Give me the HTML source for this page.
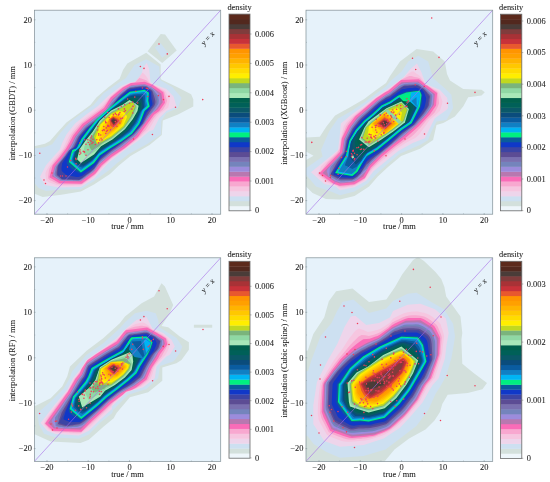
<!DOCTYPE html><html><head><meta charset="utf-8"><style>html,body{margin:0;padding:0;background:#fff}svg{display:block}text{stroke:#222;stroke-width:0.07px}</style></head><body><svg width="550" height="482" viewBox="0 0 550 482" font-family="'Liberation Serif', serif" font-size="8.4" fill="#222">
<rect width="550" height="482" fill="#fff"/>
<clipPath id="c0"><rect x="34.4" y="10.2" width="186.29999999999998" height="204.0"/></clipPath>
<rect x="34.4" y="10.2" width="186.29999999999998" height="204.0" fill="#e6f2fa"/>
<g clip-path="url(#c0)">
<polygon fill="#d3e0dc" points="147.6,51.3 160.7,34.1 165.1,34.5 176.7,50.5 162.2,62.9"/>
<polygon fill="#cde0f1" points="154.9,47.6 160.7,43.3 168.0,52.7 162.2,57.8"/>
<polygon fill="#d3e0dc" points="30.0,147.0 44.9,143.8 50.0,141.0 56.5,133.4 66.4,122.5 78.4,113.7 90.4,105.0 96.4,97.6 108.0,87.5 119.6,78.7 123.0,70.0 127.3,63.6 146.2,52.7 160.7,64.4 160.7,78.2 161.3,79.6 178.0,87.6 191.1,94.2 193.3,99.3 193.3,106.5 178.0,114.5 162.8,120.4 161.8,134.9 149.5,145.1 130.5,156.0 118.9,165.5 110.0,174.1 94.0,184.4 80.9,191.5 61.3,194.7 42.7,196.9 34.0,193.6 30.0,192.0"/>
<polygon fill="#cde0f1" points="30.0,149.0 44.5,147.2 52.2,144.3 60.9,132.3 70.7,121.4 82.7,112.6 93.6,105.0 103.6,93.3 118.2,83.1 125.8,78.2 134.5,65.1 146.2,59.3 159.3,66.5 160.0,78.2 161.0,80.5 172.2,86.9 181.6,97.8 178.0,108.0 166.4,113.1 161.3,121.0 161.1,134.2 148.0,143.6 129.1,153.8 116.0,164.0 110.0,169.5 94.0,181.1 80.9,189.3 59.1,189.8 46.0,191.0 38.7,188.0 34.4,183.0 30.0,181.0"/>
<polygon fill="#eed5eb" points="40.0,176.7 46.0,165.3 53.6,156.5 59.6,150.0 62.0,143.2 66.4,134.5 75.1,123.5 86.0,114.8 98.0,106.1 108.0,96.2 121.1,86.0 129.8,82.4 139.5,81.0 143.5,67.0 146.8,63.0 149.0,68.5 150.5,82.0 153.3,84.0 166.4,89.1 173.6,96.4 176.5,106.5 166.4,110.9 159.1,118.2 153.3,130.0 149.5,131.0 137.8,141.0 124.7,150.0 108.7,162.5 94.0,178.4 80.9,187.1 59.1,187.6 44.9,184.9"/>
<polygon fill="#f6c6e0" points="155.1,85.4 154.1,84.9 153.0,84.4 151.9,83.8 150.9,83.2 149.9,82.5 149.2,81.4 148.6,80.1 147.9,78.8 147.1,77.5 146.2,76.3 145.2,74.9 143.9,73.7 142.6,72.5 135.2,82.1 133.2,82.4 131.0,82.6 128.5,83.6 125.8,84.9 123.0,86.2 120.0,88.2 116.8,90.7 113.7,93.2 110.7,95.7 107.7,99.1 104.8,102.5 102.1,105.4 99.3,107.8 96.4,110.1 93.4,112.3 90.2,114.6 86.9,117.1 83.5,119.7 80.0,122.5 76.9,125.6 74.3,128.8 71.8,132.0 69.4,135.2 67.8,138.3 66.3,141.2 65.0,144.0 63.8,146.8 62.3,149.5 59.6,152.7 56.8,156.1 53.9,159.6 50.9,163.3 48.6,166.7 46.7,169.9 45.4,172.9 45.5,174.9 45.7,176.8 45.9,178.6 46.3,180.2 47.4,181.3 48.5,182.3 50.1,182.8 51.6,183.3 53.1,183.8 54.5,184.3 55.9,184.7 57.2,185.2 58.7,185.5 60.3,185.6 61.9,185.7 63.6,185.7 65.3,185.7 67.0,185.7 68.7,185.7 70.4,185.7 72.1,185.7 73.9,185.7 75.7,185.6 77.5,185.6 79.5,185.6 81.8,185.2 84.9,183.0 87.9,180.9 90.9,178.8 93.9,176.7 97.2,173.2 100.4,169.5 103.2,166.6 105.9,163.9 108.5,161.4 111.0,159.3 113.6,157.3 116.2,155.4 119.0,153.4 121.8,151.3 124.8,149.2 127.8,146.9 131.1,144.5 134.5,141.9 138.0,139.1 141.3,136.1 144.4,133.0 148.9,129.6 150.7,126.4 152.6,123.2 154.4,120.1 157.2,116.7 160.7,113.0 168.2,107.5 168.9,104.5 169.6,101.8 169.8,99.3 169.0,97.5 168.1,95.9 167.3,94.4 166.5,93.0 165.7,91.6 164.9,90.4 163.5,89.7 162.1,89.0 160.9,88.4 159.7,87.8 158.5,87.2 157.4,86.6 156.2,86.0"/>
<polygon fill="#f8a8d0" points="154.8,85.8 153.8,85.2 152.7,84.6 151.6,84.1 150.5,83.6 149.4,83.0 148.5,82.3 147.6,81.4 146.6,80.6 145.4,79.9 144.1,79.4 142.6,78.9 141.1,78.4 139.4,78.0 135.0,82.4 133.0,82.7 130.9,82.9 128.3,84.1 125.5,85.5 122.8,86.9 119.7,89.3 116.6,91.8 113.6,94.3 110.6,96.9 107.7,100.8 105.0,104.4 102.5,107.2 99.9,109.4 97.1,111.4 94.3,113.5 91.3,115.7 88.2,118.0 85.0,120.5 81.6,123.1 78.8,126.0 76.4,129.1 74.0,132.1 71.7,135.1 70.1,138.0 68.7,140.7 67.4,143.4 66.1,146.0 64.6,148.6 62.3,151.6 59.9,154.7 57.4,157.9 54.5,161.3 51.8,164.9 49.8,168.1 48.9,170.6 48.6,172.8 48.3,174.9 48.0,177.0 48.3,178.7 49.5,179.7 50.7,180.5 52.0,181.1 53.4,181.7 54.6,182.3 55.9,182.9 57.1,183.5 58.3,184.0 59.8,184.3 61.4,184.4 63.0,184.4 64.7,184.5 66.3,184.5 67.9,184.5 69.5,184.5 71.2,184.5 72.8,184.5 74.6,184.6 76.3,184.6 78.1,184.6 80.0,184.6 82.4,183.9 85.5,181.7 88.5,179.5 91.5,177.3 94.3,175.2 97.6,171.6 100.7,167.7 103.4,165.1 106.0,162.7 108.5,160.5 110.9,158.4 113.4,156.5 116.0,154.7 118.7,152.8 121.5,150.9 124.4,148.8 127.4,146.5 130.4,144.1 133.7,141.6 137.0,138.9 140.0,136.0 142.5,132.9 145.7,129.8 147.6,126.8 149.6,123.8 151.5,120.9 153.9,117.8 156.6,114.5 163.0,109.6 164.8,106.5 166.3,103.4 167.1,100.7 166.6,98.9 166.0,97.2 165.5,95.5 165.0,94.0 164.5,92.5 163.8,91.2 162.5,90.4 161.3,89.7 160.1,89.0 159.0,88.3 157.9,87.7 156.8,87.0 155.8,86.4"/>
<polygon fill="#fa6cb8" points="59.6,183.3 81.6,183.8 95.6,173.4 101.6,165.5 111.5,157.1 124.6,148.3 138.0,137.1 146.9,124.6 154.0,114.7 159.2,111.1 165.0,102.7 163.3,92.2 152.8,84.9 144.8,81.8 131.4,83.1 130.6,83.2 122.8,87.4 110.7,97.5 104.0,107.9 91.2,117.4 82.3,124.1 73.2,135.4 69.9,142.1 66.0,148.8 59.6,157.3 52.7,165.3 49.4,177.2"/>
<polygon fill="#b878b0" points="52.0,176.2 54.7,166.4 61.3,158.7 67.8,150.0 71.8,143.2 75.1,136.6 83.8,125.7 92.5,119.2 105.6,109.4 112.4,99.0 124.0,89.2 131.3,85.3 144.5,84.0 151.8,86.9 161.3,93.5 162.7,102.2 157.6,109.5 152.4,113.1 145.1,123.3 136.4,135.6 123.3,146.5 110.2,155.3 100.0,164.0 94.0,171.8 80.9,181.6 60.2,181.1"/>
<polygon fill="#9c8cdc" points="152.3,88.1 151.4,87.4 150.3,86.9 149.2,86.5 148.2,86.0 147.1,85.5 145.9,85.1 144.6,84.8 143.2,84.7 141.5,84.8 139.9,85.0 138.1,85.2 136.4,85.4 134.6,85.6 132.7,85.8 130.8,86.1 128.3,87.4 125.6,89.0 123.0,90.8 120.1,93.3 117.2,96.0 114.5,98.6 111.9,101.2 109.3,105.1 107.0,108.3 104.9,110.8 102.7,112.4 100.5,114.1 98.3,115.8 96.0,117.5 93.6,119.3 91.0,121.2 88.4,123.2 85.6,125.3 83.2,127.7 81.2,130.2 79.1,132.7 77.1,135.2 75.5,137.6 74.3,140.0 73.2,142.2 72.0,144.4 70.8,146.6 69.5,148.8 67.1,151.5 65.2,154.1 63.2,156.8 60.9,159.7 58.0,163.1 55.6,166.4 54.8,168.6 54.3,170.7 53.8,172.7 53.3,174.8 53.9,176.0 54.8,176.9 55.9,177.6 57.0,178.3 58.0,179.0 59.1,179.6 60.1,180.3 61.3,180.7 62.9,180.7 64.4,180.8 65.9,180.8 67.4,180.8 68.8,180.9 70.3,180.9 71.8,181.0 73.3,181.0 74.8,181.0 76.4,181.1 78.0,181.1 79.8,180.9 81.9,180.3 84.8,178.1 87.6,176.0 90.2,174.0 92.9,172.0 95.9,168.5 98.9,164.6 101.3,162.0 103.4,160.2 105.5,158.4 107.6,156.6 109.7,154.9 111.8,153.3 114.0,151.8 116.3,150.3 118.7,148.7 121.2,146.9 123.8,145.0 126.3,143.0 129.0,140.8 131.8,138.5 134.8,136.0 137.0,133.4 139.0,130.8 140.9,128.2 142.9,125.6 144.8,123.0 146.5,120.4 148.3,117.9 150.0,115.2 153.8,111.7 156.9,108.3 159.0,105.2 160.5,102.5 160.5,100.6 160.4,98.9 160.1,97.3 159.9,95.8 159.4,94.4 158.4,93.5 157.5,92.7 156.6,91.8 155.8,91.0 154.9,90.2 154.1,89.4 153.2,88.7"/>
<polygon fill="#7484bc" points="151.8,88.6 150.9,87.9 149.9,87.4 148.8,86.9 147.8,86.4 146.8,85.8 145.5,85.6 144.2,85.3 142.8,85.2 141.2,85.4 139.5,85.6 137.8,85.8 136.0,86.0 134.2,86.2 132.4,86.4 130.5,86.7 128.0,88.1 125.3,90.0 122.6,91.9 119.8,94.3 116.9,97.3 114.2,100.2 111.6,102.9 109.2,106.6 107.0,109.4 105.0,111.6 102.9,113.2 100.8,114.8 98.6,116.4 96.4,118.1 94.1,119.9 91.7,121.7 89.1,123.6 86.4,125.6 84.0,127.9 82.1,130.3 80.1,132.7 78.1,135.1 76.4,137.5 75.3,139.7 74.3,141.9 73.2,144.0 72.0,146.2 70.9,148.2 67.8,151.2 66.0,153.7 64.1,156.3 61.9,159.2 59.1,162.4 56.7,165.7 55.7,168.0 55.3,170.0 54.9,171.9 54.4,173.9 54.8,175.3 55.5,176.3 56.6,177.1 57.6,177.8 58.6,178.5 59.6,179.2 60.5,179.8 61.7,180.2 63.3,180.3 64.8,180.3 66.3,180.4 67.7,180.4 69.2,180.4 70.6,180.5 72.1,180.5 73.6,180.6 75.1,180.6 76.6,180.7 78.2,180.7 80.1,180.3 82.4,179.3 85.3,177.1 88.0,175.0 90.6,173.1 93.2,171.0 96.4,167.0 99.2,163.1 101.5,160.8 103.6,159.1 105.6,157.4 107.6,155.7 109.6,154.0 111.6,152.6 113.7,151.1 115.9,149.6 118.2,148.0 120.6,146.4 123.1,144.5 125.5,142.6 128.1,140.5 130.9,138.3 133.8,135.9 136.2,133.4 138.2,130.9 140.2,128.3 142.2,125.8 144.2,123.2 145.8,120.7 147.3,118.2 148.9,115.7 152.0,112.5 154.5,109.5 156.6,106.5 158.4,103.7 158.7,101.7 158.8,99.9 158.5,98.4 158.3,96.9 157.9,95.6 157.1,94.6 156.3,93.6 155.6,92.7 154.9,91.8 154.2,90.9 153.5,89.9 152.7,89.2"/>
<polygon fill="#7a70b0" points="151.3,89.1 150.4,88.5 149.4,87.9 148.5,87.3 147.5,86.7 146.5,86.2 145.1,86.0 143.8,85.9 142.3,85.8 140.8,85.9 139.1,86.1 137.4,86.4 135.6,86.6 133.9,86.9 132.0,87.1 130.1,87.4 127.7,88.8 124.9,90.9 122.2,93.0 119.4,95.4 116.5,98.7 113.8,101.8 111.4,104.7 109.1,108.1 107.0,110.4 105.0,112.4 103.1,113.9 101.0,115.5 99.0,117.1 96.8,118.7 94.6,120.4 92.3,122.1 89.8,124.0 87.2,125.9 84.9,128.1 82.9,130.4 81.0,132.7 79.1,135.1 77.4,137.4 76.3,139.5 75.3,141.6 74.3,143.7 73.3,145.7 72.2,147.7 68.4,150.9 66.7,153.3 65.0,155.9 62.9,158.6 60.2,161.8 57.7,165.0 56.6,167.4 56.3,169.3 55.9,171.2 55.6,173.1 55.8,174.5 56.2,175.8 57.2,176.5 58.2,177.2 59.1,178.0 60.1,178.7 61.0,179.4 62.2,179.8 63.7,179.8 65.2,179.9 66.6,179.9 68.1,180.0 69.5,180.0 71.0,180.1 72.4,180.1 73.9,180.2 75.4,180.2 76.9,180.2 78.5,180.3 80.5,179.7 83.0,178.2 85.8,176.1 88.4,174.1 91.0,172.1 93.6,170.1 96.8,165.6 99.6,161.7 101.7,159.7 103.7,158.0 105.7,156.4 107.6,154.8 109.5,153.2 111.4,151.8 113.5,150.4 115.5,148.9 117.7,147.4 120.0,145.8 122.4,144.0 124.8,142.2 127.3,140.2 130.0,138.1 132.8,135.8 135.3,133.4 137.3,130.9 139.4,128.4 141.5,125.9 143.6,123.3 145.0,120.9 146.3,118.6 147.7,116.2 150.1,113.4 152.1,110.7 154.1,107.9 156.3,104.9 156.9,102.8 157.1,101.0 156.9,99.5 156.6,98.0 156.3,96.7 155.7,95.6 155.1,94.6 154.6,93.5 154.0,92.5 153.5,91.5 153.0,90.5 152.1,89.8"/>
<polygon fill="#5c4c94" points="150.7,89.6 149.9,89.0 149.0,88.4 148.1,87.7 147.1,87.1 146.2,86.5 144.8,86.5 143.4,86.4 141.9,86.4 140.4,86.5 138.7,86.7 137.0,87.0 135.3,87.2 133.5,87.5 131.7,87.8 129.8,88.1 127.3,89.4 124.5,91.8 121.8,94.1 119.1,96.5 116.2,100.0 113.5,103.4 111.1,106.5 109.0,109.6 107.0,111.4 105.1,113.1 103.2,114.6 101.3,116.2 99.3,117.7 97.3,119.3 95.2,120.9 92.9,122.6 90.6,124.4 88.1,126.2 85.7,128.3 83.8,130.5 81.9,132.7 80.0,135.0 78.3,137.2 77.3,139.3 76.4,141.3 75.4,143.3 74.5,145.2 73.6,147.1 69.1,150.6 67.5,153.0 65.8,155.4 63.8,158.1 61.3,161.1 58.8,164.3 57.5,166.8 57.2,168.6 57.0,170.4 56.7,172.2 56.7,173.8 56.9,175.2 57.9,176.0 58.8,176.7 59.7,177.5 60.6,178.2 61.4,178.9 62.6,179.4 64.1,179.4 65.6,179.5 67.0,179.5 68.4,179.5 69.9,179.6 71.3,179.6 72.7,179.7 74.2,179.7 75.7,179.8 77.2,179.8 78.7,179.9 80.9,179.0 83.5,177.2 86.3,175.1 88.9,173.2 91.4,171.2 93.9,169.1 97.3,164.2 100.0,160.3 102.0,158.5 103.9,156.9 105.7,155.4 107.6,153.9 109.4,152.4 111.3,151.0 113.2,149.6 115.2,148.2 117.3,146.7 119.4,145.2 121.7,143.5 124.0,141.8 126.4,139.9 129.0,137.9 131.8,135.7 134.4,133.4 136.5,131.0 138.7,128.6 140.9,126.0 143.0,123.5 144.2,121.2 145.4,118.9 146.6,116.7 148.2,114.2 149.7,111.9 151.6,109.2 154.2,106.1 155.1,103.9 155.5,102.0 155.3,100.6 155.0,99.2 154.7,97.9 154.3,96.7 153.9,95.5 153.5,94.4 153.2,93.3 152.8,92.1 152.4,91.0 151.6,90.3"/>
<polygon fill="#3c44a4" points="57.5,174.5 58.5,165.3 65.6,156.5 70.0,150.0 74.5,147.5 79.5,136.6 87.1,127.9 95.8,121.4 108.9,111.0 118.2,98.0 128.4,88.9 140.0,87.0 146.0,86.9 151.8,91.3 154.0,103.6 151.8,108.0 148.0,111.6 142.2,124.0 133.0,134.0 121.3,142.8 108.7,152.0 100.0,159.2 94.0,168.6 79.8,179.5 62.4,178.9"/>
<polygon fill="#1038c8" points="149.1,90.5 148.4,89.9 147.6,89.3 146.8,88.8 146.0,88.2 145.0,87.9 143.6,88.0 142.3,88.1 140.9,88.1 139.6,88.2 138.1,88.4 136.6,88.6 135.1,88.8 133.6,89.1 132.0,89.3 130.2,89.8 128.3,90.5 126.0,92.2 123.5,94.3 121.1,96.3 118.9,98.3 116.5,100.9 114.3,103.6 112.2,106.1 110.4,108.4 108.6,110.4 106.8,111.9 105.1,113.3 103.3,114.8 101.4,116.3 99.5,117.9 97.6,119.5 95.7,121.2 93.7,123.0 91.6,124.8 89.4,126.7 87.3,128.7 85.6,130.8 83.8,132.8 82.0,135.0 80.5,137.1 79.4,139.0 78.5,140.9 77.6,142.7 76.8,144.6 75.9,146.3 71.8,149.9 68.8,153.0 67.5,155.3 65.6,158.0 63.6,160.9 62.1,163.4 61.9,165.2 61.6,166.9 61.5,168.5 61.6,170.0 62.0,171.2 62.8,172.0 63.7,172.8 64.5,173.5 65.4,174.3 66.2,175.0 67.5,175.2 68.8,175.4 70.1,175.7 71.4,175.9 72.7,176.2 74.0,176.4 75.3,176.7 76.6,176.9 78.1,177.0 80.1,176.4 82.0,175.9 84.9,173.7 87.7,171.6 90.3,169.7 93.1,167.1 96.0,164.2 99.5,159.1 101.7,156.6 103.6,155.1 105.5,153.7 107.3,152.3 109.1,150.9 110.9,149.6 112.7,148.3 114.6,147.0 116.6,145.7 118.6,144.3 120.7,142.8 122.9,141.2 125.1,139.5 127.5,137.8 130.0,135.9 132.7,133.9 134.7,131.6 136.7,129.3 138.7,127.0 140.7,124.7 142.0,122.4 143.0,120.3 143.9,118.3 144.8,116.3 145.6,114.4 146.4,112.5 148.7,110.0 150.1,107.7 152.3,105.1 152.4,103.5 152.1,102.3 151.9,101.0 151.7,99.9 151.4,98.7 151.3,97.6 151.2,96.4 151.1,95.2 151.0,94.0 150.9,92.8 150.6,91.8 149.9,91.0"/>
<polygon fill="#0a5c9c" points="148.1,91.5 147.3,91.0 146.5,90.5 145.8,90.0 145.0,89.4 143.7,89.4 142.3,89.6 140.9,89.8 139.6,90.0 138.2,90.1 136.9,90.3 135.4,90.5 134.0,90.7 132.6,90.9 131.1,91.1 129.2,91.8 127.1,93.2 124.8,94.9 122.6,96.6 120.5,98.4 118.4,100.1 116.3,102.0 114.2,103.9 112.3,105.7 110.4,107.4 108.5,109.2 106.6,110.8 104.7,112.5 102.9,114.1 101.0,115.8 99.1,117.4 97.1,119.1 95.4,121.0 93.7,123.0 92.0,124.9 90.3,126.8 88.6,128.7 87.1,130.6 85.7,132.6 84.1,134.5 82.7,136.5 81.4,138.4 80.3,140.2 79.5,142.0 78.6,143.7 77.8,145.4 76.1,147.6 71.0,151.8 70.4,153.6 69.5,155.5 68.7,157.4 68.0,159.3 67.6,160.9 67.2,162.6 67.2,163.9 67.8,164.8 68.4,165.6 69.2,166.3 69.9,166.9 70.7,167.6 71.4,168.2 72.1,168.9 73.0,169.4 73.9,169.9 74.7,170.4 75.6,170.9 76.5,171.4 77.4,172.0 78.3,172.6 79.3,173.2 80.6,173.3 83.1,171.8 85.4,170.3 87.9,168.5 90.3,166.8 92.5,165.2 95.5,161.8 98.5,158.2 100.7,155.6 102.5,154.2 104.2,153.0 105.9,151.8 107.5,150.7 109.2,149.5 110.9,148.4 112.6,147.3 114.4,146.1 116.3,144.9 118.3,143.7 120.4,142.3 122.5,140.8 124.7,139.2 127.0,137.5 129.5,135.7 132.2,133.8 133.9,131.5 135.7,129.3 137.4,127.1 139.1,124.9 140.4,122.8 141.2,120.8 142.1,118.9 142.8,117.1 143.5,115.3 144.2,113.6 145.2,111.7 146.3,109.8 150.1,106.3 150.1,104.9 149.9,103.7 149.6,102.6 149.4,101.5 149.1,100.5 149.1,99.3 149.1,98.0 149.2,96.8 149.2,95.5 149.3,94.2 149.3,92.9 148.9,92.1"/>
<polygon fill="#00f080" points="80.9,172.4 68.9,162.0 72.2,150.0 76.7,148.6 81.6,138.8 89.3,128.5 96.4,119.5 109.5,107.8 121.1,98.4 129.8,91.8 140.0,90.5 144.5,89.8 148.9,92.7 148.2,100.7 149.6,106.5 144.5,110.9 141.5,118.9 139.3,124.0 132.0,133.7 121.0,141.7 109.2,149.0 100.0,155.2 94.0,163.1"/>
<polygon fill="#00b4f4" points="147.0,92.6 146.2,92.1 145.5,91.6 144.7,91.1 143.6,91.0 142.3,91.2 140.9,91.4 139.6,91.6 138.3,91.7 137.0,91.9 135.7,92.1 134.4,92.2 133.0,92.4 131.6,92.6 129.9,93.3 128.0,94.4 125.9,96.0 123.8,97.6 121.8,99.2 119.8,100.7 117.9,102.3 116.0,103.8 114.2,105.3 112.4,106.8 110.5,108.3 108.7,109.8 107.0,111.4 105.2,113.0 103.4,114.6 101.6,116.2 99.8,117.8 98.0,119.5 96.3,121.3 94.8,123.1 93.4,125.0 91.9,126.8 90.5,128.6 89.2,130.3 87.8,132.1 86.5,133.9 85.2,135.7 83.8,137.5 82.6,139.3 81.6,141.0 80.8,142.6 80.0,144.2 79.2,145.8 75.9,148.9 75.3,150.5 72.2,153.7 71.8,155.2 71.4,156.8 70.9,158.4 70.5,160.0 70.3,161.4 70.8,162.3 71.5,162.9 72.2,163.5 72.9,164.1 73.6,164.7 74.3,165.3 75.0,165.9 75.6,166.5 76.3,167.1 77.0,167.7 77.8,168.3 78.5,169.0 79.2,169.6 80.0,170.3 81.3,170.4 83.2,169.5 85.7,167.8 88.1,166.1 90.3,164.5 92.9,162.1 95.7,159.1 98.2,156.3 100.3,153.9 101.9,152.7 103.5,151.7 104.9,150.7 106.4,149.7 108.0,148.6 109.5,147.7 111.0,146.7 112.6,145.7 114.3,144.7 116.1,143.6 117.9,142.4 119.8,141.2 121.8,139.9 123.9,138.4 126.1,136.8 128.4,135.1 130.9,133.3 132.6,131.2 134.2,129.1 135.7,127.1 137.3,125.0 138.6,123.0 139.4,121.1 140.2,119.4 140.9,117.6 141.5,116.0 142.1,114.4 142.7,112.9 143.6,111.2 146.0,108.6 146.9,106.8 148.2,104.8 147.9,103.7 147.6,102.7 147.4,101.7 147.3,100.6 147.3,99.4 147.4,98.2 147.5,96.9 147.6,95.7 147.8,94.4 147.6,93.3"/>
<polygon fill="#1080c4" points="81.0,169.9 92.6,161.6 98.6,153.7 108.1,147.3 119.9,140.0 130.6,132.3 137.6,123.0 139.6,118.2 142.8,109.7 147.4,105.8 146.2,100.9 146.8,93.7 144.0,91.9 140.3,92.5 130.6,93.7 122.3,100.0 110.8,109.3 97.9,120.9 90.9,129.7 83.3,139.9 78.1,150.3 73.8,151.6 71.2,161.3"/>
<polygon fill="#0a5ca0" points="143.2,94.3 142.5,93.8 141.3,93.8 140.1,93.9 138.8,94.0 137.6,94.1 136.5,94.2 135.3,94.3 134.1,94.3 132.9,94.6 131.5,94.9 130.2,95.2 128.4,96.2 126.4,97.7 124.4,99.1 122.6,100.5 120.8,101.8 119.1,103.2 117.4,104.5 115.8,105.7 114.2,106.9 112.6,108.1 111.0,109.4 109.5,110.7 107.9,112.1 106.4,113.5 104.9,114.8 103.5,116.1 102.0,117.5 100.5,118.8 99.0,120.2 97.6,121.7 96.4,123.2 95.2,124.8 94.1,126.2 92.9,127.7 91.8,129.2 90.8,130.6 89.7,132.0 88.6,133.5 87.5,134.9 86.4,136.4 85.3,137.9 84.1,139.4 83.3,140.8 82.6,142.2 81.9,143.5 81.1,144.9 80.4,146.3 79.6,147.8 74.6,152.1 74.2,153.5 73.8,154.9 73.4,156.2 73.0,157.6 72.6,159.1 72.4,160.4 72.9,161.1 73.4,161.8 73.9,162.5 74.5,163.0 75.1,163.6 75.8,164.1 76.4,164.7 77.0,165.3 77.7,165.8 78.4,166.4 79.3,166.7 80.3,167.0 81.2,167.3 82.2,167.7 84.2,166.5 86.5,164.9 88.6,163.5 90.7,161.8 92.7,160.2 95.3,157.3 97.9,153.9 99.8,152.0 101.2,151.0 102.6,150.1 104.0,149.2 105.5,148.2 106.9,147.2 108.4,146.3 109.9,145.3 111.5,144.4 113.1,143.3 114.9,142.3 116.7,141.1 118.6,139.8 120.6,138.4 122.7,136.9 124.9,135.3 127.2,133.6 129.5,131.7 131.2,129.7 132.7,127.6 134.3,125.6 135.8,123.6 136.8,121.7 137.6,119.9 138.5,118.1 139.2,116.4 139.9,114.8 140.5,113.2 141.2,111.6 142.5,109.6 145.6,106.5 145.5,105.3 145.3,104.2 145.1,103.2 144.9,102.1 145.0,100.9 145.0,99.8 145.0,98.6 145.0,97.5 144.9,96.3 144.7,95.3 144.0,94.8"/>
<polygon fill="#0a4c7c" points="141.5,96.1 140.8,95.6 139.7,95.5 138.6,95.6 137.5,95.6 136.4,95.6 135.4,95.6 134.3,95.5 133.3,95.5 132.0,95.8 130.6,96.3 129.2,96.8 127.4,97.8 125.5,99.2 123.8,100.4 122.1,101.6 120.4,102.8 118.7,104.0 117.1,105.2 115.6,106.3 114.1,107.4 112.5,108.5 111.0,109.6 109.5,111.0 107.9,112.4 106.5,113.7 105.0,115.0 103.5,116.3 102.1,117.6 100.6,119.0 99.1,120.3 97.8,121.8 96.6,123.4 95.5,124.9 94.4,126.3 93.4,127.8 92.3,129.2 91.3,130.6 90.3,131.9 89.3,133.3 88.2,134.7 87.1,136.1 86.0,137.6 84.8,139.1 84.0,140.5 83.1,141.9 82.4,143.3 81.6,144.7 80.8,146.1 79.9,147.5 75.7,151.3 75.2,152.8 74.8,154.1 74.5,155.4 74.1,156.7 73.8,158.1 73.5,159.4 73.8,160.2 74.2,161.0 74.5,161.8 75.1,162.4 75.7,162.9 76.3,163.5 77.0,164.1 77.6,164.6 78.2,165.2 78.9,165.7 80.1,165.6 81.3,165.6 82.4,165.6 83.5,165.7 85.5,164.5 87.6,163.1 89.6,161.7 91.7,159.9 93.8,158.1 96.2,155.4 98.6,152.4 100.2,150.7 101.6,149.8 102.9,149.0 104.3,148.1 105.6,147.2 107.0,146.3 108.4,145.4 109.8,144.5 111.3,143.6 112.9,142.6 114.5,141.6 116.2,140.4 118.0,139.2 119.9,137.9 121.8,136.5 123.8,134.9 126.0,133.3 128.2,131.5 129.8,129.6 131.3,127.7 132.8,125.8 134.2,123.9 135.3,122.1 136.2,120.4 137.1,118.6 137.9,117.0 138.6,115.4 139.3,113.8 140.0,112.2 141.2,110.4 143.9,107.6 143.9,106.4 143.8,105.2 143.7,104.2 143.6,103.1 143.7,101.9 143.6,100.9 143.4,99.9 143.3,98.9 143.2,97.9 142.9,97.0 142.2,96.5"/>
<polygon fill="#0a5868" points="139.7,97.8 139.0,97.4 138.1,97.3 137.1,97.2 136.1,97.1 135.2,97.0 134.3,96.9 133.3,96.8 132.4,96.7 131.1,97.1 129.6,97.7 128.2,98.3 126.5,99.3 124.7,100.6 123.1,101.7 121.5,102.7 119.9,103.8 118.4,104.8 116.9,105.8 115.4,106.9 113.9,107.9 112.5,108.8 111.0,109.9 109.4,111.3 108.0,112.6 106.5,113.9 105.0,115.2 103.6,116.5 102.1,117.8 100.7,119.1 99.2,120.5 98.0,122.0 96.9,123.5 95.8,125.0 94.8,126.4 93.8,127.8 92.8,129.2 91.9,130.5 90.9,131.8 89.9,133.2 88.9,134.5 87.8,135.9 86.7,137.3 85.5,138.8 84.6,140.2 83.7,141.6 82.9,143.0 82.1,144.4 81.2,145.8 80.3,147.3 76.8,150.6 76.3,152.0 75.9,153.3 75.6,154.6 75.2,155.9 74.9,157.2 74.6,158.5 74.8,159.4 75.0,160.3 75.2,161.2 75.8,161.8 76.4,162.3 76.9,162.9 77.5,163.4 78.1,164.0 78.8,164.5 79.5,165.0 80.9,164.6 82.3,164.2 83.6,164.0 84.9,163.7 86.8,162.6 88.7,161.2 90.6,159.9 92.8,158.0 94.8,156.1 97.1,153.5 99.2,150.8 100.7,149.4 102.0,148.6 103.2,147.8 104.5,147.0 105.7,146.2 107.0,145.4 108.4,144.5 109.7,143.7 111.1,142.8 112.6,141.9 114.2,140.9 115.8,139.8 117.4,138.6 119.1,137.4 120.9,136.0 122.8,134.6 124.8,133.0 126.8,131.4 128.5,129.6 129.9,127.8 131.3,126.0 132.7,124.2 133.7,122.5 134.7,120.8 135.7,119.1 136.7,117.5 137.4,115.9 138.1,114.4 138.8,112.9 140.0,111.1 142.2,108.6 142.3,107.4 142.3,106.2 142.3,105.1 142.3,104.1 142.4,102.9 142.2,102.0 141.9,101.2 141.7,100.3 141.4,99.5 141.0,98.7 140.4,98.3"/>
<polygon fill="#006058" points="137.9,99.6 137.3,99.2 136.5,99.0 135.6,98.8 134.8,98.7 134.0,98.5 133.2,98.3 132.3,98.1 131.5,97.9 130.2,98.3 128.7,99.1 127.2,99.9 125.5,100.9 123.9,102.0 122.4,102.9 120.9,103.8 119.5,104.7 118.0,105.7 116.6,106.5 115.2,107.4 113.8,108.3 112.4,109.2 110.9,110.2 109.4,111.5 108.0,112.8 106.5,114.1 105.1,115.4 103.7,116.7 102.2,118.0 100.8,119.3 99.4,120.6 98.2,122.1 97.2,123.7 96.2,125.1 95.2,126.5 94.2,127.9 93.3,129.2 92.4,130.5 91.5,131.8 90.6,133.0 89.5,134.4 88.5,135.7 87.4,137.1 86.2,138.5 85.2,139.9 84.3,141.3 83.4,142.7 82.5,144.1 81.6,145.6 80.6,147.1 78.0,149.8 77.3,151.3 77.0,152.5 76.7,153.7 76.3,155.0 76.0,156.2 75.7,157.5 75.8,158.5 75.8,159.6 75.8,160.6 76.4,161.1 77.0,161.7 77.5,162.2 78.1,162.8 78.7,163.3 79.3,163.9 80.1,164.3 81.7,163.6 83.3,162.9 84.8,162.3 86.2,161.7 88.0,160.6 89.9,159.4 91.6,158.2 93.8,156.1 95.8,154.0 97.9,151.6 99.9,149.3 101.2,148.2 102.4,147.4 103.5,146.7 104.7,146.0 105.9,145.2 107.1,144.4 108.3,143.7 109.6,142.9 111.0,142.1 112.4,141.2 113.8,140.2 115.3,139.2 116.8,138.0 118.4,136.8 120.0,135.6 121.8,134.2 123.6,132.8 125.5,131.3 127.1,129.6 128.5,127.9 129.8,126.3 131.1,124.6 132.2,122.9 133.3,121.3 134.3,119.7 135.4,118.0 136.2,116.5 136.9,115.0 137.7,113.5 138.7,111.8 140.5,109.6 140.8,108.4 140.8,107.2 140.9,106.1 141.0,105.0 141.1,103.9 140.8,103.1 140.4,102.4 140.0,101.7 139.6,101.1 139.2,100.4 138.6,100.0"/>
<polygon fill="#00604c" points="136.1,101.4 135.6,101.0 134.9,100.7 134.2,100.5 133.5,100.2 132.8,99.9 132.1,99.7 131.4,99.4 130.6,99.1 129.3,99.6 127.7,100.5 126.2,101.4 124.6,102.5 123.1,103.4 121.7,104.2 120.4,105.0 119.0,105.7 117.7,106.5 116.4,107.2 115.0,108.0 113.7,108.8 112.3,109.5 110.9,110.4 109.4,111.8 108.0,113.1 106.5,114.4 105.1,115.6 103.7,116.9 102.3,118.2 100.9,119.4 99.5,120.7 98.5,122.3 97.4,123.8 96.5,125.2 95.6,126.6 94.7,127.9 93.8,129.2 93.0,130.4 92.2,131.7 91.2,132.9 90.2,134.2 89.1,135.5 88.0,136.8 86.9,138.2 85.8,139.6 84.9,141.0 83.9,142.4 83.0,143.8 82.0,145.3 81.0,146.9 79.1,149.1 78.4,150.5 78.0,151.7 77.7,152.9 77.4,154.1 77.1,155.3 76.9,156.5 76.7,157.6 76.6,158.8 76.5,160.0 77.0,160.5 77.6,161.0 78.1,161.6 78.7,162.1 79.3,162.7 79.8,163.2 80.6,163.6 82.5,162.5 84.3,161.5 86.0,160.6 87.6,159.8 89.3,158.6 91.0,157.5 92.6,156.4 94.8,154.2 96.9,151.9 98.8,149.7 100.5,147.8 101.7,146.9 102.7,146.2 103.8,145.6 104.9,144.9 106.0,144.2 107.2,143.5 108.3,142.8 109.5,142.1 110.8,141.3 112.1,140.5 113.5,139.6 114.8,138.5 116.2,137.4 117.7,136.3 119.2,135.1 120.7,133.8 122.4,132.5 124.1,131.1 125.8,129.6 127.1,128.0 128.4,126.5 129.6,124.9 130.7,123.3 131.8,121.8 133.0,120.2 134.1,118.6 134.9,117.1 135.7,115.6 136.5,114.1 137.5,112.5 138.8,110.7 139.2,109.4 139.4,108.2 139.5,107.1 139.7,106.0 139.9,104.9 139.4,104.3 138.8,103.7 138.4,103.2 137.9,102.6 137.4,102.2 136.8,101.8"/>
<polygon fill="#a8e8b8" points="80.9,163.1 77.1,159.3 79.3,150.0 80.0,148.6 86.0,139.9 92.5,132.0 99.8,120.7 111.2,110.4 122.6,104.7 129.5,100.1 138.6,105.8 137.5,111.0 132.9,119.0 124.9,129.2 112.4,139.5 101.0,146.3 94.0,154.4"/>
<polygon fill="#8fd8a4" points="134.1,103.2 133.6,103.0 133.1,102.7 132.7,102.5 132.2,102.2 131.8,102.0 131.3,101.8 130.6,101.7 129.9,101.8 129.2,101.8 128.5,101.8 127.4,102.5 126.2,103.3 125.0,104.0 123.9,104.7 122.9,105.4 121.9,106.0 121.0,106.5 120.0,106.9 119.0,107.4 118.0,107.9 117.0,108.4 116.0,109.0 114.9,109.5 113.7,110.1 112.5,110.7 111.3,111.4 110.0,112.4 108.8,113.6 107.6,114.7 106.4,115.8 105.1,117.0 103.8,118.1 102.5,119.3 101.2,120.6 100.1,121.9 99.1,123.2 98.1,124.5 97.3,125.8 96.6,127.0 95.8,128.2 95.1,129.4 94.4,130.6 93.6,131.8 92.7,133.1 91.6,134.5 90.6,135.9 89.5,137.4 88.4,138.9 87.4,140.4 86.6,141.9 85.8,143.3 84.9,144.9 84.4,146.2 84.2,147.3 84.1,148.3 83.9,149.4 83.7,150.5 83.6,151.7 83.4,152.9 83.6,153.6 84.1,154.2 84.6,154.8 85.1,155.4 85.6,156.0 86.1,156.6 87.8,155.8 89.6,154.8 91.5,153.6 93.3,152.4 94.9,151.4 96.5,150.4 99.1,147.6 101.3,145.2 102.7,144.1 103.9,143.5 105.0,142.8 106.1,142.2 107.2,141.6 108.3,140.9 109.4,140.3 110.5,139.6 111.7,138.9 112.9,138.0 114.1,137.0 115.3,136.0 116.5,135.0 117.7,134.0 118.9,133.0 120.2,132.0 121.5,130.9 122.8,129.8 124.2,128.7 125.3,127.4 126.3,126.1 127.3,124.8 128.2,123.6 129.2,122.3 130.1,121.0 131.1,119.8 131.9,118.6 132.6,117.4 133.3,116.2 134.0,115.0 134.6,113.9 135.2,112.7 135.7,111.6 136.0,110.7 136.2,109.7 136.5,108.8 136.8,107.9 137.1,106.9 136.8,106.4 136.6,105.8 136.4,105.3 136.0,104.9 135.6,104.6 135.2,104.2 134.8,103.9 134.5,103.5"/>
<polygon fill="#7ab47c" points="133.9,103.4 133.4,103.2 132.9,102.9 132.5,102.7 132.0,102.5 131.5,102.3 131.0,102.1 130.1,102.4 129.2,102.8 128.2,103.2 127.3,103.5 126.3,104.2 125.2,104.9 124.2,105.5 123.2,106.2 122.2,106.7 121.3,107.2 120.5,107.7 119.6,108.1 118.7,108.6 117.8,109.0 116.8,109.5 115.8,110.0 114.8,110.5 113.7,111.0 112.6,111.6 111.4,112.2 110.3,113.2 109.2,114.2 108.0,115.3 106.9,116.4 105.8,117.4 104.6,118.5 103.4,119.6 102.2,120.8 101.1,122.0 100.0,123.2 98.9,124.4 98.2,125.6 97.5,126.8 96.9,127.9 96.3,129.0 95.7,130.1 95.1,131.2 94.4,132.3 93.7,133.5 92.9,134.7 92.1,135.9 91.4,137.1 90.7,138.3 90.3,139.4 90.0,140.4 89.6,141.4 89.5,142.3 89.5,143.0 89.5,143.8 89.5,144.5 89.5,145.3 89.5,146.1 89.5,146.9 89.8,147.5 90.1,148.0 90.4,148.5 90.8,149.1 91.1,149.6 91.5,150.2 92.4,150.1 93.7,149.6 95.1,148.7 96.5,147.8 97.9,147.0 99.1,146.3 100.9,144.6 102.5,143.2 103.7,142.4 104.7,141.8 105.7,141.3 106.7,140.7 107.7,140.2 108.7,139.6 109.7,139.0 110.8,138.5 111.8,137.7 113.0,136.9 114.1,135.9 115.2,135.0 116.3,134.1 117.4,133.2 118.5,132.3 119.7,131.3 120.9,130.4 122.1,129.3 123.4,128.3 124.6,127.2 125.4,125.9 126.3,124.7 127.1,123.5 128.0,122.4 128.8,121.2 129.6,120.1 130.3,119.0 131.0,117.9 131.7,116.8 132.4,115.7 132.9,114.6 133.4,113.6 133.8,112.6 134.2,111.7 134.5,110.8 134.8,109.9 135.2,109.0 135.5,108.0 135.6,107.3 135.7,106.5 135.8,105.8 135.5,105.4 135.2,104.9 134.9,104.5 134.6,104.1 134.3,103.7"/>
<polygon fill="#c0d820" points="97.2,144.6 93.8,136.5 99.5,124.5 111.2,113.3 122.6,107.5 130.6,102.4 134.0,103.6 135.2,106.4 130.6,116.7 123.8,126.9 111.2,137.2"/>
<polygon fill="#ffee00" points="97.0,143.5 95.5,138.1 100.7,124.4 111.5,114.6 119.2,111.0 124.4,112.1 127.2,116.7 123.2,125.8 111.0,136.1"/>
<polygon fill="#ffdc00" points="123.0,114.7 122.9,114.5 122.7,114.3 122.5,114.1 122.2,114.0 121.9,113.9 121.6,113.8 121.3,113.7 121.0,113.6 120.7,113.4 120.4,113.3 120.1,113.2 119.7,113.1 119.4,112.9 119.0,112.8 118.4,112.9 117.8,113.2 117.1,113.5 116.4,113.9 115.7,114.3 115.0,114.6 114.3,115.0 113.5,115.4 112.7,115.8 111.9,116.2 111.1,116.8 110.2,117.5 109.4,118.1 108.5,118.9 107.7,119.7 106.9,120.6 106.2,121.4 105.4,122.2 104.6,123.0 103.8,123.8 102.9,124.7 102.5,125.5 102.0,126.4 101.6,127.2 101.2,127.9 100.8,128.7 100.6,129.3 100.5,130.0 100.3,130.6 100.2,131.1 100.0,131.7 99.9,132.2 99.7,132.7 99.6,133.3 99.4,133.8 99.3,134.3 99.2,134.8 99.0,135.3 99.0,135.8 99.0,136.1 99.1,136.5 99.1,136.9 99.2,137.2 99.2,137.6 99.3,138.0 99.3,138.4 99.4,138.8 99.4,139.2 99.5,139.6 99.5,140.1 99.7,140.4 100.2,140.4 100.7,140.3 101.4,140.0 102.1,139.6 102.8,139.3 103.4,139.0 104.1,138.7 104.7,138.5 105.3,138.2 105.9,137.9 106.6,137.5 107.3,137.0 108.0,136.6 108.7,136.2 109.3,135.8 110.0,135.3 110.7,134.9 111.4,134.4 112.1,133.8 112.9,133.2 113.6,132.7 114.3,132.0 115.0,131.4 115.8,130.8 116.5,130.1 117.3,129.5 118.0,128.8 118.8,128.1 119.7,127.4 120.5,126.6 121.4,125.8 122.0,125.0 122.6,124.1 123.0,123.4 123.3,122.7 123.5,122.0 123.8,121.3 124.0,120.7 124.2,120.1 124.5,119.5 124.7,118.9 124.9,118.3 125.0,117.8 124.9,117.4 124.9,117.0 124.8,116.6 124.6,116.4 124.4,116.1 124.2,115.9 124.0,115.7 123.8,115.5 123.6,115.3 123.4,115.1 123.2,114.9"/>
<polygon fill="#ffc800" points="102.1,138.3 102.7,128.1 109.5,119.5 118.1,114.4 123.2,117.8 121.5,124.1 113.5,131.5 106.7,136.6"/>
<polygon fill="#ffb400" points="120.1,116.5 119.9,116.5 119.8,116.4 119.6,116.3 119.5,116.3 119.3,116.2 119.2,116.1 119.0,116.1 118.8,116.0 118.7,115.9 118.5,115.8 118.3,115.8 118.1,115.7 117.9,115.6 117.7,115.5 117.4,115.5 117.0,115.6 116.6,115.7 116.3,115.8 115.9,115.9 115.5,116.0 115.0,116.1 114.6,116.2 114.1,116.3 113.5,116.4 112.9,116.5 112.2,116.9 111.6,117.5 111.0,118.1 110.4,118.7 109.8,119.2 109.2,119.9 108.7,120.5 108.2,121.2 107.8,121.8 107.4,122.4 107.1,123.0 106.8,123.5 106.5,124.1 106.3,124.6 106.0,125.1 105.7,125.6 105.4,126.1 105.1,126.6 104.8,127.1 104.7,127.5 104.7,127.9 104.6,128.2 104.6,128.6 104.5,128.9 104.5,129.2 104.4,129.6 104.4,129.9 104.3,130.2 104.3,130.5 104.3,130.8 104.4,131.1 104.4,131.3 104.5,131.5 104.6,131.8 104.6,132.0 104.7,132.3 104.7,132.6 104.8,132.8 104.8,133.1 104.9,133.5 105.0,133.8 105.0,134.2 105.2,134.4 105.6,134.3 106.0,134.2 106.4,134.2 106.8,134.1 107.3,134.1 107.7,134.0 108.1,133.9 108.7,133.6 109.4,133.2 110.0,132.8 110.6,132.3 111.2,131.9 111.8,131.5 112.4,131.1 113.0,130.7 113.7,130.3 114.3,129.8 115.0,129.3 115.6,128.8 116.3,128.3 116.9,127.6 117.5,127.0 118.2,126.4 118.8,125.8 119.4,125.1 120.1,124.5 120.7,123.8 121.0,123.2 121.4,122.5 121.8,121.9 122.1,121.3 122.2,120.8 122.2,120.3 122.2,119.9 122.2,119.5 122.2,119.1 122.2,118.8 122.2,118.5 122.0,118.2 121.9,118.0 121.7,117.8 121.5,117.7 121.4,117.5 121.3,117.4 121.1,117.2 121.0,117.1 120.9,116.9 120.8,116.8 120.6,116.8 120.4,116.7 120.3,116.6"/>
<polygon fill="#ffa000" points="106.1,129.2 107.8,121.8 112.4,115.5 120.4,117.2 122.1,121.2 115.8,128.1 109.5,131.5"/>
<polygon fill="#ff9500" points="117.7,117.5 117.6,117.5 117.5,117.5 117.4,117.5 117.3,117.4 117.2,117.4 117.1,117.4 117.0,117.3 116.9,117.3 116.8,117.3 116.7,117.3 116.6,117.2 116.5,117.2 116.4,117.2 116.2,117.1 116.1,117.1 115.9,117.0 115.8,117.0 115.6,116.9 115.4,116.9 115.2,116.8 115.0,116.7 114.7,116.6 114.3,116.5 113.9,116.4 113.5,116.2 112.9,116.2 112.3,116.5 111.8,117.0 111.3,117.6 110.9,118.1 110.4,118.6 109.9,119.1 109.5,119.6 109.4,120.2 109.2,120.7 109.0,121.2 108.9,121.6 108.8,122.0 108.8,122.3 108.7,122.7 108.7,123.0 108.7,123.2 108.7,123.5 108.6,123.7 108.6,124.0 108.6,124.2 108.5,124.4 108.5,124.6 108.5,124.8 108.4,125.0 108.4,125.2 108.4,125.4 108.3,125.6 108.3,125.8 108.3,126.0 108.2,126.3 108.2,126.5 108.2,126.7 108.1,126.9 108.1,127.2 108.2,127.3 108.3,127.4 108.4,127.5 108.5,127.6 108.7,127.7 108.8,127.7 108.9,127.8 109.0,127.9 109.2,128.0 109.3,128.2 109.5,128.3 109.6,128.4 109.8,128.5 110.0,128.7 110.2,128.8 110.4,129.0 110.8,129.0 111.2,128.8 111.6,128.7 112.1,128.5 112.5,128.4 113.0,128.3 113.5,128.2 114.1,128.1 114.7,127.7 115.3,127.3 115.9,126.7 116.5,126.1 117.1,125.4 117.6,124.8 118.1,124.2 118.6,123.7 119.1,123.1 119.7,122.5 120.2,121.9 120.7,121.3 120.7,120.8 120.6,120.3 120.4,119.9 120.2,119.6 120.0,119.3 119.8,119.1 119.7,118.9 119.6,118.7 119.5,118.5 119.4,118.3 119.3,118.2 119.3,118.0 119.1,117.9 119.0,117.9 118.8,117.8 118.6,117.8 118.5,117.8 118.4,117.7 118.3,117.7 118.1,117.7 118.0,117.6 117.9,117.6 117.8,117.6"/>
<polygon fill="#e8582e" points="117.0,118.3 116.9,118.3 116.8,118.2 116.7,118.2 116.7,118.2 116.6,118.1 116.5,118.1 116.4,118.1 116.4,118.1 116.3,118.0 116.2,118.0 116.1,118.0 116.0,117.9 115.9,117.9 115.8,117.8 115.7,117.8 115.6,117.7 115.5,117.7 115.4,117.6 115.2,117.5 115.0,117.5 114.8,117.4 114.6,117.3 114.3,117.1 113.9,117.0 113.5,116.7 113.0,116.8 112.5,117.1 112.0,117.5 111.6,117.9 111.0,118.3 110.5,118.7 110.0,119.1 109.6,119.7 109.7,120.3 109.8,120.8 109.8,121.2 109.8,121.5 109.9,121.8 109.9,122.1 110.0,122.3 110.0,122.5 110.0,122.7 110.0,122.9 110.0,123.1 110.0,123.2 110.1,123.4 110.1,123.5 110.1,123.7 110.1,123.8 110.1,123.9 110.1,124.0 110.1,124.2 110.1,124.3 110.1,124.4 110.1,124.5 110.1,124.7 110.1,124.8 110.1,124.9 110.0,125.1 110.0,125.2 110.1,125.3 110.2,125.4 110.2,125.4 110.3,125.5 110.4,125.6 110.5,125.6 110.6,125.7 110.6,125.8 110.7,125.9 110.8,125.9 110.9,126.0 111.0,126.1 111.1,126.2 111.3,126.3 111.4,126.5 111.5,126.6 111.7,126.7 112.0,126.7 112.3,126.7 112.6,126.7 112.9,126.7 113.2,126.8 113.6,127.0 114.1,127.2 114.6,126.8 115.1,126.3 115.6,125.8 116.1,125.2 116.5,124.7 117.0,124.2 117.4,123.7 117.8,123.2 118.2,122.7 118.6,122.3 119.0,121.8 119.4,121.3 119.6,120.9 119.5,120.5 119.2,120.2 119.0,119.9 118.8,119.7 118.7,119.5 118.5,119.4 118.4,119.2 118.3,119.1 118.2,119.0 118.1,118.9 118.1,118.8 118.0,118.7 117.8,118.7 117.7,118.6 117.6,118.6 117.5,118.5 117.4,118.5 117.3,118.5 117.3,118.4 117.2,118.4 117.1,118.4 117.0,118.3"/>
<polygon fill="#c8323a" points="109.5,119.5 113.5,117.2 118.6,120.7 114.1,126.4"/>
<polygon fill="#a83236" points="115.7,119.3 115.6,119.2 115.6,119.2 115.6,119.2 115.5,119.2 115.5,119.1 115.4,119.1 115.4,119.1 115.4,119.1 115.3,119.0 115.3,119.0 115.2,119.0 115.2,118.9 115.1,118.9 115.0,118.8 115.0,118.8 114.9,118.7 114.8,118.7 114.7,118.6 114.6,118.5 114.5,118.5 114.4,118.4 114.2,118.2 114.0,118.1 113.8,117.9 113.4,117.8 113.1,118.0 112.8,118.2 112.4,118.5 112.0,118.7 111.6,118.9 111.1,119.2 110.6,119.5 110.2,119.9 110.5,120.4 110.8,120.8 111.0,121.1 111.1,121.3 111.3,121.5 111.4,121.7 111.4,121.8 111.5,121.9 111.6,122.0 111.6,122.1 111.7,122.1 111.7,122.2 111.8,122.2 111.8,122.3 111.8,122.3 111.9,122.4 111.9,122.4 111.9,122.5 112.0,122.5 112.0,122.6 112.0,122.6 112.0,122.6 112.1,122.7 112.1,122.7 112.1,122.7 112.1,122.8 112.1,122.8 112.2,122.8 112.2,122.9 112.2,122.9 112.2,122.9 112.3,123.0 112.3,123.0 112.3,123.1 112.4,123.1 112.4,123.1 112.4,123.2 112.5,123.2 112.5,123.3 112.5,123.4 112.6,123.4 112.6,123.5 112.7,123.6 112.7,123.7 112.8,123.8 112.9,123.9 113.0,124.1 113.1,124.2 113.3,124.5 113.5,124.8 113.8,125.3 114.2,125.3 114.6,124.8 114.9,124.4 115.3,124.0 115.6,123.6 115.9,123.2 116.2,122.9 116.4,122.5 116.7,122.2 117.0,121.9 117.2,121.5 117.5,121.2 117.8,120.9 117.6,120.6 117.3,120.4 117.1,120.3 116.9,120.2 116.8,120.0 116.6,120.0 116.5,119.9 116.5,119.8 116.4,119.8 116.3,119.7 116.2,119.7 116.2,119.6 116.1,119.6 116.1,119.5 116.0,119.5 116.0,119.5 115.9,119.4 115.9,119.4 115.8,119.4 115.8,119.4 115.7,119.3 115.7,119.3"/>
<polygon fill="#803c3c" points="115.3,119.6 115.3,119.6 115.3,119.6 115.2,119.6 115.2,119.5 115.2,119.5 115.1,119.5 115.1,119.5 115.1,119.4 115.0,119.4 115.0,119.4 115.0,119.4 114.9,119.3 114.9,119.3 114.8,119.3 114.8,119.2 114.7,119.2 114.6,119.1 114.6,119.1 114.5,119.0 114.4,118.9 114.3,118.9 114.1,118.8 114.0,118.6 113.8,118.5 113.5,118.4 113.2,118.6 112.9,118.7 112.6,118.9 112.3,119.1 112.0,119.3 111.6,119.6 111.2,119.8 110.9,120.1 110.9,120.5 111.2,120.9 111.4,121.1 111.5,121.3 111.6,121.5 111.7,121.6 111.8,121.7 111.9,121.8 111.9,121.8 112.0,121.9 112.0,122.0 112.0,122.0 112.1,122.1 112.1,122.1 112.1,122.2 112.2,122.2 112.2,122.2 112.2,122.3 112.2,122.3 112.3,122.3 112.3,122.4 112.3,122.4 112.3,122.4 112.4,122.4 112.4,122.5 112.4,122.5 112.4,122.5 112.4,122.6 112.5,122.6 112.5,122.6 112.5,122.6 112.5,122.7 112.5,122.7 112.6,122.7 112.6,122.8 112.6,122.8 112.6,122.8 112.7,122.9 112.7,122.9 112.7,123.0 112.8,123.0 112.8,123.1 112.9,123.2 112.9,123.2 113.0,123.3 113.1,123.4 113.2,123.5 113.3,123.7 113.4,123.9 113.6,124.1 113.8,124.5 114.2,124.4 114.4,124.1 114.7,123.8 115.0,123.4 115.2,123.1 115.5,122.8 115.7,122.5 115.9,122.3 116.2,122.0 116.4,121.7 116.6,121.5 116.8,121.2 117.0,120.9 116.8,120.7 116.6,120.6 116.4,120.4 116.3,120.3 116.2,120.3 116.1,120.2 116.0,120.1 115.9,120.1 115.9,120.0 115.8,120.0 115.8,119.9 115.7,119.9 115.7,119.9 115.6,119.8 115.6,119.8 115.6,119.8 115.5,119.8 115.5,119.7 115.5,119.7 115.4,119.7 115.4,119.7 115.4,119.6"/>
<polygon fill="#4a3c38" points="111.3,120.5 113.6,118.9 116.3,121.0 113.9,123.8"/>
<line x1="34.4" y1="214.2" x2="220.7" y2="10.2" stroke="#a56be8" stroke-width="0.7" stroke-opacity="0.85"/>
<circle cx="127.6" cy="99.0" r="0.78" fill="#f03c58"/>
<circle cx="107.4" cy="130.5" r="0.78" fill="#f03c58"/>
<circle cx="80.8" cy="153.1" r="0.78" fill="#f03c58"/>
<circle cx="86.0" cy="155.3" r="0.78" fill="#f03c58"/>
<circle cx="107.9" cy="125.4" r="0.78" fill="#f03c58"/>
<circle cx="117.9" cy="120.7" r="0.78" fill="#f03c58"/>
<circle cx="104.3" cy="130.1" r="0.78" fill="#f03c58"/>
<circle cx="70.7" cy="160.6" r="0.78" fill="#f03c58"/>
<circle cx="104.7" cy="117.1" r="0.78" fill="#f03c58"/>
<circle cx="108.7" cy="126.1" r="0.78" fill="#f03c58"/>
<circle cx="129.6" cy="103.3" r="0.78" fill="#f03c58"/>
<circle cx="124.2" cy="111.6" r="0.78" fill="#f03c58"/>
<circle cx="106.0" cy="122.8" r="0.78" fill="#f03c58"/>
<circle cx="118.4" cy="114.9" r="0.78" fill="#f03c58"/>
<circle cx="79.9" cy="151.8" r="0.78" fill="#f03c58"/>
<circle cx="103.8" cy="126.5" r="0.78" fill="#f03c58"/>
<circle cx="105.8" cy="122.6" r="0.78" fill="#f03c58"/>
<circle cx="102.4" cy="130.6" r="0.78" fill="#f03c58"/>
<circle cx="120.9" cy="118.6" r="0.78" fill="#f03c58"/>
<circle cx="96.8" cy="139.8" r="0.78" fill="#f03c58"/>
<circle cx="146.3" cy="88.2" r="0.78" fill="#f03c58"/>
<circle cx="116.3" cy="114.6" r="0.78" fill="#f03c58"/>
<circle cx="102.0" cy="139.9" r="0.78" fill="#f03c58"/>
<circle cx="125.5" cy="110.6" r="0.78" fill="#f03c58"/>
<circle cx="122.6" cy="118.1" r="0.78" fill="#f03c58"/>
<circle cx="91.5" cy="136.1" r="0.78" fill="#f03c58"/>
<circle cx="137.7" cy="103.0" r="0.78" fill="#f03c58"/>
<circle cx="75.8" cy="158.4" r="0.78" fill="#f03c58"/>
<circle cx="119.0" cy="114.1" r="0.78" fill="#f03c58"/>
<circle cx="113.0" cy="126.1" r="0.78" fill="#f03c58"/>
<circle cx="113.6" cy="114.7" r="0.78" fill="#f03c58"/>
<circle cx="98.4" cy="142.9" r="0.78" fill="#f03c58"/>
<circle cx="86.0" cy="144.2" r="0.78" fill="#f03c58"/>
<circle cx="67.5" cy="167.0" r="0.78" fill="#f03c58"/>
<circle cx="83.3" cy="151.4" r="0.78" fill="#f03c58"/>
<circle cx="98.8" cy="135.1" r="0.78" fill="#f03c58"/>
<circle cx="134.8" cy="97.1" r="0.78" fill="#f03c58"/>
<circle cx="132.7" cy="102.1" r="0.78" fill="#f03c58"/>
<circle cx="92.9" cy="139.2" r="0.78" fill="#f03c58"/>
<circle cx="110.5" cy="129.7" r="0.78" fill="#f03c58"/>
<circle cx="115.3" cy="121.6" r="0.78" fill="#f03c58"/>
<circle cx="84.6" cy="152.1" r="0.78" fill="#f03c58"/>
<circle cx="97.6" cy="130.0" r="0.78" fill="#f03c58"/>
<circle cx="106.3" cy="127.9" r="0.78" fill="#f03c58"/>
<circle cx="116.9" cy="126.4" r="0.78" fill="#f03c58"/>
<circle cx="133.0" cy="106.4" r="0.78" fill="#f03c58"/>
<circle cx="116.2" cy="123.6" r="0.78" fill="#f03c58"/>
<circle cx="84.3" cy="151.7" r="0.78" fill="#f03c58"/>
<circle cx="142.4" cy="88.0" r="0.78" fill="#f03c58"/>
<circle cx="91.9" cy="143.5" r="0.78" fill="#f03c58"/>
<circle cx="79.7" cy="154.5" r="0.78" fill="#f03c58"/>
<circle cx="90.0" cy="140.3" r="0.78" fill="#f03c58"/>
<circle cx="76.1" cy="159.6" r="0.78" fill="#f03c58"/>
<circle cx="88.0" cy="149.7" r="0.78" fill="#f03c58"/>
<circle cx="118.8" cy="114.6" r="0.78" fill="#f03c58"/>
<circle cx="113.4" cy="114.6" r="0.78" fill="#f03c58"/>
<circle cx="131.9" cy="109.1" r="0.78" fill="#f03c58"/>
<circle cx="119.9" cy="123.1" r="0.78" fill="#f03c58"/>
<circle cx="97.8" cy="126.5" r="0.78" fill="#f03c58"/>
<circle cx="100.8" cy="135.0" r="0.78" fill="#f03c58"/>
<circle cx="107.6" cy="126.3" r="0.78" fill="#f03c58"/>
<circle cx="106.5" cy="131.4" r="0.78" fill="#f03c58"/>
<circle cx="124.7" cy="104.8" r="0.78" fill="#f03c58"/>
<circle cx="98.7" cy="133.7" r="0.78" fill="#f03c58"/>
<circle cx="115.3" cy="113.4" r="0.78" fill="#f03c58"/>
<circle cx="110.6" cy="119.9" r="0.78" fill="#f03c58"/>
<circle cx="101.1" cy="138.3" r="0.78" fill="#f03c58"/>
<circle cx="90.9" cy="137.9" r="0.78" fill="#f03c58"/>
<circle cx="124.4" cy="108.9" r="0.78" fill="#f03c58"/>
<circle cx="91.2" cy="141.3" r="0.78" fill="#f03c58"/>
<circle cx="135.8" cy="91.3" r="0.78" fill="#f03c58"/>
<circle cx="89.6" cy="144.6" r="0.78" fill="#f03c58"/>
<circle cx="76.1" cy="163.7" r="0.78" fill="#f03c58"/>
<circle cx="107.9" cy="125.9" r="0.78" fill="#f03c58"/>
<circle cx="121.2" cy="106.3" r="0.78" fill="#f03c58"/>
<circle cx="118.4" cy="108.9" r="0.78" fill="#f03c58"/>
<circle cx="95.3" cy="144.5" r="0.78" fill="#f03c58"/>
<circle cx="107.8" cy="112.6" r="0.78" fill="#f03c58"/>
<circle cx="114.5" cy="125.4" r="0.78" fill="#f03c58"/>
<circle cx="105.5" cy="121.2" r="0.78" fill="#f03c58"/>
<circle cx="80.0" cy="149.9" r="0.78" fill="#f03c58"/>
<circle cx="87.8" cy="139.7" r="0.78" fill="#f03c58"/>
<circle cx="119.9" cy="112.6" r="0.78" fill="#f03c58"/>
<circle cx="147.5" cy="88.6" r="0.78" fill="#f03c58"/>
<circle cx="84.7" cy="139.8" r="0.78" fill="#f03c58"/>
<circle cx="79.8" cy="143.0" r="0.78" fill="#f03c58"/>
<circle cx="105.8" cy="133.5" r="0.78" fill="#f03c58"/>
<circle cx="103.6" cy="129.7" r="0.78" fill="#f03c58"/>
<circle cx="108.8" cy="126.2" r="0.78" fill="#f03c58"/>
<circle cx="132.8" cy="113.0" r="0.78" fill="#f03c58"/>
<circle cx="92.9" cy="142.4" r="0.78" fill="#f03c58"/>
<circle cx="147.7" cy="96.5" r="0.78" fill="#f03c58"/>
<circle cx="99.7" cy="140.1" r="0.78" fill="#f03c58"/>
<circle cx="88.3" cy="142.5" r="0.78" fill="#f03c58"/>
<circle cx="109.1" cy="117.6" r="0.78" fill="#f03c58"/>
<circle cx="39.8" cy="153.3" r="0.78" fill="#f03c58"/>
<circle cx="159.0" cy="44.0" r="0.78" fill="#f03c58"/>
<circle cx="167.3" cy="53.9" r="0.78" fill="#f03c58"/>
<circle cx="140.4" cy="66.5" r="0.78" fill="#f03c58"/>
<circle cx="144.0" cy="68.4" r="0.78" fill="#f03c58"/>
<circle cx="202.7" cy="99.6" r="0.78" fill="#f03c58"/>
<circle cx="169.0" cy="96.4" r="0.78" fill="#f03c58"/>
<circle cx="175.5" cy="107.3" r="0.78" fill="#f03c58"/>
<circle cx="163.5" cy="99.6" r="0.78" fill="#f03c58"/>
<circle cx="158.4" cy="95.6" r="0.78" fill="#f03c58"/>
<circle cx="152.4" cy="134.5" r="0.78" fill="#f03c58"/>
<circle cx="133.5" cy="139.0" r="0.78" fill="#f03c58"/>
<circle cx="44.0" cy="180.0" r="0.78" fill="#f03c58"/>
<circle cx="45.5" cy="183.5" r="0.78" fill="#f03c58"/>
<circle cx="52.0" cy="173.0" r="0.78" fill="#f03c58"/>
<circle cx="60.5" cy="176.0" r="0.78" fill="#f03c58"/>
<circle cx="62.5" cy="176.0" r="0.78" fill="#f03c58"/>
<circle cx="66.0" cy="176.0" r="0.78" fill="#f03c58"/>
</g>
<rect x="34.4" y="10.2" width="186.29999999999998" height="204.0" fill="none" stroke="#86949a" stroke-width="0.75"/>
<text x="209.6" y="40.0" font-size="7.6" font-style="italic" text-anchor="middle" transform="rotate(-47.6 209.6 40.0)">y = x</text>
<text x="47.0" y="223.1" text-anchor="middle">−20</text>
<text x="31.9" y="203.4" text-anchor="end">−20</text>
<line x1="47.0" y1="214.79999999999998" x2="47.0" y2="213.0" stroke="#7d8a90" stroke-width="0.5"/>
<line x1="33.8" y1="200.6" x2="35.6" y2="200.6" stroke="#7d8a90" stroke-width="0.5"/>
<text x="88.2" y="223.1" text-anchor="middle">−10</text>
<text x="31.9" y="158.2" text-anchor="end">−10</text>
<line x1="88.2" y1="214.79999999999998" x2="88.2" y2="213.0" stroke="#7d8a90" stroke-width="0.5"/>
<line x1="33.8" y1="155.4" x2="35.6" y2="155.4" stroke="#7d8a90" stroke-width="0.5"/>
<text x="129.5" y="223.1" text-anchor="middle">0</text>
<text x="31.9" y="113.0" text-anchor="end">0</text>
<line x1="129.5" y1="214.79999999999998" x2="129.5" y2="213.0" stroke="#7d8a90" stroke-width="0.5"/>
<line x1="33.8" y1="110.2" x2="35.6" y2="110.2" stroke="#7d8a90" stroke-width="0.5"/>
<text x="170.8" y="223.1" text-anchor="middle">10</text>
<text x="31.9" y="67.8" text-anchor="end">10</text>
<line x1="170.8" y1="214.79999999999998" x2="170.8" y2="213.0" stroke="#7d8a90" stroke-width="0.5"/>
<line x1="33.8" y1="65.0" x2="35.6" y2="65.0" stroke="#7d8a90" stroke-width="0.5"/>
<text x="212.0" y="223.1" text-anchor="middle">20</text>
<text x="31.9" y="22.6" text-anchor="end">20</text>
<line x1="212.0" y1="214.79999999999998" x2="212.0" y2="213.0" stroke="#7d8a90" stroke-width="0.5"/>
<line x1="33.8" y1="19.8" x2="35.6" y2="19.8" stroke="#7d8a90" stroke-width="0.5"/>
<line x1="67.6" y1="214.2" x2="67.6" y2="213.29999999999998" stroke="#7d8a90" stroke-width="0.4"/>
<line x1="34.4" y1="178.0" x2="35.3" y2="178.0" stroke="#7d8a90" stroke-width="0.4"/>
<line x1="108.9" y1="214.2" x2="108.9" y2="213.29999999999998" stroke="#7d8a90" stroke-width="0.4"/>
<line x1="34.4" y1="132.8" x2="35.3" y2="132.8" stroke="#7d8a90" stroke-width="0.4"/>
<line x1="150.1" y1="214.2" x2="150.1" y2="213.29999999999998" stroke="#7d8a90" stroke-width="0.4"/>
<line x1="34.4" y1="87.6" x2="35.3" y2="87.6" stroke="#7d8a90" stroke-width="0.4"/>
<line x1="191.4" y1="214.2" x2="191.4" y2="213.29999999999998" stroke="#7d8a90" stroke-width="0.4"/>
<line x1="34.4" y1="42.4" x2="35.3" y2="42.4" stroke="#7d8a90" stroke-width="0.4"/>
<text x="127.5" y="229.4" text-anchor="middle">true / mm</text>
<text x="15.4" y="113.2" text-anchor="middle" font-size="8.5" transform="rotate(-90 15.4 113.2)">interpolation (GBDT) / mm</text>
<rect x="229" y="205.88" width="21" height="5.22" fill="#eef6fb"/>
<rect x="229" y="200.97" width="21" height="5.22" fill="#d3e0dc"/>
<rect x="229" y="196.05" width="21" height="5.22" fill="#cde0f1"/>
<rect x="229" y="191.13" width="21" height="5.22" fill="#eed5eb"/>
<rect x="229" y="186.21" width="21" height="5.22" fill="#f6c6e0"/>
<rect x="229" y="181.30" width="21" height="5.22" fill="#f8a8d0"/>
<rect x="229" y="176.38" width="21" height="5.22" fill="#fa6cb8"/>
<rect x="229" y="171.46" width="21" height="5.22" fill="#b878b0"/>
<rect x="229" y="166.54" width="21" height="5.22" fill="#9c8cdc"/>
<rect x="229" y="161.63" width="21" height="5.22" fill="#7484bc"/>
<rect x="229" y="156.71" width="21" height="5.22" fill="#7a70b0"/>
<rect x="229" y="151.79" width="21" height="5.22" fill="#5c4c94"/>
<rect x="229" y="146.87" width="21" height="5.22" fill="#3c44a4"/>
<rect x="229" y="141.96" width="21" height="5.22" fill="#1038c8"/>
<rect x="229" y="137.04" width="21" height="5.22" fill="#0a5c9c"/>
<rect x="229" y="132.12" width="21" height="5.22" fill="#00f080"/>
<rect x="229" y="127.20" width="21" height="5.22" fill="#00b4f4"/>
<rect x="229" y="122.28" width="21" height="5.22" fill="#1080c4"/>
<rect x="229" y="117.37" width="21" height="5.22" fill="#0a5ca0"/>
<rect x="229" y="112.45" width="21" height="5.22" fill="#0a4c7c"/>
<rect x="229" y="107.53" width="21" height="5.22" fill="#0a5868"/>
<rect x="229" y="102.61" width="21" height="5.22" fill="#006058"/>
<rect x="229" y="97.70" width="21" height="5.22" fill="#00604c"/>
<rect x="229" y="92.78" width="21" height="5.22" fill="#a8e8b8"/>
<rect x="229" y="87.86" width="21" height="5.22" fill="#8fd8a4"/>
<rect x="229" y="82.94" width="21" height="5.22" fill="#7ab47c"/>
<rect x="229" y="78.03" width="21" height="5.22" fill="#c0d820"/>
<rect x="229" y="73.11" width="21" height="5.22" fill="#ffee00"/>
<rect x="229" y="68.19" width="21" height="5.22" fill="#ffdc00"/>
<rect x="229" y="63.27" width="21" height="5.22" fill="#ffc800"/>
<rect x="229" y="58.36" width="21" height="5.22" fill="#ffb400"/>
<rect x="229" y="53.44" width="21" height="5.22" fill="#ffa000"/>
<rect x="229" y="48.52" width="21" height="5.22" fill="#ff9500"/>
<rect x="229" y="43.61" width="21" height="5.22" fill="#e8582e"/>
<rect x="229" y="38.69" width="21" height="5.22" fill="#c8323a"/>
<rect x="229" y="33.77" width="21" height="5.22" fill="#a83236"/>
<rect x="229" y="28.85" width="21" height="5.22" fill="#803c3c"/>
<rect x="229" y="23.93" width="21" height="5.22" fill="#4a3c38"/>
<rect x="229" y="19.02" width="21" height="5.22" fill="#52281e"/>
<rect x="229" y="14.10" width="21" height="5.22" fill="#5c2a1c"/>
<rect x="229" y="14.1" width="21" height="196.70000000000002" fill="none" stroke="#6a6a6a" stroke-width="0.8"/>
<text x="239.5" y="9.8" text-anchor="middle">density</text>
<line x1="250" y1="210.4" x2="251.5" y2="210.4" stroke="#6a6a6a" stroke-width="0.5"/>
<text x="255.0" y="213.2">0</text>
<line x1="250" y1="181.0" x2="251.5" y2="181.0" stroke="#6a6a6a" stroke-width="0.5"/>
<text x="255.0" y="183.8">0.001</text>
<line x1="250" y1="151.6" x2="251.5" y2="151.6" stroke="#6a6a6a" stroke-width="0.5"/>
<text x="255.0" y="154.4">0.002</text>
<line x1="250" y1="122.2" x2="251.5" y2="122.2" stroke="#6a6a6a" stroke-width="0.5"/>
<text x="255.0" y="125.0">0.003</text>
<line x1="250" y1="92.8" x2="251.5" y2="92.8" stroke="#6a6a6a" stroke-width="0.5"/>
<text x="255.0" y="95.6">0.004</text>
<line x1="250" y1="63.4" x2="251.5" y2="63.4" stroke="#6a6a6a" stroke-width="0.5"/>
<text x="255.0" y="66.2">0.005</text>
<line x1="250" y1="34.0" x2="251.5" y2="34.0" stroke="#6a6a6a" stroke-width="0.5"/>
<text x="255.0" y="36.8">0.006</text>
<clipPath id="c1"><rect x="306" y="10.2" width="186.7" height="204.0"/></clipPath>
<rect x="306" y="10.2" width="186.7" height="204.0" fill="#e6f2fa"/>
<g clip-path="url(#c1)">
<polygon fill="#d3e0dc" points="300.0,137.5 306.0,137.5 319.8,136.7 326.4,126.5 335.1,115.6 349.6,107.6 364.2,98.9 375.8,90.2 386.0,82.9 390.0,76.0 400.0,61.6 416.6,49.1 433.2,51.6 444.8,61.6 447.0,74.0 450.0,80.5 463.2,89.0 481.5,89.8 484.8,92.3 481.5,95.6 468.2,97.3 463.2,106.4 454.9,116.4 443.3,123.0 436.5,124.9 433.1,139.9 420.0,148.7 401.1,156.0 388.0,166.9 377.8,176.4 369.1,186.5 354.5,196.0 340.0,199.6 325.9,198.9 312.6,193.1 306.0,186.4 300.0,182.0 300.0,160.0 306.0,159.9 313.5,155.7 306.0,151.6 300.0,151.0"/>
<polygon fill="#cde0f1" points="300.0,169.0 306.0,168.2 322.6,156.5 321.0,150.0 324.9,141.1 329.3,130.9 338.0,118.5 351.1,111.3 364.2,102.5 375.8,93.8 386.0,86.5 390.0,81.5 401.6,71.6 408.3,61.6 418.2,55.8 428.2,61.6 433.2,78.2 444.8,88.2 451.4,94.8 453.1,108.1 446.5,120.0 436.5,121.6 431.5,131.6 428.2,139.9 420.0,145.1 399.6,153.8 386.5,164.7 376.4,174.2 367.6,183.6 354.5,191.6 340.0,195.3 330.9,191.4 316.0,186.4 306.0,174.8 300.0,172.0"/>
<polygon fill="#eed5eb" points="311.0,172.3 334.2,153.2 338.0,150.0 339.5,138.2 340.9,123.6 351.1,114.9 364.2,105.5 375.8,96.7 386.0,90.2 393.1,84.9 403.3,77.4 410.5,69.0 417.0,63.5 421.5,72.5 425.7,84.0 439.8,89.8 447.3,98.1 448.1,108.1 446.4,110.0 434.8,118.3 429.8,128.2 424.8,138.2 412.7,142.9 398.2,150.9 385.1,161.8 373.5,171.3 366.2,180.7 354.5,187.3 340.0,190.2 335.9,186.4 324.3,183.9"/>
<polygon fill="#f6c6e0" points="425.9,84.5 425.2,83.7 424.6,82.7 423.9,81.7 423.3,80.6 422.6,79.6 421.9,78.5 421.1,77.3 420.2,76.3 419.1,75.5 417.9,74.6 416.6,73.7 415.3,72.7 413.9,71.6 411.8,71.6 408.5,73.6 404.8,76.9 401.5,79.2 398.3,81.7 395.0,84.2 391.9,86.7 388.8,89.1 385.9,91.1 382.9,93.0 379.8,95.0 376.6,97.1 373.4,99.5 370.2,102.1 366.9,104.7 363.6,107.4 360.1,110.1 356.4,112.9 352.7,115.9 349.4,119.3 346.0,122.7 343.8,126.3 342.9,129.8 342.1,132.9 341.3,135.8 340.5,138.5 340.2,141.0 339.9,143.2 339.6,145.3 339.4,147.3 339.1,149.1 336.8,152.0 333.3,155.5 327.6,160.5 321.1,166.3 320.1,169.0 318.8,171.9 317.2,175.0 318.5,176.0 319.7,177.0 320.9,177.9 322.1,178.9 323.2,179.7 324.3,180.6 325.3,181.5 326.4,182.2 327.7,182.7 329.0,183.3 330.3,183.8 331.6,184.3 333.0,184.7 334.4,185.1 335.8,185.5 337.0,186.1 338.2,186.9 339.6,187.5 341.1,188.0 343.2,187.8 345.3,187.5 347.5,187.1 349.8,186.7 352.2,186.4 354.7,185.7 357.8,184.0 361.0,182.2 364.1,180.3 368.2,175.2 371.8,170.5 374.9,167.1 377.8,164.6 380.6,162.1 383.4,159.7 386.2,157.4 389.0,155.0 391.9,152.6 394.8,150.2 397.9,147.9 401.5,145.7 405.3,143.3 409.7,140.7 415.3,138.0 419.2,134.5 421.8,130.8 424.6,127.1 427.1,123.5 429.6,119.9 434.5,115.7 439.8,111.1 440.9,107.7 441.9,104.6 442.4,101.7 441.9,99.4 441.1,97.4 440.4,95.6 439.8,93.9 439.2,92.3 438.2,91.0 436.7,90.1 435.3,89.4 434.0,88.7 432.7,88.0 431.5,87.4 430.4,86.7 429.2,86.1 428.2,85.6 427.1,85.0"/>
<polygon fill="#f8a8d0" points="425.7,84.7 425.0,83.9 424.3,83.0 423.5,82.1 422.7,81.3 421.9,80.4 421.0,79.5 420.2,78.6 419.0,78.0 417.6,77.6 416.1,77.3 414.6,76.9 413.0,76.5 411.4,76.0 409.4,76.1 406.8,77.1 404.0,78.6 401.3,79.7 398.1,82.2 394.8,84.8 391.7,87.4 388.7,89.9 385.8,91.7 382.8,93.6 379.8,95.6 376.7,97.6 373.6,100.1 370.4,102.7 367.3,105.3 364.0,108.0 360.7,110.7 357.3,113.5 353.8,116.5 351.0,119.8 348.1,123.1 345.9,126.5 344.7,129.8 343.5,132.8 342.4,135.7 341.3,138.4 340.9,140.8 340.6,143.0 340.3,145.0 340.1,147.0 339.8,148.8 338.6,151.0 336.9,153.6 332.6,157.6 327.7,162.3 325.0,165.8 321.9,169.8 318.4,174.1 319.7,175.1 320.9,176.1 322.1,177.0 323.3,177.9 324.4,178.7 325.5,179.5 326.5,180.3 327.6,181.1 328.8,181.7 329.9,182.3 331.1,183.0 332.2,183.6 333.5,184.1 334.8,184.6 336.2,185.0 337.5,185.6 338.7,186.2 340.3,186.5 342.0,186.6 344.0,186.5 346.1,186.2 348.2,185.9 350.4,185.6 352.7,185.3 355.3,184.6 358.3,182.8 361.4,180.9 364.5,179.1 369.0,172.1 372.4,167.8 375.3,164.9 378.0,162.3 380.6,159.9 383.2,157.5 385.8,155.4 388.4,153.2 391.1,151.0 393.7,148.8 396.6,146.6 399.7,144.4 403.1,142.1 406.7,139.7 411.0,137.0 414.4,134.0 417.4,130.7 420.6,127.4 423.5,124.0 426.3,120.6 430.3,116.8 434.5,112.8 436.3,109.4 438.0,106.2 439.0,103.2 438.9,100.9 438.6,98.8 438.4,96.8 438.2,94.9 438.0,93.0 437.1,91.7 435.8,90.8 434.5,90.0 433.3,89.2 432.1,88.5 431.0,87.8 429.9,87.1 428.9,86.5 427.9,85.8 426.9,85.2"/>
<polygon fill="#fa6cb8" points="333.2,183.4 339.7,185.8 354.5,184.3 364.9,178.0 370.9,167.6 382.0,156.6 393.9,146.7 406.3,137.2 418.5,126.5 429.9,114.5 436.1,105.6 437.1,92.9 427.0,85.5 427.0,85.5 425.0,84.7 424.6,83.7 418.9,79.3 401.1,80.1 398.7,81.9 388.7,90.5 384.9,92.6 376.0,98.6 365.7,107.4 355.3,116.3 348.1,125.8 341.9,138.3 339.9,152.0 319.2,173.4"/>
<polygon fill="#b878b0" points="322.6,173.1 342.0,153.0 344.0,139.0 350.0,127.0 356.9,117.8 367.1,109.1 377.3,100.4 386.0,94.5 390.0,92.3 401.6,82.3 418.2,81.5 425.7,87.3 434.8,94.0 434.0,104.8 428.2,113.1 417.0,124.9 404.9,135.5 392.5,145.0 380.5,155.0 369.1,166.2 363.3,176.4 353.8,182.2 340.0,183.6 334.2,181.4"/>
<polygon fill="#9c8cdc" points="423.7,86.6 422.9,86.0 422.0,85.3 421.2,84.7 420.3,84.1 419.4,83.4 418.4,82.9 417.4,82.4 415.8,82.5 414.3,82.5 412.7,82.6 411.1,82.7 409.5,82.8 407.8,82.9 406.1,82.9 404.2,83.2 402.1,83.7 399.6,85.1 396.6,87.5 393.8,89.9 391.1,92.2 388.5,93.9 386.0,95.2 383.4,97.0 380.8,98.8 378.1,100.7 375.3,102.9 372.6,105.3 369.9,107.6 367.2,110.0 364.4,112.4 361.5,114.9 358.6,117.4 356.1,120.3 353.9,123.2 351.7,126.0 349.9,128.8 348.6,131.5 347.3,134.1 346.1,136.5 344.9,138.9 344.4,141.0 344.1,142.9 343.9,144.7 343.6,146.5 343.4,148.1 343.1,149.7 342.9,151.2 342.5,152.8 339.7,155.9 336.4,159.5 332.4,163.8 327.6,168.9 326.7,171.3 327.2,172.6 327.7,173.9 328.1,175.2 328.7,176.4 329.7,177.1 330.8,177.8 331.8,178.5 332.9,179.2 333.9,179.9 334.9,180.6 336.1,181.1 337.4,181.6 338.7,182.0 340.0,182.4 341.6,182.5 343.4,182.4 345.2,182.2 347.1,182.1 349.0,181.9 350.9,181.8 353.1,181.3 355.7,180.2 358.9,177.6 362.3,174.5 365.4,171.7 369.8,164.4 372.4,162.1 374.8,159.8 377.1,157.6 379.3,155.5 381.5,153.6 383.6,151.8 385.8,150.0 387.9,148.2 390.1,146.4 392.3,144.6 394.7,142.7 397.1,140.8 399.6,138.8 402.2,136.7 404.9,134.4 407.7,132.1 410.6,129.6 413.8,126.9 417.0,124.0 419.7,121.1 422.6,118.1 425.5,114.9 428.0,111.8 430.1,108.8 432.3,105.7 432.8,103.4 433.0,101.3 433.2,99.3 433.4,97.4 433.5,95.5 433.0,94.1 431.9,93.2 430.9,92.3 429.9,91.5 429.0,90.7 428.1,90.0 427.2,89.3 426.3,88.6 425.5,87.9 424.6,87.2"/>
<polygon fill="#7484bc" points="423.3,87.1 422.4,86.5 421.6,85.9 420.7,85.2 419.8,84.6 418.9,84.0 417.9,83.6 416.7,83.2 415.2,83.3 413.7,83.4 412.1,83.5 410.6,83.6 409.0,83.6 407.3,83.7 405.6,83.8 403.6,84.3 401.4,85.1 398.9,86.6 396.1,88.9 393.4,91.1 390.8,93.3 388.4,94.8 385.9,96.0 383.4,97.8 380.8,99.6 378.1,101.4 375.5,103.6 372.9,105.9 370.3,108.2 367.6,110.6 364.9,112.9 362.1,115.3 359.3,117.8 356.9,120.6 354.7,123.3 352.6,126.1 350.8,128.8 349.5,131.4 348.2,133.9 347.0,136.3 345.8,138.7 345.2,140.8 344.9,142.6 344.6,144.4 344.3,146.1 344.1,147.7 343.8,149.3 343.6,150.8 343.2,152.3 341.1,155.0 338.3,158.2 334.9,162.0 330.9,166.4 329.8,168.9 329.7,170.6 329.6,172.3 329.3,174.2 329.3,175.9 330.4,176.5 331.5,177.2 332.5,177.9 333.5,178.5 334.6,179.1 335.6,179.8 336.8,180.3 338.0,180.8 339.4,181.1 340.8,181.4 342.3,181.5 344.1,181.4 345.8,181.3 347.6,181.2 349.5,181.1 351.4,181.0 353.7,180.3 356.3,178.9 359.9,175.5 363.7,171.2 366.5,168.7 370.3,162.9 372.7,160.8 375.0,158.7 377.2,156.8 379.4,154.9 381.5,153.0 383.6,151.3 385.7,149.5 387.8,147.8 389.9,146.0 392.1,144.2 394.3,142.3 396.6,140.4 398.9,138.4 401.4,136.4 403.9,134.2 406.6,132.0 409.6,129.6 412.9,127.0 416.2,124.2 418.7,121.3 421.3,118.4 424.1,115.4 426.5,112.4 428.6,109.4 430.7,106.4 431.5,104.0 431.7,102.0 431.9,100.0 432.1,98.1 432.3,96.2 432.0,94.8 431.0,93.8 430.1,92.9 429.2,92.1 428.3,91.3 427.5,90.5 426.6,89.7 425.8,89.0 425.0,88.3 424.1,87.7"/>
<polygon fill="#7a70b0" points="422.8,87.5 421.9,87.0 421.1,86.4 420.2,85.8 419.3,85.2 418.5,84.6 417.3,84.3 416.0,84.1 414.5,84.2 413.0,84.3 411.5,84.4 410.0,84.4 408.4,84.5 406.8,84.6 405.1,84.7 403.1,85.3 400.8,86.5 398.3,88.2 395.6,90.3 393.0,92.4 390.5,94.4 388.2,95.7 385.8,96.9 383.3,98.6 380.8,100.3 378.2,102.1 375.7,104.4 373.1,106.6 370.6,108.9 368.0,111.2 365.4,113.5 362.8,115.8 360.1,118.2 357.7,120.8 355.6,123.5 353.5,126.2 351.6,128.8 350.3,131.4 349.1,133.8 347.9,136.2 346.7,138.4 346.0,140.5 345.7,142.4 345.3,144.1 345.1,145.8 344.8,147.4 344.5,148.9 344.3,150.4 343.9,151.9 342.4,154.2 340.3,156.9 337.5,160.2 334.3,164.0 332.9,166.5 332.3,168.5 331.4,170.8 330.5,173.2 329.9,175.3 331.0,175.9 332.1,176.6 333.2,177.2 334.2,177.8 335.3,178.4 336.4,179.0 337.5,179.5 338.7,180.0 340.1,180.3 341.5,180.5 343.1,180.6 344.7,180.5 346.4,180.5 348.2,180.4 350.0,180.3 351.8,180.3 354.2,179.2 356.9,177.6 360.8,173.5 365.1,167.8 367.6,165.7 370.8,161.4 373.0,159.5 375.2,157.7 377.3,155.9 379.4,154.2 381.5,152.4 383.5,150.7 385.6,149.0 387.6,147.3 389.7,145.6 391.8,143.8 393.9,142.0 396.1,140.1 398.3,138.1 400.6,136.1 402.9,134.0 405.6,131.9 408.6,129.5 411.9,127.0 415.3,124.3 417.7,121.6 420.1,118.8 422.7,115.8 425.0,112.9 427.0,110.1 429.0,107.2 430.1,104.7 430.4,102.7 430.6,100.8 430.9,98.9 431.1,97.0 431.0,95.5 430.2,94.4 429.3,93.5 428.4,92.6 427.6,91.8 426.9,91.0 426.1,90.2 425.4,89.4 424.6,88.7 423.7,88.1"/>
<polygon fill="#5c4c94" points="422.3,88.0 421.5,87.4 420.6,86.9 419.7,86.3 418.9,85.7 418.0,85.2 416.7,85.0 415.3,85.0 413.9,85.1 412.4,85.1 410.9,85.2 409.4,85.3 407.9,85.4 406.3,85.5 404.6,85.6 402.6,86.4 400.1,88.0 397.6,89.7 395.1,91.7 392.6,93.6 390.2,95.5 388.0,96.5 385.7,97.7 383.3,99.4 380.8,101.1 378.3,102.9 375.8,105.1 373.4,107.3 370.9,109.5 368.5,111.7 366.0,114.0 363.4,116.3 360.8,118.6 358.5,121.1 356.4,123.7 354.4,126.3 352.5,128.8 351.2,131.3 350.0,133.7 348.8,136.0 347.7,138.2 346.7,140.3 346.4,142.1 346.1,143.8 345.8,145.5 345.5,147.0 345.2,148.5 345.0,150.0 344.7,151.5 343.8,153.3 342.2,155.6 340.1,158.4 337.6,161.5 336.1,164.1 334.8,166.5 333.3,169.2 331.6,172.2 330.6,174.7 331.7,175.3 332.8,175.9 333.9,176.5 334.9,177.1 336.0,177.6 337.1,178.2 338.2,178.7 339.3,179.3 340.8,179.4 342.3,179.5 343.8,179.6 345.4,179.6 347.0,179.6 348.7,179.6 350.4,179.5 352.2,179.5 354.8,178.2 357.6,176.4 361.8,171.4 366.5,164.5 368.7,162.7 371.3,159.9 373.4,158.2 375.4,156.6 377.4,155.1 379.4,153.5 381.5,151.8 383.4,150.2 385.4,148.5 387.5,146.9 389.5,145.2 391.6,143.5 393.6,141.6 395.6,139.7 397.7,137.8 399.8,135.8 402.0,133.8 404.6,131.7 407.6,129.5 410.9,127.1 414.4,124.4 416.6,121.8 418.9,119.1 421.3,116.3 423.6,113.5 425.5,110.7 427.4,107.9 428.8,105.4 429.1,103.4 429.4,101.5 429.6,99.6 429.9,97.8 430.0,96.2 429.3,95.1 428.5,94.1 427.7,93.2 427.0,92.3 426.3,91.5 425.6,90.7 424.9,89.9 424.1,89.2 423.2,88.6"/>
<polygon fill="#3c44a4" points="330.9,174.0 345.0,153.0 347.5,140.0 353.5,128.5 360.5,120.0 370.0,111.3 378.7,103.3 386.0,98.2 390.0,96.5 403.3,86.5 417.4,85.7 424.0,89.8 429.0,96.5 427.4,106.4 421.6,114.7 413.2,124.9 401.6,133.0 390.9,143.5 379.3,153.0 366.9,161.8 360.4,173.5 353.1,178.8 340.0,178.5"/>
<polygon fill="#1038c8" points="420.8,89.1 419.7,88.8 418.6,88.5 417.5,88.1 416.4,87.8 415.2,87.6 413.8,87.8 412.4,87.9 411.0,88.0 409.6,88.1 408.0,88.3 406.5,88.6 404.9,88.9 403.3,89.1 401.6,89.5 399.2,91.3 396.8,93.0 394.5,94.7 392.3,96.3 390.2,97.9 388.1,98.9 386.1,99.8 384.0,101.1 381.7,102.5 379.5,104.3 377.2,106.2 375.0,108.3 372.8,110.3 370.6,112.3 368.3,114.3 366.1,116.3 363.8,118.4 361.4,120.5 359.5,122.8 357.5,125.1 355.6,127.4 353.9,129.7 352.6,132.0 351.5,134.1 350.3,136.2 349.2,138.2 348.2,140.2 347.8,141.9 347.5,143.5 347.1,145.1 346.8,146.5 346.5,147.9 346.3,149.3 346.0,150.7 345.7,152.0 345.0,153.6 343.9,155.5 342.7,157.5 341.3,159.8 339.6,162.4 337.8,165.2 335.8,168.3 333.5,171.7 333.7,173.0 333.8,174.5 334.9,174.9 336.1,175.3 337.2,175.7 338.3,176.2 339.4,176.6 340.5,177.0 341.8,177.3 343.2,177.3 344.7,177.4 346.1,177.5 347.6,177.6 349.1,177.7 350.7,177.8 352.6,177.4 354.9,176.3 360.0,169.7 362.3,168.0 366.9,161.0 369.3,158.4 371.1,157.2 372.9,156.0 374.6,154.8 376.4,153.5 378.2,152.3 380.1,150.9 381.9,149.4 383.7,147.9 385.6,146.3 387.5,144.8 389.4,143.2 391.3,141.5 393.2,139.8 395.1,138.0 397.0,136.2 399.0,134.3 401.2,132.4 404.0,130.3 407.2,128.1 410.9,125.6 413.8,122.9 415.7,120.4 417.6,117.9 419.4,115.3 421.1,112.8 422.7,110.3 424.3,107.8 424.8,105.8 425.3,103.9 425.7,102.0 426.0,100.3 426.2,98.6 425.9,97.3 425.4,96.2 425.0,95.1 424.6,94.0 424.2,92.9 423.7,92.0 423.1,91.1 422.4,90.3 421.7,89.6"/>
<polygon fill="#0a5c9c" points="419.5,90.3 418.1,90.4 416.7,90.4 415.4,90.5 414.1,90.5 412.8,90.6 411.4,90.8 410.0,90.9 408.7,91.1 407.3,91.2 405.7,91.8 404.1,92.3 402.5,92.9 400.9,93.4 399.2,94.0 397.1,95.4 395.0,96.9 393.0,98.4 391.0,99.8 389.2,100.9 387.4,101.8 385.5,102.7 383.6,103.7 381.6,104.8 379.5,106.6 377.5,108.4 375.4,110.3 373.4,112.1 371.4,113.9 369.3,115.7 367.2,117.5 365.0,119.3 362.9,121.3 361.0,123.4 359.2,125.5 357.3,127.6 355.5,129.7 354.2,131.8 353.0,133.9 351.8,135.9 350.7,137.9 349.6,139.8 348.9,141.5 348.5,143.1 348.2,144.6 347.9,146.0 347.6,147.4 347.2,148.8 346.9,150.1 346.6,151.4 346.2,152.8 345.7,154.2 345.2,155.7 344.2,157.6 342.8,159.8 341.2,162.3 339.5,165.0 337.6,168.0 336.2,170.7 334.8,173.5 336.1,173.7 337.3,174.0 338.6,174.3 339.8,174.6 341.0,174.8 342.2,175.1 343.4,175.3 344.7,175.5 346.0,175.6 347.3,175.8 348.7,176.0 350.1,176.2 351.5,176.4 353.8,175.2 356.6,173.2 365.1,159.5 366.7,158.5 369.0,156.0 370.6,154.7 372.2,153.8 373.7,152.8 375.2,151.9 376.8,150.9 378.4,149.8 380.0,148.5 381.7,147.2 383.3,145.9 385.0,144.5 386.6,143.2 388.3,141.8 390.1,140.3 391.8,138.8 393.6,137.2 395.5,135.6 397.5,133.9 399.5,132.2 401.9,130.3 404.8,128.3 408.2,126.0 411.9,123.3 413.4,121.0 414.6,118.8 415.8,116.7 417.0,114.5 418.1,112.4 419.3,110.3 420.2,108.3 421.0,106.3 421.5,104.6 421.8,103.0 422.0,101.5 422.0,100.1 422.1,98.7 422.1,97.3 422.1,96.0 422.2,94.6 421.8,93.6 421.4,92.6 420.9,91.7 420.4,90.8"/>
<polygon fill="#00f080" points="335.1,173.1 345.9,155.7 349.5,140.5 355.8,130.0 364.2,120.7 372.9,113.5 381.6,105.5 390.0,101.4 398.1,95.7 406.4,92.4 419.7,90.7 421.5,94.9 419.9,106.4 414.9,116.4 411.6,123.2 401.6,129.9 389.5,140.0 377.8,149.5 365.5,156.7 357.5,171.8 352.4,176.0"/>
<polygon fill="#00b4f4" points="417.7,92.0 416.3,92.1 414.9,92.3 413.5,92.5 412.1,92.7 410.8,92.8 409.6,93.0 408.3,93.2 406.9,93.5 405.5,93.9 403.9,94.5 402.4,95.1 400.8,95.7 399.2,96.5 397.4,97.4 395.6,98.7 393.8,100.0 392.0,101.2 390.3,102.3 388.6,103.2 387.0,104.0 385.3,104.8 383.6,105.6 381.8,106.8 379.9,108.4 378.1,110.1 376.2,111.8 374.4,113.4 372.6,115.0 370.7,116.6 368.8,118.2 366.8,119.8 364.8,121.5 363.1,123.4 361.3,125.4 359.6,127.3 357.8,129.2 356.3,131.2 355.1,133.1 354.0,135.0 352.9,136.8 351.8,138.7 350.8,140.4 350.2,142.0 349.8,143.5 349.5,144.9 349.2,146.2 348.9,147.5 348.6,148.8 348.3,150.1 348.0,151.3 347.7,152.6 347.4,153.9 346.9,155.2 346.1,156.9 345.2,158.8 343.7,161.2 342.0,163.9 340.2,166.8 338.1,170.1 337.6,172.1 338.5,172.7 339.8,172.9 341.0,173.1 342.2,173.3 343.4,173.5 344.6,173.7 345.9,173.9 347.1,174.1 348.4,174.3 349.7,174.5 351.0,174.8 353.1,173.8 360.2,164.2 362.4,162.6 367.9,154.2 369.2,153.4 370.6,152.6 371.9,151.8 373.3,151.0 374.6,150.2 376.0,149.4 377.5,148.4 378.9,147.3 380.4,146.1 381.8,144.9 383.3,143.7 384.8,142.5 386.3,141.3 387.8,140.1 389.4,138.8 391.0,137.4 392.7,136.0 394.4,134.6 396.2,133.1 398.1,131.5 400.2,129.8 402.7,127.9 405.9,125.8 409.3,123.4 411.5,121.1 412.5,119.1 413.4,117.2 414.3,115.3 415.3,113.4 416.2,111.5 417.2,109.6 418.1,107.7 418.8,106.0 419.2,104.4 419.4,103.0 419.6,101.6 419.8,100.2 420.0,98.8 420.1,97.4 420.3,95.9 420.3,94.7 419.9,93.8 419.5,92.8 419.0,92.0"/>
<polygon fill="#1080c4" points="338.4,171.6 351.8,173.9 355.9,170.5 364.0,155.3 376.7,147.9 388.2,138.5 400.4,128.3 410.0,121.8 413.1,115.5 418.0,105.8 419.4,95.2 418.5,92.9 406.9,94.4 399.1,97.5 391.0,103.1 382.7,107.2 374.2,115.0 365.6,122.1 357.4,131.2 351.4,141.3 347.8,156.5"/>
<polygon fill="#0a5ca0" points="415.3,93.6 414.0,93.7 412.8,93.9 411.6,94.1 410.4,94.2 409.3,94.4 408.1,94.5 407.0,94.7 405.7,95.2 404.3,95.7 403.0,96.2 401.7,96.7 400.3,97.2 399.0,97.8 397.4,98.9 395.8,100.0 394.2,101.1 392.7,102.1 391.2,103.2 389.9,103.9 388.5,104.5 387.1,105.2 385.6,105.9 384.1,106.6 382.5,107.5 380.9,109.0 379.3,110.5 377.7,111.9 376.1,113.4 374.5,114.9 372.9,116.3 371.2,117.7 369.4,119.2 367.5,120.7 365.6,122.3 364.0,124.1 362.4,125.9 360.8,127.7 359.1,129.5 357.4,131.4 356.3,133.2 355.2,135.0 354.1,136.7 353.0,138.5 351.9,140.3 351.1,141.9 350.8,143.3 350.5,144.6 350.2,145.9 349.9,147.2 349.7,148.5 349.4,149.8 349.1,151.0 348.9,152.3 348.8,153.4 348.7,154.6 348.5,155.8 347.8,157.5 347.0,159.4 346.3,161.3 345.4,163.4 344.9,165.3 345.8,165.7 346.7,166.1 347.6,166.5 348.6,167.0 349.5,167.4 350.4,167.9 351.4,168.4 352.4,168.9 354.3,168.1 356.4,166.9 360.8,162.1 367.3,152.9 368.7,152.1 370.2,151.2 371.6,150.4 372.9,149.6 374.3,148.8 375.7,147.9 377.1,147.0 378.6,145.8 380.1,144.7 381.5,143.5 382.9,142.4 384.4,141.2 385.8,140.1 387.3,138.9 388.7,137.7 390.2,136.5 391.8,135.2 393.4,133.9 395.0,132.5 396.7,131.1 398.5,129.6 400.4,128.0 402.8,126.4 405.6,124.5 408.7,122.4 410.4,120.3 411.4,118.4 412.3,116.6 413.1,114.8 414.0,113.1 414.8,111.4 415.7,109.6 416.5,107.9 417.3,106.2 417.6,104.8 417.8,103.5 418.0,102.2 418.2,101.0 418.4,99.7 418.5,98.4 418.7,97.2 418.9,95.9 418.8,94.8 418.4,94.0 418.0,93.3 416.6,93.4"/>
<polygon fill="#0a4c7c" points="349.0,152.0 351.0,141.5 357.5,131.5 365.5,122.5 374.0,115.5 382.5,107.5 391.0,103.5 399.0,98.0 407.0,95.0 417.5,93.5 418.5,95.5 417.0,106.0 412.5,115.5 409.5,121.5 400.0,128.0 388.0,138.0 376.5,147.0 364.0,154.5 361.0,160.0 355.8,164.5 349.5,157.0"/>
<polygon fill="#0a5868" points="411.9,96.5 410.9,96.6 410.0,96.6 409.0,96.6 408.1,96.6 407.3,96.7 406.4,96.7 405.5,96.7 404.4,97.1 403.2,97.6 402.0,98.0 400.8,98.5 399.7,98.9 398.6,99.4 397.3,100.1 395.9,101.0 394.6,101.8 393.3,102.7 392.0,103.5 390.7,104.3 389.5,104.9 388.3,105.4 387.0,106.0 385.6,106.8 384.2,107.5 382.7,108.3 381.2,109.6 379.7,110.9 378.2,112.2 376.7,113.6 375.2,114.9 373.7,116.2 372.0,117.6 370.2,119.0 368.4,120.5 366.5,122.1 365.0,123.8 363.6,125.5 362.1,127.2 360.7,129.0 359.2,130.8 358.1,132.5 357.1,134.2 356.1,135.8 355.0,137.5 354.0,139.2 353.2,140.8 352.9,142.1 352.6,143.4 352.5,144.6 352.4,145.7 352.4,146.7 352.3,147.8 352.3,148.9 352.3,149.8 352.5,150.7 352.7,151.5 352.9,152.4 353.0,153.3 353.4,153.9 353.9,154.5 354.4,155.1 354.9,155.6 355.4,156.2 356.0,156.8 356.5,157.4 357.1,158.0 357.6,158.6 358.2,159.3 358.9,160.0 361.2,158.3 366.4,151.9 367.9,151.0 369.4,150.2 370.8,149.3 372.2,148.5 373.5,147.7 374.9,146.8 376.2,146.0 377.6,145.1 379.0,144.0 380.4,143.0 381.8,141.9 383.2,140.9 384.6,139.8 386.0,138.8 387.4,137.7 388.8,136.6 390.3,135.4 391.8,134.2 393.4,133.0 394.9,131.7 396.6,130.4 398.3,129.0 400.1,127.5 402.3,126.0 404.7,124.3 407.3,122.4 408.9,120.5 409.7,118.7 410.5,117.0 411.2,115.4 411.9,113.8 412.6,112.3 413.3,110.8 413.9,109.3 414.6,107.8 415.0,106.5 415.2,105.2 415.2,104.2 415.2,103.2 415.2,102.1 415.3,101.1 415.3,100.1 415.3,99.1 415.4,98.1 415.0,97.5 414.6,96.8 414.0,96.4 412.9,96.5"/>
<polygon fill="#006058" points="409.3,99.1 408.6,99.0 407.8,98.9 407.1,98.8 406.3,98.7 405.6,98.6 404.9,98.5 404.2,98.4 403.2,98.6 402.1,99.1 401.0,99.6 399.9,100.0 398.8,100.5 397.7,100.9 396.5,101.5 395.3,102.3 394.1,103.0 392.9,103.7 391.7,104.4 390.5,105.1 389.3,105.6 388.1,106.2 386.9,106.7 385.5,107.5 384.2,108.3 382.8,109.1 381.3,110.3 379.9,111.5 378.5,112.7 377.0,113.9 375.5,115.2 374.0,116.5 372.3,117.8 370.6,119.1 368.8,120.6 367.0,122.2 365.7,123.8 364.4,125.4 363.1,127.1 361.8,128.8 360.6,130.4 359.7,132.0 358.8,133.5 358.0,135.0 357.1,136.6 356.2,138.1 355.6,139.6 355.2,140.8 354.8,142.1 354.9,143.1 355.0,143.9 355.2,144.8 355.3,145.6 355.4,146.4 355.6,147.2 355.8,147.9 356.1,148.6 356.4,149.2 356.6,149.9 357.0,150.5 357.5,151.0 357.9,151.4 358.4,151.9 358.9,152.4 359.4,152.9 359.8,153.4 360.3,153.9 360.9,154.4 361.4,155.0 362.0,155.6 363.7,154.6 367.6,150.1 369.0,149.3 370.3,148.5 371.7,147.7 373.0,146.9 374.2,146.1 375.5,145.3 376.8,144.6 378.0,143.7 379.4,142.8 380.7,141.9 382.0,140.9 383.3,140.0 384.6,139.0 385.9,138.0 387.3,137.1 388.6,136.0 390.1,135.0 391.5,133.9 393.1,132.7 394.6,131.5 396.2,130.2 397.9,128.8 399.7,127.4 401.7,125.9 404.0,124.3 406.4,122.5 407.7,120.7 408.4,119.0 409.0,117.4 409.7,115.9 410.2,114.4 410.8,113.0 411.4,111.6 411.9,110.3 412.5,108.9 412.8,107.7 413.1,106.5 413.0,105.6 412.8,104.8 412.7,104.0 412.5,103.2 412.4,102.4 412.3,101.6 412.2,100.8 411.8,100.2 411.5,99.7 411.0,99.3 410.1,99.2"/>
<polygon fill="#00604c" points="406.7,101.7 406.2,101.5 405.6,101.2 405.1,101.0 404.6,100.8 404.0,100.6 403.5,100.3 402.9,100.1 402.1,100.2 401.0,100.6 399.9,101.1 398.9,101.5 397.8,102.0 396.8,102.4 395.7,103.0 394.6,103.5 393.5,104.1 392.4,104.7 391.3,105.3 390.2,105.9 389.1,106.4 388.0,106.9 386.8,107.4 385.5,108.2 384.2,109.1 382.8,110.0 381.5,111.0 380.1,112.1 378.7,113.2 377.3,114.3 375.8,115.5 374.3,116.7 372.7,117.9 371.0,119.3 369.1,120.7 367.5,122.2 366.3,123.8 365.2,125.4 364.0,127.0 362.9,128.5 362.1,130.0 361.3,131.5 360.6,132.9 359.9,134.2 359.2,135.6 358.5,137.0 357.9,138.3 357.4,139.5 357.0,140.8 357.2,141.5 357.6,142.2 357.9,142.8 358.2,143.4 358.5,144.0 358.8,144.6 359.2,145.1 359.5,145.6 359.9,146.1 360.2,146.6 360.6,147.0 361.0,147.4 361.4,147.8 361.9,148.2 362.3,148.6 362.7,149.0 363.2,149.4 363.6,149.8 364.1,150.3 364.6,150.7 365.1,151.2 366.2,150.9 368.7,148.3 370.0,147.5 371.3,146.8 372.6,146.0 373.8,145.3 375.0,144.5 376.1,143.8 377.3,143.1 378.5,142.4 379.7,141.6 380.9,140.7 382.1,139.9 383.3,139.1 384.6,138.2 385.8,137.3 387.1,136.4 388.4,135.5 389.8,134.5 391.3,133.5 392.8,132.4 394.3,131.3 395.9,130.0 397.5,128.7 399.2,127.3 401.2,125.9 403.3,124.3 405.5,122.5 406.5,120.9 407.1,119.3 407.6,117.8 408.1,116.4 408.6,115.1 409.0,113.8 409.5,112.5 409.9,111.3 410.4,110.1 410.7,108.9 411.0,107.8 410.7,107.1 410.4,106.4 410.1,105.8 409.8,105.2 409.6,104.6 409.3,104.0 409.1,103.4 408.7,102.9 408.3,102.5 407.9,102.1 407.3,101.9"/>
<polygon fill="#a8e8b8" points="359.1,139.6 364.2,128.0 368.5,121.5 377.3,114.9 386.5,108.2 401.4,101.5 408.9,109.0 404.9,122.4 393.3,131.6 380.7,139.9 368.8,147.2"/>
<polygon fill="#8fd8a4" points="403.9,104.7 403.6,104.3 403.3,104.0 402.9,103.6 402.6,103.3 402.3,102.9 401.9,102.6 401.3,102.5 400.7,102.4 399.7,102.8 398.8,103.3 397.8,103.7 396.9,104.1 396.0,104.5 395.1,105.0 394.2,105.4 393.2,105.8 392.3,106.2 391.4,106.6 390.4,107.1 389.4,107.5 388.3,108.0 387.3,108.5 386.1,109.3 385.0,110.2 383.8,111.1 382.6,112.0 381.4,113.0 380.2,113.9 378.9,114.9 377.6,115.9 376.3,117.0 374.8,118.1 373.3,119.2 371.7,120.5 370.0,121.8 368.8,123.2 367.6,124.7 366.3,126.1 365.0,127.6 364.4,129.0 363.9,130.2 363.4,131.5 362.9,132.7 362.4,133.9 362.0,135.0 361.5,136.1 361.0,137.3 360.6,138.4 360.6,139.2 361.1,139.7 361.6,140.1 362.1,140.5 362.5,140.9 363.0,141.2 363.4,141.6 363.8,141.9 364.2,142.2 364.6,142.5 365.0,142.8 365.4,143.2 365.8,143.5 366.2,143.8 366.6,144.1 367.0,144.4 367.4,144.7 367.8,145.0 368.2,145.3 368.6,145.7 369.3,145.7 370.2,145.5 371.4,144.8 372.6,144.0 373.7,143.3 374.8,142.6 375.9,142.0 376.9,141.3 377.9,140.7 379.0,140.0 380.0,139.4 381.0,138.7 382.1,138.1 383.1,137.4 384.2,136.6 385.3,135.9 386.4,135.2 387.6,134.4 388.8,133.6 390.0,132.8 391.3,131.9 392.7,131.0 394.1,129.9 395.5,128.8 397.0,127.6 398.6,126.4 400.3,125.1 402.1,123.6 403.8,122.1 404.7,120.6 405.1,119.2 405.5,118.0 405.9,116.7 406.3,115.6 406.6,114.5 407.0,113.4 407.3,112.3 407.6,111.3 407.9,110.3 408.2,109.4 407.8,108.8 407.4,108.4 407.0,107.9 406.6,107.5 406.2,107.1 405.9,106.7 405.5,106.4 405.2,106.0 404.9,105.7 404.5,105.3 404.2,105.0"/>
<polygon fill="#7ab47c" points="403.6,105.0 403.2,104.7 402.9,104.3 402.6,104.0 402.3,103.6 402.0,103.3 401.7,102.9 400.9,103.1 400.1,103.2 399.1,103.7 398.2,104.1 397.3,104.5 396.4,104.9 395.5,105.4 394.6,105.8 393.8,106.2 392.9,106.6 392.0,107.0 391.1,107.4 390.1,107.8 389.2,108.3 388.2,108.7 387.2,109.3 386.1,110.1 385.0,111.1 383.9,112.0 382.8,112.9 381.7,113.8 380.6,114.8 379.5,115.7 378.4,116.7 377.2,117.6 375.9,118.6 374.5,119.7 373.1,120.8 371.5,122.0 370.2,123.2 368.8,124.6 367.3,126.0 365.7,127.5 365.2,128.8 364.8,130.0 364.3,131.2 363.9,132.3 363.5,133.4 363.1,134.5 362.7,135.5 362.3,136.6 361.9,137.6 361.7,138.5 362.0,139.1 362.5,139.5 363.0,139.8 363.4,140.2 363.9,140.5 364.3,140.9 364.7,141.2 365.1,141.5 365.4,141.8 365.8,142.1 366.2,142.4 366.6,142.7 366.9,143.0 367.3,143.2 367.7,143.5 368.1,143.8 368.4,144.2 368.9,144.5 369.3,144.8 370.1,144.6 371.1,144.1 372.3,143.3 373.4,142.6 374.5,142.0 375.5,141.3 376.5,140.7 377.5,140.1 378.5,139.4 379.4,138.8 380.4,138.2 381.3,137.6 382.3,137.0 383.3,136.3 384.3,135.6 385.3,135.0 386.3,134.3 387.4,133.6 388.5,132.8 389.6,132.1 390.8,131.2 392.1,130.4 393.4,129.4 394.7,128.4 396.1,127.3 397.6,126.2 399.1,125.0 400.8,123.6 402.5,122.2 403.9,120.7 404.4,119.4 404.8,118.2 405.2,117.0 405.5,115.9 405.9,114.8 406.3,113.7 406.6,112.7 406.9,111.7 407.2,110.7 407.5,109.8 407.3,109.2 406.9,108.7 406.5,108.3 406.1,107.9 405.8,107.5 405.4,107.1 405.1,106.7 404.8,106.4 404.5,106.0 404.2,105.7 403.9,105.3"/>
<polygon fill="#c0d820" points="362.7,138.2 366.4,127.3 378.7,117.8 387.3,109.8 401.4,103.2 407.0,109.8 403.2,120.8 392.5,129.1 381.0,136.9 370.0,144.0"/>
<polygon fill="#ffee00" points="398.8,109.1 398.5,108.8 398.3,108.6 398.0,108.3 397.8,108.0 397.5,107.8 396.8,108.1 396.1,108.3 395.5,108.6 394.8,108.8 394.2,109.1 393.6,109.3 393.0,109.5 392.4,109.7 391.8,109.9 391.2,110.1 390.5,110.3 389.9,110.5 389.2,110.6 388.6,110.8 387.9,111.0 387.1,111.1 386.2,111.6 385.3,112.0 384.4,112.5 383.5,113.4 382.5,114.2 381.6,115.1 380.7,115.9 379.8,116.7 378.8,117.6 377.8,118.4 376.8,119.3 375.7,120.2 374.5,121.1 373.3,122.1 372.0,123.2 370.8,124.3 370.0,125.4 369.0,126.6 368.8,127.5 368.7,128.4 368.6,129.2 368.5,130.0 368.4,130.7 368.3,131.4 368.2,132.1 368.0,132.8 367.9,133.5 367.7,134.1 367.6,134.8 367.9,135.1 368.2,135.4 368.6,135.7 368.9,135.9 369.2,136.2 369.5,136.4 369.8,136.6 370.1,136.8 370.3,137.0 370.6,137.3 370.9,137.5 371.1,137.7 371.4,137.9 371.7,138.1 372.0,138.3 372.3,138.6 372.6,138.8 372.9,139.1 373.2,139.3 373.9,139.0 374.8,138.5 375.5,138.1 376.3,137.7 377.0,137.3 377.7,136.9 378.5,136.6 379.2,136.2 379.9,135.9 380.6,135.6 381.3,135.3 382.1,135.0 382.9,134.7 383.8,134.4 384.7,134.1 385.7,133.7 386.7,132.9 387.7,132.2 388.8,131.4 389.8,130.6 391.0,129.8 392.2,128.9 393.4,127.9 394.6,126.9 396.0,125.8 397.4,124.7 398.9,123.5 399.7,122.3 400.6,121.0 400.7,119.9 400.8,119.0 400.9,118.0 401.1,117.2 401.2,116.4 401.4,115.6 401.6,114.8 401.7,114.1 401.9,113.4 401.9,112.7 401.6,112.3 401.3,112.0 401.0,111.7 400.7,111.3 400.4,111.0 400.2,110.7 399.9,110.5 399.7,110.2 399.5,109.9 399.2,109.6 399.0,109.4"/>
<polygon fill="#ffdc00" points="394.6,113.3 394.4,113.1 394.3,112.9 394.1,112.7 393.9,112.5 393.7,112.3 393.3,112.4 392.9,112.5 392.5,112.6 392.1,112.6 391.7,112.7 391.4,112.7 391.0,112.8 390.6,112.8 390.2,112.8 389.8,112.8 389.4,112.8 388.9,112.8 388.5,112.8 388.0,112.7 387.4,112.6 386.8,112.5 386.1,112.5 385.3,112.4 384.4,112.5 383.5,113.3 382.5,114.2 381.6,115.0 380.7,115.9 379.7,116.7 378.8,117.6 377.8,118.4 376.8,119.3 375.7,120.2 374.6,121.1 373.4,122.1 372.2,123.2 371.3,124.3 371.4,125.2 371.4,126.1 371.6,126.8 371.8,127.4 372.0,128.0 372.1,128.5 372.2,129.0 372.3,129.5 372.3,129.9 372.4,130.3 372.4,130.7 372.4,131.1 372.4,131.5 372.7,131.7 372.9,131.9 373.2,132.1 373.4,132.3 373.6,132.5 373.8,132.6 374.0,132.8 374.2,132.9 374.4,133.1 374.6,133.2 374.8,133.4 375.0,133.5 375.2,133.7 375.4,133.8 375.6,134.0 375.8,134.2 376.0,134.3 376.3,134.5 376.5,134.7 376.9,134.6 377.4,134.4 377.9,134.2 378.4,134.1 378.8,134.0 379.3,133.9 379.7,133.8 380.2,133.7 380.7,133.6 381.2,133.6 381.8,133.6 382.4,133.6 383.1,133.6 383.8,133.7 384.7,133.9 385.7,133.6 386.7,132.8 387.6,132.0 388.7,131.2 389.7,130.4 390.8,129.5 391.9,128.7 393.0,127.7 394.2,126.7 395.4,125.7 396.7,124.6 398.0,123.5 397.9,122.4 397.9,121.4 397.7,120.6 397.5,119.9 397.3,119.2 397.2,118.6 397.2,118.1 397.1,117.6 397.1,117.1 397.0,116.6 397.0,116.1 397.0,115.7 396.7,115.5 396.5,115.2 396.3,115.0 396.0,114.8 395.9,114.6 395.7,114.4 395.5,114.2 395.3,114.0 395.1,113.8 394.9,113.6 394.8,113.4"/>
<polygon fill="#ffc800" points="371.5,124.0 384.7,112.2 397.2,123.5 385.2,134.0"/>
<polygon fill="#ffb400" points="389.7,117.8 389.6,117.7 389.5,117.6 389.4,117.5 389.3,117.4 389.2,117.4 389.1,117.3 389.0,117.2 388.9,117.1 388.8,117.0 388.6,116.8 388.5,116.7 388.4,116.6 388.2,116.5 388.1,116.3 387.9,116.1 387.7,116.0 387.4,115.8 387.2,115.5 386.9,115.3 386.6,115.0 386.2,114.6 385.7,114.2 385.0,113.6 384.3,113.7 383.4,114.4 382.6,115.1 381.8,115.8 380.9,116.5 380.1,117.2 379.2,118.0 378.3,118.7 377.4,119.5 376.4,120.3 375.4,121.2 374.4,122.0 373.3,123.0 372.7,124.0 373.7,124.7 374.5,125.2 375.1,125.6 375.6,126.0 376.0,126.3 376.3,126.5 376.6,126.7 376.9,126.9 377.1,127.0 377.3,127.2 377.5,127.3 377.7,127.5 377.8,127.6 378.0,127.7 378.1,127.8 378.3,127.9 378.4,128.0 378.5,128.0 378.6,128.1 378.7,128.2 378.9,128.3 379.0,128.4 379.1,128.4 379.2,128.5 379.3,128.6 379.4,128.7 379.5,128.7 379.6,128.8 379.7,128.9 379.9,129.0 380.0,129.1 380.1,129.2 380.2,129.3 380.4,129.4 380.5,129.5 380.7,129.6 380.8,129.7 381.0,129.8 381.2,130.0 381.5,130.1 381.7,130.3 382.0,130.5 382.3,130.7 382.7,131.0 383.2,131.3 383.8,131.7 384.5,132.3 385.4,132.6 386.3,131.8 387.2,131.0 388.1,130.3 389.0,129.5 389.9,128.7 390.9,127.9 391.9,127.0 392.9,126.2 394.0,125.3 395.1,124.3 395.8,123.3 394.8,122.4 394.1,121.7 393.5,121.2 393.1,120.8 392.7,120.5 392.4,120.2 392.1,119.9 391.8,119.7 391.6,119.5 391.4,119.3 391.2,119.2 391.1,119.0 390.9,118.9 390.8,118.8 390.7,118.7 390.5,118.6 390.4,118.5 390.3,118.4 390.2,118.3 390.1,118.2 390.0,118.1 389.9,118.0 389.8,117.9"/>
<polygon fill="#ffa000" points="373.3,123.5 384.7,114.4 394.9,123.5 385.2,131.5"/>
<polygon fill="#ff9500" points="388.8,119.4 388.8,119.3 388.7,119.2 388.6,119.2 388.5,119.1 388.4,119.0 388.4,118.9 388.3,118.9 388.2,118.8 388.1,118.7 388.0,118.6 387.9,118.5 387.8,118.4 387.7,118.3 387.5,118.2 387.4,118.1 387.2,118.0 387.1,117.8 386.9,117.6 386.6,117.4 386.4,117.2 386.1,116.9 385.7,116.6 385.2,116.2 384.6,115.8 383.9,116.4 383.2,116.9 382.5,117.5 381.8,118.0 381.1,118.6 380.4,119.2 379.6,119.8 378.8,120.4 378.0,121.1 377.1,121.8 376.2,122.6 375.2,123.4 375.9,124.1 376.7,124.7 377.2,125.1 377.7,125.4 378.1,125.6 378.4,125.8 378.6,126.0 378.9,126.2 379.1,126.3 379.2,126.4 379.4,126.6 379.5,126.7 379.7,126.7 379.8,126.8 379.9,126.9 380.0,127.0 380.1,127.1 380.2,127.1 380.3,127.2 380.4,127.2 380.5,127.3 380.6,127.4 380.6,127.4 380.7,127.5 380.8,127.5 380.9,127.6 381.0,127.6 381.0,127.7 381.1,127.8 381.2,127.8 381.3,127.9 381.4,128.0 381.5,128.0 381.6,128.1 381.7,128.2 381.8,128.2 381.9,128.3 382.1,128.4 382.2,128.5 382.3,128.6 382.5,128.7 382.7,128.9 382.9,129.0 383.2,129.2 383.5,129.4 383.8,129.6 384.2,129.9 384.8,130.3 385.4,130.3 386.1,129.7 386.7,129.2 387.4,128.6 388.0,128.1 388.7,127.5 389.4,126.9 390.2,126.3 390.9,125.7 391.7,125.0 392.5,124.4 393.4,123.6 392.9,122.9 392.3,122.4 391.9,122.0 391.5,121.7 391.2,121.4 390.9,121.2 390.7,121.0 390.5,120.8 390.3,120.7 390.2,120.5 390.1,120.4 389.9,120.3 389.8,120.2 389.7,120.1 389.6,120.0 389.5,119.9 389.4,119.9 389.3,119.8 389.2,119.7 389.2,119.6 389.1,119.6 389.0,119.5 388.9,119.4"/>
<polygon fill="#e8582e" points="388.2,120.0 388.1,120.0 388.0,119.9 388.0,119.9 387.9,119.8 387.8,119.7 387.8,119.7 387.7,119.6 387.6,119.6 387.5,119.5 387.5,119.4 387.4,119.4 387.3,119.3 387.2,119.2 387.1,119.1 387.0,119.0 386.8,118.9 386.7,118.8 386.5,118.6 386.3,118.5 386.1,118.3 385.8,118.0 385.5,117.8 385.1,117.4 384.6,117.1 384.1,117.6 383.5,118.0 382.9,118.5 382.3,119.0 381.7,119.4 381.1,119.9 380.5,120.4 379.8,121.0 379.2,121.5 378.4,122.1 377.7,122.7 376.8,123.4 377.4,124.0 378.0,124.5 378.5,124.8 378.9,125.1 379.2,125.3 379.4,125.5 379.6,125.6 379.8,125.8 380.0,125.9 380.1,126.0 380.2,126.1 380.3,126.2 380.5,126.2 380.6,126.3 380.6,126.4 380.7,126.4 380.8,126.5 380.9,126.6 381.0,126.6 381.0,126.7 381.1,126.7 381.2,126.8 381.3,126.8 381.3,126.9 381.4,126.9 381.5,127.0 381.5,127.0 381.6,127.1 381.7,127.1 381.7,127.2 381.8,127.2 381.9,127.3 382.0,127.3 382.1,127.4 382.1,127.5 382.2,127.5 382.3,127.6 382.4,127.7 382.6,127.8 382.7,127.9 382.8,128.0 383.0,128.1 383.2,128.2 383.4,128.4 383.6,128.6 383.9,128.8 384.3,129.1 384.8,129.4 385.3,129.3 385.9,128.8 386.4,128.4 387.0,127.9 387.6,127.4 388.1,126.9 388.7,126.4 389.3,125.9 390.0,125.4 390.7,124.8 391.4,124.2 392.1,123.6 391.7,123.0 391.1,122.6 390.8,122.2 390.4,122.0 390.2,121.7 389.9,121.6 389.8,121.4 389.6,121.2 389.4,121.1 389.3,121.0 389.2,120.9 389.1,120.8 389.0,120.7 388.9,120.7 388.8,120.6 388.7,120.5 388.7,120.4 388.6,120.4 388.5,120.3 388.4,120.3 388.4,120.2 388.3,120.1 388.2,120.1"/>
<polygon fill="#c8323a" points="378.4,123.5 384.7,118.4 390.9,123.5 384.9,128.6"/>
<polygon fill="#a83236" points="387.2,121.2 387.2,121.2 387.1,121.2 387.1,121.1 387.0,121.1 387.0,121.0 386.9,121.0 386.9,121.0 386.8,120.9 386.8,120.9 386.7,120.8 386.7,120.8 386.6,120.7 386.5,120.7 386.5,120.6 386.4,120.6 386.3,120.5 386.2,120.4 386.1,120.3 386.0,120.2 385.8,120.1 385.6,119.9 385.4,119.8 385.2,119.6 384.8,119.3 384.4,119.4 384.1,119.7 383.7,120.0 383.3,120.4 382.9,120.7 382.4,121.1 382.0,121.4 381.6,121.8 381.1,122.2 380.6,122.6 380.1,123.0 379.6,123.5 380.0,123.9 380.4,124.2 380.7,124.4 380.9,124.6 381.1,124.8 381.2,124.9 381.4,125.0 381.5,125.1 381.6,125.2 381.7,125.3 381.8,125.3 381.9,125.4 381.9,125.4 382.0,125.5 382.1,125.5 382.1,125.6 382.2,125.6 382.2,125.7 382.3,125.7 382.3,125.8 382.4,125.8 382.4,125.8 382.5,125.9 382.5,125.9 382.6,126.0 382.6,126.0 382.7,126.0 382.7,126.1 382.7,126.1 382.8,126.1 382.8,126.2 382.9,126.2 383.0,126.3 383.0,126.3 383.1,126.4 383.1,126.4 383.2,126.5 383.3,126.5 383.4,126.6 383.5,126.7 383.6,126.8 383.7,126.9 383.8,127.0 383.9,127.1 384.1,127.2 384.3,127.4 384.6,127.6 385.0,127.8 385.3,127.5 385.7,127.2 386.1,126.8 386.5,126.5 386.8,126.2 387.2,125.9 387.6,125.5 388.0,125.2 388.5,124.8 388.9,124.4 389.4,124.0 389.9,123.6 389.6,123.2 389.2,122.9 389.0,122.7 388.8,122.5 388.6,122.4 388.4,122.2 388.3,122.1 388.2,122.0 388.1,121.9 388.0,121.9 387.9,121.8 387.8,121.7 387.8,121.7 387.7,121.6 387.6,121.6 387.6,121.5 387.5,121.5 387.5,121.5 387.4,121.4 387.4,121.4 387.3,121.3 387.3,121.3 387.2,121.3"/>
<polygon fill="#803c3c" points="386.8,121.6 386.7,121.6 386.7,121.6 386.7,121.6 386.6,121.5 386.6,121.5 386.6,121.5 386.5,121.4 386.5,121.4 386.4,121.4 386.4,121.3 386.3,121.3 386.3,121.2 386.2,121.2 386.2,121.2 386.1,121.1 386.0,121.0 386.0,121.0 385.9,120.9 385.8,120.8 385.7,120.7 385.5,120.6 385.3,120.5 385.1,120.3 384.9,120.1 384.5,120.1 384.2,120.4 383.9,120.7 383.6,120.9 383.2,121.2 382.9,121.5 382.6,121.8 382.2,122.1 381.9,122.5 381.5,122.8 381.1,123.1 380.7,123.5 381.0,123.8 381.3,124.0 381.5,124.2 381.7,124.4 381.9,124.5 382.0,124.6 382.1,124.7 382.2,124.8 382.3,124.9 382.3,124.9 382.4,125.0 382.5,125.0 382.5,125.1 382.6,125.1 382.6,125.2 382.7,125.2 382.7,125.2 382.7,125.3 382.8,125.3 382.8,125.3 382.9,125.4 382.9,125.4 382.9,125.4 383.0,125.5 383.0,125.5 383.0,125.5 383.1,125.6 383.1,125.6 383.2,125.6 383.2,125.7 383.2,125.7 383.3,125.7 383.3,125.8 383.4,125.8 383.4,125.8 383.5,125.9 383.5,125.9 383.6,126.0 383.6,126.0 383.7,126.1 383.8,126.2 383.9,126.3 384.0,126.4 384.1,126.5 384.3,126.6 384.4,126.7 384.7,126.9 384.9,127.1 385.3,126.8 385.6,126.5 385.9,126.3 386.2,126.0 386.5,125.7 386.8,125.4 387.1,125.2 387.5,124.9 387.8,124.6 388.2,124.3 388.5,123.9 388.9,123.6 388.7,123.3 388.5,123.0 388.2,122.8 388.0,122.7 387.9,122.6 387.8,122.5 387.7,122.4 387.6,122.3 387.5,122.2 387.4,122.2 387.4,122.1 387.3,122.1 387.2,122.0 387.2,122.0 387.1,121.9 387.1,121.9 387.1,121.9 387.0,121.8 387.0,121.8 386.9,121.8 386.9,121.7 386.9,121.7 386.8,121.7"/>
<polygon fill="#4a3c38" points="381.8,123.5 384.7,120.7 388.1,123.5 384.9,126.4"/>
<polygon fill="#8fd8a4" points="384.9,111.0 388.1,109.3 401.8,121.8 398.9,124.1"/>
<polygon fill="#00f080" points="398.5,96.2 411.4,92.6 410.0,101.8 403.1,100.9"/>
<polygon fill="#00b4f4" points="410.8,92.6 419.3,91.8 420.0,95.0 417.2,108.0 409.9,101.6"/>
<polygon fill="#1080c4" points="411.5,101.0 416.5,97.0 416.8,107.0"/>
<polygon fill="#a8e8b8" points="351.3,156.0 353.5,155.5 354.0,158.0 352.0,158.5"/>
<line x1="306.0" y1="214.2" x2="492.7" y2="10.2" stroke="#a56be8" stroke-width="0.7" stroke-opacity="0.85"/>
<circle cx="424.2" cy="86.6" r="0.78" fill="#f03c58"/>
<circle cx="383.4" cy="122.8" r="0.78" fill="#f03c58"/>
<circle cx="396.5" cy="118.4" r="0.78" fill="#f03c58"/>
<circle cx="369.9" cy="141.3" r="0.78" fill="#f03c58"/>
<circle cx="357.1" cy="154.7" r="0.78" fill="#f03c58"/>
<circle cx="366.7" cy="142.0" r="0.78" fill="#f03c58"/>
<circle cx="356.9" cy="147.8" r="0.78" fill="#f03c58"/>
<circle cx="374.2" cy="150.9" r="0.78" fill="#f03c58"/>
<circle cx="400.7" cy="108.5" r="0.78" fill="#f03c58"/>
<circle cx="360.5" cy="145.0" r="0.78" fill="#f03c58"/>
<circle cx="380.4" cy="126.3" r="0.78" fill="#f03c58"/>
<circle cx="358.5" cy="147.4" r="0.78" fill="#f03c58"/>
<circle cx="341.5" cy="157.4" r="0.78" fill="#f03c58"/>
<circle cx="351.5" cy="156.6" r="0.78" fill="#f03c58"/>
<circle cx="375.8" cy="130.0" r="0.78" fill="#f03c58"/>
<circle cx="369.8" cy="134.5" r="0.78" fill="#f03c58"/>
<circle cx="371.9" cy="138.3" r="0.78" fill="#f03c58"/>
<circle cx="406.9" cy="106.4" r="0.78" fill="#f03c58"/>
<circle cx="377.9" cy="141.3" r="0.78" fill="#f03c58"/>
<circle cx="383.8" cy="133.2" r="0.78" fill="#f03c58"/>
<circle cx="387.8" cy="120.0" r="0.78" fill="#f03c58"/>
<circle cx="381.3" cy="134.7" r="0.78" fill="#f03c58"/>
<circle cx="351.5" cy="153.8" r="0.78" fill="#f03c58"/>
<circle cx="330.6" cy="175.6" r="0.78" fill="#f03c58"/>
<circle cx="338.7" cy="168.4" r="0.78" fill="#f03c58"/>
<circle cx="346.4" cy="151.3" r="0.78" fill="#f03c58"/>
<circle cx="395.6" cy="115.1" r="0.78" fill="#f03c58"/>
<circle cx="338.1" cy="174.2" r="0.78" fill="#f03c58"/>
<circle cx="375.5" cy="138.0" r="0.78" fill="#f03c58"/>
<circle cx="376.6" cy="125.4" r="0.78" fill="#f03c58"/>
<circle cx="373.9" cy="136.3" r="0.78" fill="#f03c58"/>
<circle cx="390.3" cy="119.1" r="0.78" fill="#f03c58"/>
<circle cx="391.8" cy="117.8" r="0.78" fill="#f03c58"/>
<circle cx="407.1" cy="102.3" r="0.78" fill="#f03c58"/>
<circle cx="352.2" cy="155.0" r="0.78" fill="#f03c58"/>
<circle cx="363.8" cy="149.4" r="0.78" fill="#f03c58"/>
<circle cx="369.1" cy="134.3" r="0.78" fill="#f03c58"/>
<circle cx="330.4" cy="177.5" r="0.78" fill="#f03c58"/>
<circle cx="371.2" cy="137.4" r="0.78" fill="#f03c58"/>
<circle cx="393.7" cy="121.5" r="0.78" fill="#f03c58"/>
<circle cx="387.8" cy="121.2" r="0.78" fill="#f03c58"/>
<circle cx="376.8" cy="132.2" r="0.78" fill="#f03c58"/>
<circle cx="368.8" cy="141.9" r="0.78" fill="#f03c58"/>
<circle cx="376.2" cy="119.4" r="0.78" fill="#f03c58"/>
<circle cx="392.8" cy="110.0" r="0.78" fill="#f03c58"/>
<circle cx="386.7" cy="123.7" r="0.78" fill="#f03c58"/>
<circle cx="380.4" cy="115.3" r="0.78" fill="#f03c58"/>
<circle cx="346.1" cy="156.7" r="0.78" fill="#f03c58"/>
<circle cx="393.9" cy="112.1" r="0.78" fill="#f03c58"/>
<circle cx="386.2" cy="113.3" r="0.78" fill="#f03c58"/>
<circle cx="415.2" cy="84.8" r="0.78" fill="#f03c58"/>
<circle cx="406.9" cy="98.7" r="0.78" fill="#f03c58"/>
<circle cx="390.8" cy="115.6" r="0.78" fill="#f03c58"/>
<circle cx="382.0" cy="128.0" r="0.78" fill="#f03c58"/>
<circle cx="384.3" cy="114.8" r="0.78" fill="#f03c58"/>
<circle cx="371.0" cy="134.9" r="0.78" fill="#f03c58"/>
<circle cx="387.4" cy="119.8" r="0.78" fill="#f03c58"/>
<circle cx="393.1" cy="112.7" r="0.78" fill="#f03c58"/>
<circle cx="354.7" cy="158.5" r="0.78" fill="#f03c58"/>
<circle cx="387.9" cy="115.7" r="0.78" fill="#f03c58"/>
<circle cx="396.6" cy="109.2" r="0.78" fill="#f03c58"/>
<circle cx="383.9" cy="132.4" r="0.78" fill="#f03c58"/>
<circle cx="405.9" cy="106.6" r="0.78" fill="#f03c58"/>
<circle cx="399.5" cy="114.3" r="0.78" fill="#f03c58"/>
<circle cx="361.7" cy="144.6" r="0.78" fill="#f03c58"/>
<circle cx="368.9" cy="142.3" r="0.78" fill="#f03c58"/>
<circle cx="391.4" cy="111.9" r="0.78" fill="#f03c58"/>
<circle cx="384.3" cy="124.7" r="0.78" fill="#f03c58"/>
<circle cx="360.4" cy="149.5" r="0.78" fill="#f03c58"/>
<circle cx="365.2" cy="142.1" r="0.78" fill="#f03c58"/>
<circle cx="391.4" cy="116.7" r="0.78" fill="#f03c58"/>
<circle cx="361.6" cy="149.1" r="0.78" fill="#f03c58"/>
<circle cx="400.7" cy="105.5" r="0.78" fill="#f03c58"/>
<circle cx="379.5" cy="126.0" r="0.78" fill="#f03c58"/>
<circle cx="387.1" cy="119.2" r="0.78" fill="#f03c58"/>
<circle cx="396.9" cy="105.6" r="0.78" fill="#f03c58"/>
<circle cx="375.3" cy="125.6" r="0.78" fill="#f03c58"/>
<circle cx="372.1" cy="127.3" r="0.78" fill="#f03c58"/>
<circle cx="354.3" cy="159.8" r="0.78" fill="#f03c58"/>
<circle cx="374.3" cy="136.9" r="0.78" fill="#f03c58"/>
<circle cx="353.0" cy="150.8" r="0.78" fill="#f03c58"/>
<circle cx="381.3" cy="125.7" r="0.78" fill="#f03c58"/>
<circle cx="367.2" cy="138.3" r="0.78" fill="#f03c58"/>
<circle cx="375.7" cy="135.5" r="0.78" fill="#f03c58"/>
<circle cx="385.1" cy="119.8" r="0.78" fill="#f03c58"/>
<circle cx="375.6" cy="127.4" r="0.78" fill="#f03c58"/>
<circle cx="354.5" cy="153.3" r="0.78" fill="#f03c58"/>
<circle cx="361.8" cy="137.6" r="0.78" fill="#f03c58"/>
<circle cx="380.1" cy="114.9" r="0.78" fill="#f03c58"/>
<circle cx="408.2" cy="100.9" r="0.78" fill="#f03c58"/>
<circle cx="353.0" cy="151.3" r="0.78" fill="#f03c58"/>
<circle cx="370.8" cy="137.1" r="0.78" fill="#f03c58"/>
<circle cx="353.3" cy="150.3" r="0.78" fill="#f03c58"/>
<circle cx="378.5" cy="126.2" r="0.78" fill="#f03c58"/>
<circle cx="384.7" cy="127.4" r="0.78" fill="#f03c58"/>
<circle cx="311.8" cy="142.4" r="0.78" fill="#f03c58"/>
<circle cx="431.7" cy="18.0" r="0.78" fill="#f03c58"/>
<circle cx="412.5" cy="58.3" r="0.78" fill="#f03c58"/>
<circle cx="439.0" cy="57.4" r="0.78" fill="#f03c58"/>
<circle cx="415.7" cy="69.5" r="0.78" fill="#f03c58"/>
<circle cx="475.0" cy="92.4" r="0.78" fill="#f03c58"/>
<circle cx="447.5" cy="103.3" r="0.78" fill="#f03c58"/>
<circle cx="424.5" cy="134.0" r="0.78" fill="#f03c58"/>
<circle cx="405.0" cy="139.0" r="0.78" fill="#f03c58"/>
<circle cx="386.0" cy="155.8" r="0.78" fill="#f03c58"/>
<circle cx="319.5" cy="173.0" r="0.78" fill="#f03c58"/>
<circle cx="322.5" cy="175.5" r="0.78" fill="#f03c58"/>
<circle cx="325.5" cy="181.0" r="0.78" fill="#f03c58"/>
</g>
<rect x="306" y="10.2" width="186.7" height="204.0" fill="none" stroke="#86949a" stroke-width="0.75"/>
<text x="481.8" y="40.0" font-size="7.6" font-style="italic" text-anchor="middle" transform="rotate(-47.6 481.8 40.0)">y = x</text>
<text x="319.0" y="223.1" text-anchor="middle">−20</text>
<text x="303.5" y="203.4" text-anchor="end">−20</text>
<line x1="319.0" y1="214.79999999999998" x2="319.0" y2="213.0" stroke="#7d8a90" stroke-width="0.5"/>
<line x1="305.4" y1="200.6" x2="307.2" y2="200.6" stroke="#7d8a90" stroke-width="0.5"/>
<text x="360.3" y="223.1" text-anchor="middle">−10</text>
<text x="303.5" y="158.2" text-anchor="end">−10</text>
<line x1="360.3" y1="214.79999999999998" x2="360.3" y2="213.0" stroke="#7d8a90" stroke-width="0.5"/>
<line x1="305.4" y1="155.4" x2="307.2" y2="155.4" stroke="#7d8a90" stroke-width="0.5"/>
<text x="401.6" y="223.1" text-anchor="middle">0</text>
<text x="303.5" y="113.0" text-anchor="end">0</text>
<line x1="401.6" y1="214.79999999999998" x2="401.6" y2="213.0" stroke="#7d8a90" stroke-width="0.5"/>
<line x1="305.4" y1="110.2" x2="307.2" y2="110.2" stroke="#7d8a90" stroke-width="0.5"/>
<text x="442.9" y="223.1" text-anchor="middle">10</text>
<text x="303.5" y="67.8" text-anchor="end">10</text>
<line x1="442.9" y1="214.79999999999998" x2="442.9" y2="213.0" stroke="#7d8a90" stroke-width="0.5"/>
<line x1="305.4" y1="65.0" x2="307.2" y2="65.0" stroke="#7d8a90" stroke-width="0.5"/>
<text x="484.2" y="223.1" text-anchor="middle">20</text>
<text x="303.5" y="22.6" text-anchor="end">20</text>
<line x1="484.2" y1="214.79999999999998" x2="484.2" y2="213.0" stroke="#7d8a90" stroke-width="0.5"/>
<line x1="305.4" y1="19.8" x2="307.2" y2="19.8" stroke="#7d8a90" stroke-width="0.5"/>
<line x1="339.6" y1="214.2" x2="339.6" y2="213.29999999999998" stroke="#7d8a90" stroke-width="0.4"/>
<line x1="306" y1="178.0" x2="306.9" y2="178.0" stroke="#7d8a90" stroke-width="0.4"/>
<line x1="380.9" y1="214.2" x2="380.9" y2="213.29999999999998" stroke="#7d8a90" stroke-width="0.4"/>
<line x1="306" y1="132.8" x2="306.9" y2="132.8" stroke="#7d8a90" stroke-width="0.4"/>
<line x1="422.2" y1="214.2" x2="422.2" y2="213.29999999999998" stroke="#7d8a90" stroke-width="0.4"/>
<line x1="306" y1="87.6" x2="306.9" y2="87.6" stroke="#7d8a90" stroke-width="0.4"/>
<line x1="463.5" y1="214.2" x2="463.5" y2="213.29999999999998" stroke="#7d8a90" stroke-width="0.4"/>
<line x1="306" y1="42.4" x2="306.9" y2="42.4" stroke="#7d8a90" stroke-width="0.4"/>
<text x="399.4" y="229.4" text-anchor="middle">true / mm</text>
<text x="287.0" y="113.2" text-anchor="middle" font-size="8.5" transform="rotate(-90 287.0 113.2)">interpolation (XGBoost) / mm</text>
<rect x="500.4" y="205.89" width="21.399999999999977" height="5.22" fill="#eef6fb"/>
<rect x="500.4" y="200.97" width="21.399999999999977" height="5.22" fill="#d3e0dc"/>
<rect x="500.4" y="196.06" width="21.399999999999977" height="5.22" fill="#cde0f1"/>
<rect x="500.4" y="191.14" width="21.399999999999977" height="5.22" fill="#eed5eb"/>
<rect x="500.4" y="186.23" width="21.399999999999977" height="5.22" fill="#f6c6e0"/>
<rect x="500.4" y="181.31" width="21.399999999999977" height="5.22" fill="#f8a8d0"/>
<rect x="500.4" y="176.40" width="21.399999999999977" height="5.22" fill="#fa6cb8"/>
<rect x="500.4" y="171.48" width="21.399999999999977" height="5.22" fill="#b878b0"/>
<rect x="500.4" y="166.57" width="21.399999999999977" height="5.22" fill="#9c8cdc"/>
<rect x="500.4" y="161.65" width="21.399999999999977" height="5.22" fill="#7484bc"/>
<rect x="500.4" y="156.74" width="21.399999999999977" height="5.22" fill="#7a70b0"/>
<rect x="500.4" y="151.82" width="21.399999999999977" height="5.22" fill="#5c4c94"/>
<rect x="500.4" y="146.91" width="21.399999999999977" height="5.22" fill="#3c44a4"/>
<rect x="500.4" y="141.99" width="21.399999999999977" height="5.22" fill="#1038c8"/>
<rect x="500.4" y="137.08" width="21.399999999999977" height="5.22" fill="#0a5c9c"/>
<rect x="500.4" y="132.16" width="21.399999999999977" height="5.22" fill="#00f080"/>
<rect x="500.4" y="127.24" width="21.399999999999977" height="5.22" fill="#00b4f4"/>
<rect x="500.4" y="122.33" width="21.399999999999977" height="5.22" fill="#1080c4"/>
<rect x="500.4" y="117.41" width="21.399999999999977" height="5.22" fill="#0a5ca0"/>
<rect x="500.4" y="112.50" width="21.399999999999977" height="5.22" fill="#0a4c7c"/>
<rect x="500.4" y="107.58" width="21.399999999999977" height="5.22" fill="#0a5868"/>
<rect x="500.4" y="102.67" width="21.399999999999977" height="5.22" fill="#006058"/>
<rect x="500.4" y="97.75" width="21.399999999999977" height="5.22" fill="#00604c"/>
<rect x="500.4" y="92.84" width="21.399999999999977" height="5.22" fill="#a8e8b8"/>
<rect x="500.4" y="87.92" width="21.399999999999977" height="5.22" fill="#8fd8a4"/>
<rect x="500.4" y="83.01" width="21.399999999999977" height="5.22" fill="#7ab47c"/>
<rect x="500.4" y="78.09" width="21.399999999999977" height="5.22" fill="#c0d820"/>
<rect x="500.4" y="73.18" width="21.399999999999977" height="5.22" fill="#ffee00"/>
<rect x="500.4" y="68.26" width="21.399999999999977" height="5.22" fill="#ffdc00"/>
<rect x="500.4" y="63.35" width="21.399999999999977" height="5.22" fill="#ffc800"/>
<rect x="500.4" y="58.43" width="21.399999999999977" height="5.22" fill="#ffb400"/>
<rect x="500.4" y="53.52" width="21.399999999999977" height="5.22" fill="#ffa000"/>
<rect x="500.4" y="48.60" width="21.399999999999977" height="5.22" fill="#ff9500"/>
<rect x="500.4" y="43.69" width="21.399999999999977" height="5.22" fill="#e8582e"/>
<rect x="500.4" y="38.77" width="21.399999999999977" height="5.22" fill="#c8323a"/>
<rect x="500.4" y="33.86" width="21.399999999999977" height="5.22" fill="#a83236"/>
<rect x="500.4" y="28.94" width="21.399999999999977" height="5.22" fill="#803c3c"/>
<rect x="500.4" y="24.03" width="21.399999999999977" height="5.22" fill="#4a3c38"/>
<rect x="500.4" y="19.11" width="21.399999999999977" height="5.22" fill="#52281e"/>
<rect x="500.4" y="14.20" width="21.399999999999977" height="5.22" fill="#5c2a1c"/>
<rect x="500.4" y="14.2" width="21.399999999999977" height="196.60000000000002" fill="none" stroke="#6a6a6a" stroke-width="0.8"/>
<text x="511.1" y="9.9" text-anchor="middle">density</text>
<line x1="521.8" y1="210.6" x2="523.3" y2="210.6" stroke="#6a6a6a" stroke-width="0.5"/>
<text x="526.8" y="213.4">0</text>
<line x1="521.8" y1="179.0" x2="523.3" y2="179.0" stroke="#6a6a6a" stroke-width="0.5"/>
<text x="526.8" y="181.8">0.001</text>
<line x1="521.8" y1="147.4" x2="523.3" y2="147.4" stroke="#6a6a6a" stroke-width="0.5"/>
<text x="526.8" y="150.2">0.002</text>
<line x1="521.8" y1="115.8" x2="523.3" y2="115.8" stroke="#6a6a6a" stroke-width="0.5"/>
<text x="526.8" y="118.6">0.003</text>
<line x1="521.8" y1="84.2" x2="523.3" y2="84.2" stroke="#6a6a6a" stroke-width="0.5"/>
<text x="526.8" y="87.0">0.004</text>
<line x1="521.8" y1="52.6" x2="523.3" y2="52.6" stroke="#6a6a6a" stroke-width="0.5"/>
<text x="526.8" y="55.4">0.005</text>
<line x1="521.8" y1="21.0" x2="523.3" y2="21.0" stroke="#6a6a6a" stroke-width="0.5"/>
<text x="526.8" y="23.8">0.006</text>
<clipPath id="c2"><rect x="34.4" y="257.8" width="186.29999999999998" height="203.59999999999997"/></clipPath>
<rect x="34.4" y="257.8" width="186.29999999999998" height="203.59999999999997" fill="#e6f2fa"/>
<g clip-path="url(#c2)">
<polygon fill="#d3e0dc" points="193.9,324.8 212.2,324.8 212.2,327.8 193.9,327.8"/>
<polygon fill="#d3e0dc" points="30.0,405.0 35.7,405.7 50.6,398.2 62.2,386.6 67.2,376.6 70.0,366.5 86.6,350.7 103.2,338.2 119.8,323.3 125.0,316.5 141.6,303.2 154.1,296.6 161.5,283.3 164.9,286.6 173.2,304.9 169.8,313.2 161.5,326.0 168.2,327.3 179.8,336.5 188.9,342.3 188.9,349.7 181.5,360.0 176.4,363.3 162.3,367.4 162.3,380.7 148.2,392.3 129.9,397.3 116.6,413.0 113.7,418.2 103.7,426.5 88.8,439.7 80.5,443.1 50.6,441.4 35.7,434.8 30.0,432.0"/>
<polygon fill="#cde0f1" points="37.3,413.2 50.6,401.6 63.9,388.3 69.7,378.3 72.0,371.5 86.6,354.8 103.2,343.2 119.8,328.3 125.0,322.3 135.0,313.2 146.6,310.7 155.7,313.2 158.2,319.9 159.0,327.0 163.2,329.8 176.5,338.1 182.3,346.4 179.8,353.1 174.8,360.0 173.1,361.6 160.0,366.0 158.1,378.2 146.5,389.0 128.2,394.8 113.3,409.8 112.0,413.2 100.4,422.5 88.8,434.5 78.8,438.8 55.6,437.6 44.0,433.8 39.0,424.8"/>
<polygon fill="#eed5eb" points="40.6,423.1 53.9,405.7 67.2,389.9 73.0,378.3 80.0,369.8 86.6,359.8 103.2,348.2 116.5,338.2 126.5,328.3 136.4,320.0 146.5,317.0 152.4,328.2 163.2,333.1 171.5,339.8 174.8,346.4 169.8,354.7 166.4,356.6 156.5,366.6 154.8,378.2 143.2,387.3 126.6,392.3 111.6,406.4 112.0,409.0 100.4,419.5 88.8,430.8 78.8,435.6 55.6,434.0 47.3,430.8"/>
<polygon fill="#f6c6e0" points="155.8,330.9 154.7,330.4 153.6,329.8 152.5,329.3 151.5,328.6 150.7,327.7 149.8,326.7 148.9,325.7 147.8,324.9 146.6,324.3 145.4,323.5 144.0,322.7 142.3,322.4 140.0,322.9 137.7,323.5 135.3,324.1 132.4,325.5 129.4,327.3 126.3,329.1 122.7,332.9 119.1,336.9 116.0,340.1 113.2,342.0 110.4,344.0 107.5,345.9 104.6,348.0 101.5,350.0 98.4,352.1 95.2,354.3 91.8,356.7 88.2,359.1 85.4,362.4 83.1,365.9 81.0,369.2 79.0,372.4 76.7,375.4 74.2,378.4 72.6,381.3 71.1,384.1 69.7,386.8 68.3,389.4 66.3,392.2 64.1,395.1 61.7,398.1 59.2,401.2 56.7,404.4 54.2,407.7 51.6,411.2 48.9,414.8 46.0,418.7 44.4,421.8 43.7,424.3 44.8,425.6 45.9,426.7 47.0,427.8 48.0,428.9 49.1,429.9 50.3,430.6 51.6,431.3 53.0,431.8 54.6,432.1 56.1,432.4 57.7,432.6 59.4,432.7 61.0,432.8 62.7,432.9 64.3,433.0 65.9,433.1 67.6,433.2 69.2,433.3 71.0,433.4 72.7,433.5 74.5,433.6 76.4,433.7 78.3,433.8 80.5,433.6 83.9,431.0 87.1,428.6 90.3,426.4 93.6,423.3 96.8,420.3 99.9,417.3 102.8,414.6 105.6,412.0 108.3,409.5 111.0,407.0 113.3,403.4 115.9,401.2 118.4,399.0 121.0,396.8 123.6,394.5 126.2,392.1 130.7,390.7 136.0,388.8 141.5,386.2 145.8,382.9 150.3,379.3 152.0,375.7 152.9,372.3 153.8,369.2 155.2,366.1 158.2,362.6 161.4,358.9 165.4,354.8 167.3,351.5 168.7,348.4 169.3,345.7 170.0,343.1 169.5,341.2 168.5,339.8 167.6,338.4 166.5,337.2 165.2,336.3 164.0,335.4 162.8,334.6 161.6,333.9 160.4,333.2 159.2,332.6 158.1,332.0 156.9,331.5"/>
<polygon fill="#f8a8d0" points="155.3,331.4 154.2,330.9 153.1,330.3 152.1,329.7 151.0,329.1 150.1,328.4 149.1,327.6 148.1,326.8 146.7,326.4 145.2,326.3 143.6,326.0 142.0,325.8 140.2,325.8 138.2,326.2 136.0,326.6 133.8,327.0 131.4,327.8 128.8,328.7 126.1,329.7 122.4,333.7 118.8,338.2 115.8,341.3 113.0,343.0 110.3,344.8 107.5,346.6 104.6,348.4 101.6,350.4 98.5,352.4 95.3,354.6 91.9,356.9 88.4,359.3 85.6,362.6 83.3,366.0 81.3,369.3 79.6,372.5 77.4,375.5 75.0,378.4 73.4,381.2 71.8,384.0 70.4,386.6 69.0,389.2 67.3,391.9 65.2,394.6 63.1,397.5 60.9,400.4 58.6,403.5 56.3,406.6 53.9,409.9 51.3,413.3 48.7,417.0 46.5,420.4 44.6,423.7 45.6,425.0 46.8,426.1 47.8,427.1 48.9,428.2 49.9,429.1 51.1,429.9 52.2,430.8 53.6,431.2 55.3,431.4 57.0,431.6 58.6,431.7 60.2,431.8 61.9,431.8 63.5,431.9 65.1,432.0 66.7,432.1 68.4,432.1 70.0,432.2 71.7,432.3 73.4,432.4 75.2,432.5 77.0,432.5 78.9,432.6 81.1,432.5 84.7,429.2 88.2,426.1 91.4,423.3 94.5,420.5 97.5,417.8 100.3,415.0 103.1,412.5 105.7,410.0 108.3,407.6 110.8,405.2 113.2,402.6 115.7,400.6 118.2,398.6 120.8,396.5 123.4,394.3 126.0,392.0 130.3,390.5 135.3,388.5 140.0,385.9 144.1,382.7 148.4,379.3 149.9,375.8 151.1,372.6 152.1,369.6 153.6,366.6 156.1,363.3 158.6,360.0 161.6,356.4 163.2,353.4 165.0,350.3 166.6,347.2 168.3,344.1 168.1,342.1 167.4,340.5 166.8,338.9 165.9,337.7 164.5,336.8 163.3,336.0 162.1,335.2 160.9,334.5 159.7,333.9 158.5,333.2 157.4,332.6 156.3,332.0"/>
<polygon fill="#fa6cb8" points="53.0,430.7 81.4,431.7 92.0,421.1 97.9,415.8 110.9,403.5 122.7,394.7 126.1,391.5 132.0,389.7 136.1,387.6 146.6,379.6 151.7,367.7 158.4,357.7 160.1,354.2 167.3,344.4 165.9,338.4 155.2,332.1 147.0,327.5 125.8,330.3 124.0,332.0 116.7,341.5 102.0,350.4 95.4,354.8 87.3,360.4 81.8,368.7 79.7,373.6 75.4,378.7 67.8,392.0 57.1,406.9 45.2,423.4"/>
<polygon fill="#b878b0" points="48.1,423.1 58.9,408.2 69.7,393.2 77.2,380.0 81.6,374.8 86.6,363.1 103.2,352.3 118.2,343.2 126.5,332.4 146.6,329.8 154.1,334.0 164.0,339.8 164.9,343.9 158.2,353.1 156.5,356.6 149.8,366.6 144.8,378.2 134.9,385.7 121.6,392.8 109.5,401.8 96.4,414.2 90.5,419.5 80.5,429.5 53.9,428.5"/>
<polygon fill="#9c8cdc" points="152.9,333.9 151.9,333.4 151.0,332.9 150.0,332.3 149.0,331.8 148.1,331.3 146.9,330.9 145.7,330.6 144.1,330.8 142.5,331.0 140.8,331.2 139.2,331.4 137.5,331.7 135.8,331.9 134.0,332.1 132.1,332.4 130.2,332.6 127.9,333.6 125.4,335.0 121.9,339.6 118.9,343.2 116.5,345.2 114.2,346.6 111.9,348.0 109.5,349.4 107.0,350.9 104.4,352.5 101.7,354.2 98.9,356.0 95.9,357.9 92.8,360.0 89.4,362.2 86.5,364.9 85.1,368.2 83.8,371.3 82.7,374.1 81.0,376.6 78.9,379.2 77.2,381.7 75.8,384.1 74.5,386.5 73.1,388.8 71.8,391.1 70.4,393.5 68.6,395.9 66.8,398.5 65.0,401.1 63.1,403.9 61.2,406.7 59.1,409.7 56.8,412.9 54.4,416.3 51.9,420.0 52.0,421.7 52.7,423.0 53.3,424.3 53.9,425.6 54.4,426.9 55.7,427.5 57.4,427.6 59.1,427.8 60.7,427.9 62.3,428.0 63.8,428.1 65.4,428.2 67.0,428.2 68.7,428.2 70.3,428.2 71.9,428.1 73.6,428.1 75.2,428.1 76.9,428.1 78.9,427.7 80.9,427.3 84.0,425.1 87.5,421.6 90.8,418.4 93.6,415.9 96.3,413.5 98.9,411.1 101.3,408.8 103.6,406.6 105.9,404.5 108.0,402.5 110.1,400.6 112.2,399.1 114.4,397.5 116.5,395.8 118.7,394.2 121.1,392.5 123.8,391.0 126.7,389.3 130.0,387.5 133.7,385.5 137.1,383.0 140.6,380.4 143.9,377.4 145.3,374.5 146.5,371.7 147.7,369.1 148.9,366.5 150.6,363.9 152.3,361.2 154.1,358.6 155.6,356.0 156.9,353.5 159.1,350.5 161.6,347.2 163.3,344.4 163.2,342.6 163.1,341.0 162.4,339.7 161.2,338.9 160.0,338.2 158.9,337.5 157.9,336.8 156.9,336.2 155.9,335.6 154.9,335.0 153.9,334.5"/>
<polygon fill="#7484bc" points="152.5,334.3 151.5,333.8 150.6,333.3 149.6,332.8 148.7,332.3 147.7,331.7 146.4,331.5 145.2,331.3 143.5,331.5 141.9,331.7 140.3,332.0 138.7,332.2 137.0,332.4 135.3,332.6 133.6,332.9 131.8,333.1 129.9,333.4 127.3,335.0 124.5,337.4 121.2,341.6 118.5,344.6 116.2,346.4 114.0,347.7 111.8,349.0 109.5,350.3 107.1,351.8 104.6,353.3 102.0,354.9 99.3,356.7 96.4,358.6 93.3,360.5 90.1,362.6 87.1,365.2 85.7,368.4 84.5,371.4 83.4,374.1 81.9,376.7 79.9,379.1 78.3,381.5 76.9,383.9 75.6,386.2 74.3,388.4 73.0,390.7 71.6,392.9 70.0,395.3 68.4,397.7 66.7,400.2 65.0,402.8 63.3,405.4 61.4,408.2 59.4,411.1 57.4,414.2 55.1,417.6 55.0,419.4 55.2,421.0 55.4,422.5 55.5,424.1 55.6,425.8 56.8,426.5 58.4,426.7 60.0,426.9 61.5,427.1 63.0,427.3 64.5,427.4 66.0,427.5 67.7,427.4 69.3,427.3 71.0,427.2 72.7,427.1 74.3,427.0 76.0,426.9 77.7,426.8 79.9,426.0 82.1,425.2 85.1,422.9 88.4,419.8 91.4,417.0 94.2,414.6 96.7,412.3 99.2,410.0 101.6,407.8 103.8,405.7 106.0,403.6 108.1,401.7 110.1,399.9 112.2,398.4 114.2,396.8 116.3,395.2 118.5,393.6 120.7,392.0 123.3,390.5 126.2,388.9 129.3,387.1 132.8,385.2 136.0,382.8 139.4,380.2 142.6,377.4 144.2,374.6 145.4,371.9 146.5,369.3 147.7,366.9 149.3,364.3 150.9,361.8 152.6,359.2 154.0,356.7 155.3,354.3 157.4,351.4 160.1,348.1 161.8,345.3 161.9,343.5 162.0,341.6 161.8,340.1 160.6,339.3 159.5,338.6 158.5,337.9 157.4,337.2 156.5,336.5 155.5,336.0 154.5,335.4 153.5,334.9"/>
<polygon fill="#7a70b0" points="152.1,334.7 151.2,334.2 150.2,333.7 149.2,333.2 148.3,332.7 147.3,332.2 146.0,332.1 144.6,332.1 143.0,332.3 141.4,332.5 139.8,332.7 138.2,332.9 136.6,333.1 134.9,333.4 133.2,333.6 131.4,333.9 129.5,334.1 126.7,336.4 123.7,339.7 120.6,343.7 118.1,346.0 116.0,347.5 113.9,348.7 111.7,350.0 109.5,351.3 107.2,352.6 104.8,354.1 102.2,355.7 99.6,357.4 96.8,359.2 93.9,361.1 90.8,363.1 87.7,365.5 86.3,368.6 85.1,371.6 84.1,374.2 82.8,376.7 80.9,379.0 79.4,381.4 78.1,383.7 76.8,385.9 75.5,388.1 74.2,390.2 72.9,392.4 71.4,394.7 69.9,397.0 68.4,399.3 66.9,401.7 65.4,404.1 63.7,406.7 62.1,409.4 60.3,412.2 58.4,415.2 57.9,417.1 57.7,418.9 57.4,420.8 57.1,422.7 56.8,424.7 57.8,425.5 59.4,425.7 60.8,426.0 62.3,426.2 63.7,426.5 65.1,426.7 66.6,426.9 68.3,426.7 70.0,426.5 71.7,426.3 73.4,426.1 75.1,425.9 76.8,425.8 78.5,425.6 80.9,424.4 83.4,423.0 86.2,420.8 89.3,418.1 92.1,415.6 94.7,413.3 97.2,411.1 99.6,408.9 101.9,406.7 104.0,404.7 106.1,402.8 108.1,400.9 110.1,399.3 112.1,397.7 114.1,396.2 116.1,394.6 118.2,393.1 120.4,391.5 122.9,390.0 125.6,388.5 128.5,386.8 131.9,384.8 135.0,382.6 138.2,380.1 141.4,377.4 143.0,374.7 144.2,372.1 145.4,369.6 146.5,367.2 148.0,364.7 149.5,362.3 151.0,359.8 152.4,357.4 153.7,355.1 155.7,352.3 158.6,348.9 160.3,346.2 160.6,344.3 161.0,342.3 161.1,340.6 160.1,339.8 159.0,339.0 158.0,338.3 157.0,337.6 156.1,336.9 155.1,336.3 154.1,335.8 153.1,335.2"/>
<polygon fill="#5c4c94" points="151.7,335.1 150.8,334.6 149.8,334.1 148.9,333.6 147.9,333.1 146.9,332.7 145.5,332.7 144.0,332.8 142.4,333.0 140.9,333.2 139.3,333.5 137.7,333.7 136.1,333.9 134.5,334.1 132.8,334.4 131.0,334.6 129.2,334.8 126.1,337.9 122.8,342.1 119.9,345.7 117.8,347.4 115.8,348.6 113.7,349.8 111.7,351.0 109.5,352.2 107.3,353.5 104.9,354.9 102.5,356.4 100.0,358.1 97.3,359.8 94.5,361.6 91.4,363.6 88.3,365.8 86.8,368.8 85.8,371.7 84.9,374.3 83.8,376.7 82.0,379.0 80.5,381.2 79.2,383.4 77.9,385.6 76.6,387.7 75.4,389.8 74.1,391.9 72.7,394.1 71.4,396.2 70.0,398.4 68.8,400.6 67.4,402.9 66.1,405.2 64.7,407.6 63.2,410.1 61.6,412.7 60.9,414.9 60.2,416.9 59.5,419.1 58.8,421.3 57.9,423.7 58.9,424.5 60.4,424.8 61.7,425.1 63.1,425.4 64.4,425.7 65.7,426.0 67.2,426.2 69.0,425.9 70.7,425.6 72.4,425.4 74.2,425.1 75.9,424.8 77.6,424.6 79.4,424.3 82.0,422.7 84.6,420.9 87.4,418.7 90.2,416.3 92.8,414.1 95.2,412.1 97.6,409.9 99.9,407.7 102.1,405.7 104.2,403.8 106.2,401.9 108.2,400.1 110.1,398.6 112.0,397.1 113.9,395.6 115.9,394.1 117.9,392.5 120.0,391.0 122.4,389.6 125.0,388.1 127.8,386.4 130.9,384.5 134.0,382.4 137.0,380.0 140.2,377.4 141.9,374.8 143.1,372.2 144.3,369.8 145.4,367.5 146.7,365.2 148.1,362.8 149.5,360.5 150.8,358.2 152.1,355.9 154.0,353.2 157.2,349.8 158.8,347.2 159.4,345.1 160.0,343.0 160.5,341.1 159.5,340.2 158.5,339.4 157.5,338.7 156.6,337.9 155.7,337.2 154.7,336.6 153.7,336.1 152.7,335.6"/>
<polygon fill="#3c44a4" points="58.9,423.1 64.7,410.7 72.2,396.6 82.2,380.0 84.9,376.4 88.3,366.5 106.5,354.8 119.8,347.4 128.1,335.7 146.6,333.1 154.9,337.3 159.9,341.4 156.6,349.7 151.5,355.0 144.8,366.6 139.9,376.6 131.6,383.2 118.3,391.4 108.4,399.2 95.3,411.2 90.5,415.0 80.5,423.0 67.2,425.6"/>
<polygon fill="#1038c8" points="150.2,336.3 149.3,335.7 148.5,335.2 147.5,334.8 146.5,334.5 145.3,334.3 143.9,334.4 142.4,334.6 141.0,334.8 139.6,334.9 138.1,335.1 136.7,335.3 135.2,335.4 133.7,335.6 132.0,336.0 129.0,338.9 126.9,340.3 124.4,342.6 121.5,346.3 119.1,349.2 117.4,350.1 115.7,351.1 113.9,352.1 112.1,353.1 110.2,354.1 108.2,355.2 106.2,356.4 104.0,357.8 101.8,359.2 99.4,360.7 96.9,362.3 94.1,364.0 91.2,365.9 88.9,368.3 87.9,370.9 87.1,373.4 86.3,375.6 85.1,377.7 83.6,379.8 82.5,381.8 81.2,383.8 79.8,385.8 78.5,387.8 77.1,389.8 75.7,391.9 74.2,394.1 72.7,396.3 71.7,398.2 70.8,400.1 69.9,402.1 69.0,404.0 68.1,406.0 67.1,408.1 66.1,410.2 65.3,412.3 64.7,414.2 64.1,416.2 63.4,418.3 63.8,419.5 64.9,420.0 66.0,420.4 67.1,420.9 68.2,421.3 69.2,421.8 70.4,422.2 71.9,422.1 73.4,422.1 74.8,422.0 76.3,422.0 77.8,422.0 79.3,422.0 81.5,421.0 84.3,418.9 87.1,416.6 89.7,414.5 92.2,412.5 94.5,410.7 96.8,408.8 99.1,406.7 101.2,404.7 103.3,402.8 105.2,401.0 107.1,399.3 109.0,397.8 110.8,396.4 112.6,395.0 114.4,393.6 116.3,392.1 118.2,390.7 120.2,389.3 122.4,387.8 124.7,386.3 127.2,384.6 129.9,382.8 132.5,380.8 135.2,378.6 137.8,376.3 139.4,373.9 140.7,371.6 141.8,369.4 142.9,367.2 144.1,365.1 145.4,363.0 146.6,360.9 147.9,358.7 149.2,356.6 151.4,353.9 153.8,351.0 154.6,349.0 155.5,346.9 156.4,344.9 156.7,343.1 156.2,342.0 155.8,340.9 155.3,339.9 154.5,339.2 153.7,338.5 152.8,337.9 151.9,337.3 151.0,336.8"/>
<polygon fill="#0a5c9c" points="148.8,337.7 148.1,337.0 147.3,336.4 146.4,336.1 145.1,336.0 143.8,336.0 142.5,336.1 141.2,336.2 139.9,336.3 138.5,336.4 137.2,336.5 135.8,336.6 134.4,336.7 133.0,336.8 131.2,337.5 126.2,344.5 123.5,347.7 121.8,348.9 119.9,350.5 118.2,351.8 116.7,352.7 115.2,353.5 113.6,354.4 111.9,355.3 110.2,356.3 108.5,357.3 106.6,358.4 104.7,359.5 102.6,360.8 100.4,362.1 98.1,363.5 95.6,365.1 92.8,366.7 90.6,368.9 89.7,371.3 88.8,373.6 88.0,375.6 87.0,377.6 85.9,379.5 84.9,381.3 83.5,383.1 82.0,385.1 80.4,387.1 78.8,389.1 77.1,391.3 75.3,393.5 73.5,395.9 72.4,397.8 71.9,399.5 71.4,401.1 70.8,402.8 70.3,404.5 69.7,406.2 69.1,407.9 68.6,409.6 68.8,410.8 69.2,411.8 69.6,412.8 70.2,413.5 71.0,414.1 71.8,414.7 72.6,415.2 73.4,415.8 74.1,416.3 75.0,416.9 75.9,417.3 76.8,417.8 77.8,418.2 78.7,418.7 79.7,419.3 80.8,419.8 83.6,417.7 86.3,415.5 88.9,413.4 91.4,411.4 93.7,409.6 95.8,407.9 97.9,406.2 100.0,404.3 102.0,402.4 103.9,400.6 105.7,399.0 107.4,397.5 109.1,396.2 110.7,394.9 112.4,393.7 114.1,392.4 115.9,391.0 117.6,389.7 119.5,388.3 121.4,386.8 123.4,385.3 125.5,383.7 127.7,382.0 129.9,380.2 132.1,378.3 134.4,376.2 136.5,374.1 138.0,372.0 139.1,370.0 140.1,368.0 141.1,366.1 142.3,364.1 143.5,362.2 144.8,360.2 146.1,358.1 147.6,356.0 149.1,353.7 150.0,351.8 150.9,349.9 151.8,348.0 152.3,346.3 152.6,344.7 152.9,343.2 153.1,341.6 152.4,340.9 151.7,340.2 150.9,339.6 150.2,338.9 149.5,338.3"/>
<polygon fill="#00f080" points="81.3,419.0 69.7,409.0 73.0,396.6 85.5,381.6 88.3,376.4 91.6,368.1 108.2,358.2 123.1,349.9 129.8,339.1 131.6,337.3 146.6,336.5 152.4,342.3 149.9,349.7 147.3,355.0 139.9,366.6 136.5,373.2 128.2,380.7 116.6,390.0 106.6,397.5 98.8,404.8"/>
<polygon fill="#00b4f4" points="147.6,338.9 146.9,338.2 146.1,337.7 145.0,337.6 143.7,337.7 142.4,337.7 141.2,337.8 139.9,337.9 138.7,337.9 137.4,338.0 136.1,338.1 134.8,338.1 133.5,338.2 129.0,343.7 127.1,345.0 123.6,349.7 121.5,351.9 120.2,352.7 118.8,353.4 117.5,354.2 116.1,354.9 114.7,355.7 113.3,356.5 111.8,357.3 110.2,358.2 108.6,359.1 107.0,360.1 105.2,361.1 103.4,362.3 101.4,363.4 99.2,364.7 96.9,366.1 94.4,367.6 92.2,369.4 91.3,371.7 90.4,373.8 89.7,375.7 88.9,377.5 87.9,379.2 87.0,380.8 85.9,382.5 84.6,384.3 83.0,386.1 81.4,388.0 79.8,390.1 78.0,392.2 76.1,394.4 74.7,396.5 73.5,398.5 73.1,400.0 72.7,401.5 72.3,403.0 71.9,404.5 71.5,406.1 71.1,407.6 71.2,408.8 71.8,409.5 72.5,410.1 73.2,410.7 73.9,411.3 74.6,411.9 75.2,412.4 75.9,413.0 76.6,413.6 77.3,414.2 78.0,414.8 78.7,415.4 79.4,416.1 80.2,416.7 81.4,416.9 83.3,416.1 86.1,413.9 88.6,411.8 91.0,409.9 93.2,408.1 95.2,406.4 97.2,404.7 99.2,403.0 101.1,401.3 102.9,399.6 104.6,398.0 106.1,396.7 107.7,395.4 109.2,394.3 110.7,393.2 112.2,392.0 113.8,390.9 115.4,389.7 117.0,388.4 118.6,387.1 120.3,385.8 122.0,384.4 123.9,382.9 125.8,381.4 127.7,379.8 129.7,378.0 131.7,376.2 133.8,374.3 135.7,372.3 136.8,370.4 137.7,368.6 138.6,366.9 139.7,365.1 140.8,363.3 142.0,361.4 143.2,359.6 144.4,357.7 145.6,355.7 146.7,353.8 147.7,352.0 148.5,350.2 149.2,348.4 149.8,346.7 150.4,345.1 150.9,343.4 150.9,342.2 150.2,341.5 149.5,340.8 148.8,340.2 148.2,339.5"/>
<polygon fill="#1080c4" points="81.3,416.4 97.5,403.3 105.3,396.0 115.4,388.4 126.9,379.2 134.9,372.0 138.2,365.6 145.6,354.0 148.0,348.9 150.1,342.8 145.8,338.5 132.5,339.3 131.4,340.4 124.5,351.4 109.2,359.9 93.2,369.5 90.1,377.2 87.2,382.7 74.8,397.5 72.0,408.3"/>
<polygon fill="#0a5ca0" points="144.1,341.8 143.4,341.1 142.3,341.1 141.1,341.1 139.9,341.0 138.7,341.1 137.4,341.3 136.2,341.4 134.9,341.5 133.7,341.7 132.4,341.8 131.1,341.9 123.5,352.4 122.2,353.1 120.9,353.8 119.7,354.5 118.4,355.1 117.2,355.8 115.9,356.5 114.7,357.2 113.4,357.8 112.0,358.6 110.7,359.3 109.3,360.1 107.8,361.0 106.3,361.9 104.7,362.9 103.1,363.9 101.3,364.9 99.5,366.0 97.6,367.4 95.6,368.8 93.8,370.4 93.0,372.5 92.3,374.3 91.6,376.0 91.0,377.6 90.2,379.0 89.5,380.5 88.8,381.8 87.8,383.2 86.5,384.7 85.3,386.2 83.9,387.8 82.6,389.5 81.1,391.2 79.5,393.2 77.6,395.3 76.0,397.3 75.0,399.0 74.8,400.3 74.5,401.6 74.3,402.8 74.0,404.1 73.7,405.4 73.4,406.7 73.7,407.5 74.3,408.1 74.9,408.7 75.4,409.2 76.0,409.8 76.5,410.4 77.1,410.9 77.7,411.5 78.3,412.1 79.1,412.3 80.0,412.7 80.8,413.0 81.6,413.4 82.5,413.8 84.1,413.1 86.5,411.2 88.7,409.5 90.7,407.9 92.6,406.4 94.4,405.0 96.2,403.6 97.8,402.3 99.5,400.6 101.2,399.0 102.7,397.5 104.2,396.1 105.6,394.9 106.9,393.9 108.2,393.0 109.6,392.0 110.9,391.0 112.3,390.0 113.8,388.9 115.3,387.8 116.8,386.6 118.4,385.4 120.0,384.1 121.8,382.7 123.6,381.2 125.5,379.7 127.5,378.0 129.4,376.3 131.4,374.4 133.5,372.5 134.7,370.6 135.7,368.9 136.6,367.2 137.4,365.5 138.4,363.8 139.5,362.1 140.5,360.3 141.6,358.5 142.7,356.6 143.7,354.8 144.5,353.1 145.3,351.4 145.8,349.7 146.3,348.2 146.8,346.6 147.1,345.1 146.5,344.4 145.9,343.7 145.3,343.0 144.7,342.4"/>
<polygon fill="#0a4c7c" points="141.6,344.2 141.0,343.7 140.0,343.5 138.9,343.4 137.9,343.3 136.8,343.4 135.5,343.6 134.3,343.8 133.1,344.0 131.8,344.2 130.6,344.4 129.4,344.6 123.1,353.1 121.9,353.7 120.6,354.3 119.4,355.0 118.2,355.6 117.0,356.2 115.8,356.8 114.6,357.5 113.3,358.1 112.0,358.8 110.6,359.5 109.2,360.4 107.8,361.2 106.3,362.2 104.8,363.1 103.1,364.1 101.4,365.1 99.6,366.3 97.9,367.7 96.2,369.2 94.7,370.8 93.9,372.8 93.2,374.5 92.6,376.1 92.0,377.6 91.4,379.0 90.7,380.3 90.0,381.6 89.1,382.9 87.9,384.3 86.7,385.7 85.5,387.2 84.3,388.7 82.9,390.3 81.3,392.2 79.3,394.3 77.4,396.5 75.8,398.5 75.6,399.7 75.5,400.9 75.3,402.0 75.1,403.2 75.0,404.4 74.8,405.6 75.1,406.4 75.6,407.0 76.1,407.6 76.6,408.2 77.1,408.8 77.5,409.3 78.0,410.0 78.5,410.6 79.1,411.1 80.2,411.1 81.2,411.2 82.2,411.2 83.1,411.3 84.1,411.5 85.6,410.8 87.8,409.2 89.8,407.6 91.7,406.2 93.4,404.9 95.1,403.6 96.7,402.4 98.3,401.2 100.0,399.5 101.6,397.8 103.1,396.3 104.4,395.0 105.7,393.9 106.9,393.0 108.2,392.1 109.5,391.2 110.8,390.3 112.1,389.4 113.5,388.4 115.0,387.4 116.5,386.2 118.0,385.1 119.6,383.8 121.2,382.5 123.0,381.1 124.9,379.6 126.8,378.0 128.7,376.3 130.5,374.6 132.5,372.7 133.7,370.9 134.8,369.2 135.6,367.6 136.3,366.0 137.2,364.4 138.1,362.8 138.9,361.2 139.8,359.5 140.8,357.8 141.6,356.1 142.2,354.6 142.8,353.1 143.3,351.7 143.6,350.3 144.0,348.9 144.2,347.5 143.7,346.8 143.2,346.1 142.7,345.4 142.1,344.8"/>
<polygon fill="#0a5868" points="139.1,346.7 138.5,346.2 137.7,346.0 136.8,345.8 135.9,345.6 134.8,345.7 133.6,346.0 132.4,346.3 131.2,346.5 130.0,346.8 128.9,347.0 127.7,347.3 122.7,353.7 121.5,354.3 120.3,354.9 119.2,355.5 118.0,356.0 116.8,356.6 115.7,357.2 114.5,357.8 113.2,358.4 111.9,359.0 110.6,359.8 109.2,360.6 107.8,361.5 106.3,362.4 104.8,363.3 103.2,364.3 101.5,365.4 99.8,366.5 98.3,368.1 96.8,369.6 95.5,371.3 94.8,373.1 94.2,374.7 93.6,376.2 93.1,377.6 92.5,378.9 91.9,380.1 91.3,381.3 90.3,382.5 89.3,383.8 88.2,385.1 87.1,386.5 85.9,387.9 84.7,389.4 83.1,391.2 81.0,393.3 78.8,395.6 76.5,398.1 76.5,399.1 76.4,400.2 76.4,401.3 76.3,402.3 76.2,403.4 76.1,404.4 76.4,405.2 76.8,405.8 77.3,406.5 77.7,407.1 78.1,407.7 78.5,408.3 79.0,409.0 79.4,409.6 79.9,410.1 81.2,409.9 82.4,409.6 83.5,409.5 84.6,409.3 85.7,409.2 87.2,408.6 89.1,407.1 90.9,405.8 92.6,404.5 94.3,403.3 95.8,402.2 97.3,401.1 98.7,400.1 100.4,398.4 101.9,396.7 103.4,395.1 104.7,393.9 105.8,392.9 107.0,392.1 108.2,391.3 109.4,390.5 110.6,389.7 111.9,388.8 113.3,387.9 114.7,386.9 116.1,385.9 117.6,384.8 119.1,383.6 120.7,382.3 122.4,381.0 124.2,379.6 126.1,378.0 127.9,376.4 129.6,374.7 131.5,372.9 132.7,371.2 133.9,369.5 134.6,367.9 135.2,366.4 135.9,365.0 136.6,363.5 137.4,362.0 138.1,360.5 138.8,359.0 139.5,357.5 139.9,356.2 140.4,354.8 140.7,353.6 140.9,352.4 141.2,351.1 141.3,349.9 140.9,349.2 140.5,348.5 140.1,347.8 139.6,347.3"/>
<polygon fill="#006058" points="136.6,349.2 136.1,348.7 135.4,348.4 134.7,348.2 133.9,347.9 132.9,348.0 131.7,348.4 130.5,348.7 129.4,349.0 128.2,349.3 127.1,349.6 126.0,349.9 122.3,354.4 121.2,354.9 120.0,355.4 118.9,356.0 117.8,356.5 116.7,357.0 115.5,357.5 114.3,358.1 113.1,358.6 111.9,359.2 110.6,360.0 109.2,360.8 107.8,361.7 106.4,362.6 104.9,363.6 103.3,364.5 101.7,365.6 99.9,366.7 98.6,368.4 97.4,370.1 96.3,371.7 95.7,373.4 95.1,374.9 94.6,376.3 94.1,377.6 93.6,378.8 93.1,379.9 92.5,381.0 91.6,382.2 90.7,383.4 89.7,384.6 88.7,385.9 87.6,387.2 86.5,388.5 85.0,390.2 82.7,392.4 80.1,394.8 77.3,397.6 77.3,398.6 77.4,399.5 77.4,400.5 77.5,401.4 77.5,402.4 77.5,403.3 77.7,404.1 78.1,404.7 78.5,405.3 78.8,406.0 79.2,406.6 79.5,407.3 79.9,408.0 80.3,408.6 80.8,409.2 82.2,408.6 83.6,408.1 84.9,407.7 86.1,407.3 87.3,407.0 88.7,406.3 90.5,405.1 92.1,403.9 93.6,402.8 95.1,401.8 96.5,400.8 97.8,399.9 99.2,399.0 100.8,397.3 102.3,395.5 103.7,393.9 104.9,392.7 106.0,391.9 107.1,391.2 108.2,390.5 109.3,389.8 110.5,389.0 111.7,388.2 113.0,387.4 114.3,386.5 115.7,385.5 117.1,384.4 118.6,383.3 120.2,382.1 121.8,380.9 123.6,379.5 125.4,378.0 127.2,376.4 128.8,374.8 130.4,373.1 131.7,371.4 133.0,369.8 133.7,368.3 134.2,366.9 134.7,365.5 135.2,364.2 135.8,362.8 136.3,361.5 136.9,360.2 137.4,358.9 137.7,357.7 137.9,356.6 138.1,355.5 138.2,354.4 138.4,353.4 138.4,352.4 138.1,351.7 137.9,350.9 137.6,350.2 137.1,349.7"/>
<polygon fill="#00604c" points="134.1,351.7 133.7,351.2 133.1,350.9 132.5,350.5 132.0,350.2 131.0,350.3 129.8,350.7 128.6,351.1 127.5,351.5 126.4,351.9 125.3,352.2 124.2,352.6 121.9,355.0 120.8,355.5 119.8,356.0 118.7,356.5 117.6,356.9 116.5,357.4 115.4,357.9 114.2,358.4 113.1,358.9 111.8,359.5 110.5,360.2 109.2,361.1 107.8,361.9 106.4,362.9 104.9,363.8 103.4,364.8 101.8,365.8 100.1,366.9 98.9,368.7 98.0,370.5 97.2,372.1 96.6,373.7 96.0,375.1 95.6,376.4 95.1,377.6 94.7,378.7 94.3,379.8 93.7,380.8 92.9,381.8 92.1,382.9 91.2,384.0 90.3,385.2 89.3,386.4 88.3,387.6 86.8,389.2 84.4,391.4 81.5,394.0 78.1,397.1 78.2,398.0 78.3,398.9 78.5,399.7 78.6,400.5 78.7,401.4 78.8,402.2 79.1,402.9 79.4,403.6 79.7,404.2 79.9,404.9 80.2,405.6 80.5,406.3 80.8,407.0 81.1,407.7 81.6,408.2 83.3,407.4 84.8,406.6 86.2,406.0 87.6,405.3 88.9,404.7 90.3,404.0 91.8,403.0 93.2,402.1 94.6,401.2 95.9,400.3 97.2,399.5 98.4,398.7 99.6,397.9 101.2,396.2 102.7,394.4 104.0,392.8 105.1,391.6 106.1,390.9 107.1,390.3 108.2,389.7 109.2,389.0 110.3,388.3 111.5,387.6 112.7,386.8 114.0,386.0 115.4,385.2 116.7,384.1 118.1,383.1 119.6,381.9 121.2,380.7 122.9,379.4 124.8,378.0 126.4,376.5 127.9,374.9 129.4,373.3 130.7,371.7 132.1,370.0 132.7,368.6 133.1,367.3 133.5,366.1 133.8,364.9 134.2,363.7 134.6,362.5 135.0,361.4 135.3,360.2 135.4,359.3 135.5,358.3 135.5,357.4 135.5,356.5 135.6,355.6 135.6,354.8 135.4,354.1 135.2,353.4 135.0,352.6 134.6,352.2"/>
<polygon fill="#a8e8b8" points="82.2,407.4 78.8,396.6 89.6,387.4 95.4,380.0 96.6,376.4 99.9,367.3 111.5,359.8 129.8,352.3 132.4,355.0 133.2,361.6 131.6,369.9 124.9,377.4 114.9,384.9 105.0,390.7 100.4,396.6"/>
<polygon fill="#8fd8a4" points="128.7,356.4 128.4,356.1 128.1,355.8 127.7,355.6 127.4,355.3 126.8,355.4 126.0,355.7 125.3,355.9 124.6,356.2 123.9,356.4 123.2,356.7 122.6,356.9 121.9,357.1 121.2,357.3 120.5,357.6 119.8,357.8 119.1,358.0 118.4,358.3 117.7,358.5 116.9,358.8 116.1,359.0 115.2,359.3 114.3,359.6 113.3,359.9 112.3,360.2 111.1,360.7 110.0,361.5 108.8,362.2 107.5,363.1 106.1,363.9 104.7,364.8 103.2,365.8 101.5,366.9 100.0,368.2 99.3,369.7 98.8,371.1 98.5,372.4 98.1,373.6 97.8,374.7 97.5,375.7 97.2,376.7 96.9,377.6 96.7,378.4 96.5,379.2 96.0,380.1 95.4,381.1 94.7,382.1 94.0,383.2 93.2,384.3 92.4,385.5 89.8,387.9 85.8,391.5 85.2,392.8 85.4,393.5 85.7,394.1 86.0,394.7 86.3,395.3 86.6,395.9 86.8,396.5 87.1,397.1 87.4,397.6 87.7,398.2 88.0,398.8 88.4,399.3 88.7,399.9 90.3,399.0 91.8,398.2 93.2,397.5 94.5,396.8 95.7,396.1 96.9,395.5 98.1,394.9 99.2,394.3 100.3,393.7 101.4,393.2 102.4,392.6 104.2,390.6 105.6,388.9 106.6,388.3 107.5,387.9 108.4,387.5 109.4,387.0 110.4,386.6 111.5,386.0 112.6,385.3 113.7,384.6 114.9,383.8 116.1,382.9 117.3,382.0 118.6,381.0 119.9,380.0 121.3,379.0 122.7,377.9 124.2,376.8 125.5,375.5 126.7,374.1 127.8,372.8 129.0,371.4 130.2,370.0 130.7,368.8 131.1,367.6 131.3,366.5 131.5,365.5 131.8,364.5 132.0,363.6 131.8,362.9 131.7,362.2 131.4,361.7 131.2,361.1 131.0,360.6 130.8,360.2 130.6,359.7 130.4,359.2 130.3,358.8 130.1,358.4 130.0,357.9 129.8,357.5 129.6,357.2 129.3,356.9 129.0,356.6"/>
<polygon fill="#7ab47c" points="126.1,358.9 125.8,358.7 125.5,358.6 125.2,358.4 124.9,358.2 124.4,358.3 123.8,358.4 123.3,358.6 122.7,358.7 122.2,358.8 121.7,358.9 121.1,359.1 120.6,359.2 120.1,359.3 119.5,359.4 118.9,359.6 118.4,359.7 117.7,359.8 117.1,360.0 116.4,360.1 115.7,360.3 115.0,360.4 114.2,360.6 113.3,360.8 112.3,360.9 111.2,361.4 110.1,362.1 109.0,362.8 107.7,363.6 106.5,364.4 105.1,365.2 103.6,366.1 102.0,367.1 100.4,368.3 99.5,369.7 99.2,371.1 98.9,372.4 98.6,373.6 98.4,374.6 98.1,375.6 97.9,376.5 97.8,377.3 97.6,378.1 97.4,378.8 97.1,379.6 96.8,380.4 96.4,381.2 96.0,382.0 95.6,382.9 95.1,383.7 93.8,385.2 91.7,387.3 91.4,388.2 91.6,388.7 91.9,389.1 92.2,389.5 92.5,389.9 92.8,390.3 93.1,390.6 93.3,391.0 93.7,391.4 94.0,391.6 94.4,391.9 94.8,392.2 95.2,392.5 96.2,392.0 97.1,391.6 98.0,391.2 98.9,390.8 99.7,390.5 100.5,390.2 101.3,389.9 102.1,389.6 102.8,389.3 103.6,389.0 104.4,388.7 105.5,387.6 106.5,386.8 107.3,386.5 108.0,386.3 108.8,386.0 109.7,385.8 110.6,385.6 111.6,385.1 112.6,384.4 113.6,383.6 114.7,382.9 115.8,382.0 116.9,381.2 118.1,380.3 119.3,379.4 120.5,378.5 121.8,377.5 123.2,376.4 124.5,375.2 125.6,374.0 126.6,372.8 127.7,371.5 128.8,370.2 129.5,369.0 130.0,367.9 130.3,366.8 130.6,365.9 130.8,364.9 131.0,364.0 130.6,363.5 130.2,363.0 129.8,362.6 129.4,362.2 129.0,361.9 128.7,361.5 128.4,361.2 128.2,360.9 127.9,360.6 127.7,360.3 127.4,360.0 127.2,359.8 127.0,359.5 126.7,359.3 126.4,359.1"/>
<polygon fill="#c0d820" points="97.5,383.9 99.8,369.1 111.8,361.7 122.6,361.1 130.1,364.5 128.9,368.5 123.8,374.8 111.2,384.5 99.8,385.1"/>
<polygon fill="#ffee00" points="121.7,361.7 121.5,361.7 121.2,361.7 121.0,361.7 120.7,361.7 120.5,361.7 120.3,361.7 120.1,361.7 119.8,361.8 119.6,361.8 119.4,361.8 119.1,361.8 118.9,361.8 118.6,361.8 118.4,361.8 118.1,361.8 117.8,361.8 117.5,361.8 117.2,361.8 116.9,361.8 116.5,361.9 116.1,361.9 115.6,361.9 115.1,361.9 114.5,361.9 113.9,361.9 113.1,361.9 112.2,361.9 111.2,362.3 110.3,362.8 109.3,363.5 108.2,364.2 107.1,364.9 105.9,365.7 104.6,366.6 103.1,367.5 101.5,368.6 100.9,369.8 100.8,370.8 100.8,371.7 100.7,372.5 100.7,373.3 100.6,374.0 100.6,374.7 100.5,375.3 100.5,375.9 100.4,376.4 100.4,377.0 100.3,377.5 100.2,378.1 100.2,378.6 100.1,379.1 100.1,379.6 100.0,380.1 100.0,380.6 99.9,381.1 99.8,381.6 100.0,382.0 100.3,382.1 100.6,382.3 100.9,382.5 101.2,382.7 101.5,382.8 101.9,382.9 102.4,382.9 102.8,382.9 103.3,382.9 103.7,382.8 104.2,382.8 104.7,382.8 105.1,382.8 105.6,382.8 106.1,382.8 106.6,382.7 107.1,382.7 107.7,382.7 108.2,382.7 108.8,382.7 109.5,382.6 110.2,382.6 110.9,382.6 111.8,382.5 112.7,381.8 113.7,381.1 114.8,380.4 115.8,379.7 116.9,379.0 118.0,378.3 119.1,377.4 120.2,376.5 121.4,375.6 122.6,374.6 123.7,373.5 124.6,372.4 125.5,371.2 126.5,370.1 127.4,369.0 128.0,367.9 128.4,366.8 128.6,365.9 128.8,365.0 128.1,364.5 127.3,364.1 126.7,363.8 126.2,363.5 125.7,363.2 125.3,363.0 124.9,362.9 124.6,362.7 124.2,362.6 124.0,362.5 123.7,362.4 123.4,362.3 123.2,362.2 123.0,362.1 122.8,362.0 122.5,361.9 122.4,361.8 122.2,361.8 122.0,361.7"/>
<polygon fill="#ffdc00" points="121.1,362.3 120.9,362.3 120.7,362.3 120.5,362.3 120.3,362.3 120.1,362.3 119.9,362.3 119.7,362.3 119.4,362.3 119.2,362.3 119.0,362.3 118.8,362.3 118.6,362.3 118.4,362.3 118.1,362.3 117.9,362.3 117.6,362.3 117.3,362.3 117.0,362.3 116.7,362.3 116.4,362.3 116.0,362.3 115.6,362.3 115.1,362.3 114.5,362.2 113.9,362.2 113.2,362.2 112.3,362.2 111.3,362.4 110.4,363.0 109.4,363.6 108.5,364.3 107.4,365.1 106.3,365.8 105.1,366.7 103.7,367.6 102.4,368.6 102.1,369.7 102.2,370.6 102.2,371.4 102.3,372.1 102.3,372.8 102.3,373.4 102.3,373.9 102.3,374.5 102.3,374.9 102.3,375.4 102.3,375.9 102.3,376.3 102.3,376.7 102.3,377.2 102.3,377.6 102.2,378.0 102.2,378.4 102.2,378.8 102.2,379.2 102.1,379.6 102.3,379.9 102.5,380.1 102.8,380.2 103.0,380.4 103.3,380.5 103.6,380.7 103.9,380.7 104.3,380.7 104.6,380.7 105.0,380.7 105.4,380.7 105.8,380.7 106.2,380.7 106.6,380.7 107.0,380.7 107.4,380.7 107.8,380.7 108.2,380.7 108.7,380.7 109.2,380.7 109.7,380.7 110.2,380.6 110.8,380.6 111.4,380.6 112.2,380.6 113.0,380.1 113.9,379.6 114.7,379.1 115.7,378.6 116.7,378.1 117.7,377.6 118.7,376.7 119.8,375.9 120.8,375.0 121.9,374.1 122.8,373.1 123.7,372.0 124.6,371.0 125.4,370.0 126.3,368.9 126.9,367.9 127.4,367.0 127.5,366.1 127.5,365.3 126.9,364.8 126.3,364.5 125.8,364.1 125.4,363.9 125.0,363.6 124.7,363.4 124.3,363.3 123.9,363.1 123.6,363.0 123.3,362.9 123.0,362.8 122.8,362.8 122.5,362.7 122.3,362.6 122.1,362.5 121.9,362.5 121.7,362.4 121.5,362.3 121.4,362.3"/>
<polygon fill="#ffc800" points="120.6,362.9 120.4,362.9 120.2,362.8 120.0,362.8 119.8,362.8 119.6,362.8 119.4,362.8 119.2,362.8 119.1,362.8 118.9,362.8 118.7,362.8 118.5,362.8 118.3,362.8 118.1,362.8 117.9,362.8 117.6,362.7 117.4,362.7 117.1,362.7 116.9,362.7 116.6,362.7 116.3,362.7 115.9,362.7 115.5,362.6 115.0,362.6 114.5,362.6 113.9,362.6 113.2,362.5 112.4,362.5 111.4,362.6 110.4,363.1 109.6,363.8 108.7,364.5 107.7,365.2 106.7,366.0 105.6,366.8 104.4,367.7 103.3,368.7 103.3,369.6 103.5,370.4 103.7,371.1 103.8,371.7 103.9,372.2 104.0,372.7 104.1,373.2 104.1,373.6 104.2,374.0 104.2,374.4 104.3,374.8 104.3,375.1 104.3,375.4 104.3,375.8 104.4,376.1 104.4,376.4 104.4,376.7 104.4,377.0 104.4,377.3 104.4,377.6 104.6,377.8 104.8,378.0 105.0,378.1 105.2,378.3 105.3,378.4 105.6,378.5 105.8,378.6 106.1,378.6 106.4,378.6 106.7,378.6 107.0,378.6 107.3,378.6 107.7,378.6 108.0,378.6 108.3,378.6 108.6,378.6 109.0,378.6 109.3,378.6 109.7,378.6 110.1,378.6 110.5,378.6 111.0,378.7 111.4,378.7 112.0,378.7 112.6,378.6 113.2,378.3 114.0,378.0 114.7,377.7 115.6,377.4 116.5,377.1 117.5,376.8 118.4,376.0 119.3,375.2 120.2,374.4 121.1,373.5 122.0,372.6 122.8,371.7 123.6,370.8 124.4,369.9 125.2,368.9 125.9,368.0 126.4,367.1 126.3,366.4 126.3,365.7 125.8,365.2 125.3,364.8 124.9,364.5 124.5,364.2 124.2,364.0 124.0,363.8 123.6,363.7 123.2,363.6 122.9,363.5 122.6,363.4 122.3,363.3 122.1,363.2 121.9,363.2 121.7,363.1 121.5,363.1 121.3,363.0 121.1,363.0 120.9,362.9 120.8,362.9"/>
<polygon fill="#ffb400" points="120.0,363.4 119.8,363.4 119.6,363.4 119.5,363.4 119.3,363.4 119.2,363.4 119.0,363.4 118.8,363.3 118.7,363.3 118.5,363.3 118.3,363.3 118.2,363.3 118.0,363.3 117.8,363.3 117.6,363.2 117.4,363.2 117.2,363.2 117.0,363.2 116.7,363.2 116.4,363.1 116.1,363.1 115.8,363.1 115.4,363.0 115.0,363.0 114.5,362.9 114.0,362.9 113.3,362.8 112.5,362.7 111.4,362.7 110.5,363.2 109.7,363.9 108.9,364.6 108.0,365.3 107.1,366.1 106.1,366.9 105.1,367.8 104.2,368.7 104.5,369.5 104.9,370.2 105.1,370.8 105.3,371.3 105.5,371.7 105.7,372.1 105.8,372.5 105.9,372.8 106.0,373.1 106.1,373.4 106.2,373.6 106.3,373.9 106.4,374.1 106.4,374.3 106.5,374.6 106.5,374.8 106.6,375.0 106.7,375.2 106.7,375.4 106.7,375.6 106.8,375.8 107.0,375.9 107.1,376.0 107.3,376.1 107.4,376.3 107.6,376.4 107.8,376.4 108.0,376.4 108.2,376.4 108.5,376.4 108.7,376.5 108.9,376.5 109.2,376.5 109.4,376.5 109.6,376.5 109.9,376.5 110.2,376.6 110.4,376.6 110.7,376.6 111.0,376.6 111.3,376.6 111.7,376.7 112.1,376.7 112.5,376.7 113.0,376.7 113.5,376.6 114.1,376.5 114.7,376.4 115.4,376.3 116.2,376.2 117.2,376.1 118.0,375.3 118.8,374.5 119.6,373.8 120.4,373.0 121.1,372.2 121.9,371.4 122.6,370.6 123.3,369.8 124.1,368.9 124.8,368.1 125.4,367.2 125.2,366.6 125.0,366.0 124.6,365.6 124.3,365.2 124.0,364.9 123.7,364.6 123.5,364.4 123.3,364.1 122.9,364.0 122.5,364.0 122.2,363.9 121.9,363.8 121.7,363.8 121.4,363.7 121.2,363.7 121.0,363.6 120.8,363.6 120.6,363.6 120.5,363.5 120.3,363.5 120.1,363.5"/>
<polygon fill="#ffa000" points="105.0,368.5 111.2,362.8 122.6,364.5 124.4,367.4 116.9,375.4 109.5,374.2"/>
<polygon fill="#ff9500" points="117.8,364.7 117.7,364.7 117.6,364.6 117.4,364.6 117.3,364.6 117.2,364.6 117.1,364.5 117.0,364.5 116.9,364.5 116.8,364.5 116.6,364.4 116.5,364.4 116.4,364.4 116.2,364.3 116.1,364.3 115.9,364.3 115.8,364.2 115.6,364.2 115.4,364.1 115.2,364.1 114.9,364.0 114.7,363.9 114.4,363.8 114.0,363.7 113.6,363.6 113.1,363.6 112.5,363.6 111.8,363.7 111.1,364.0 110.5,364.6 109.9,365.1 109.2,365.6 108.5,366.2 107.8,366.8 107.1,367.4 106.6,368.1 106.5,368.8 107.0,369.3 107.4,369.8 107.6,370.1 107.9,370.4 108.1,370.7 108.2,370.9 108.4,371.0 108.5,371.2 108.6,371.4 108.8,371.5 108.9,371.6 108.9,371.7 109.0,371.8 109.1,371.9 109.2,372.0 109.3,372.1 109.3,372.2 109.4,372.3 109.5,372.4 109.5,372.4 109.6,372.5 109.6,372.6 109.7,372.7 109.8,372.7 109.8,372.8 109.9,372.9 109.9,373.0 110.0,373.0 110.1,373.1 110.1,373.2 110.2,373.3 110.3,373.3 110.4,373.4 110.6,373.4 110.7,373.4 110.8,373.5 111.0,373.5 111.1,373.6 111.3,373.6 111.4,373.7 111.6,373.7 111.8,373.8 112.0,373.9 112.3,373.9 112.5,374.0 112.9,374.2 113.2,374.3 113.7,374.5 114.3,374.7 114.9,374.5 115.6,374.4 116.5,374.3 117.1,373.6 117.7,372.9 118.3,372.3 118.9,371.6 119.5,370.9 120.0,370.3 120.6,369.6 121.2,369.0 121.8,368.3 122.4,367.6 122.2,367.1 121.8,366.7 121.6,366.3 121.3,366.0 121.1,365.7 121.0,365.5 120.7,365.3 120.3,365.3 120.0,365.2 119.8,365.1 119.5,365.1 119.3,365.0 119.1,365.0 118.9,364.9 118.7,364.9 118.6,364.9 118.4,364.8 118.3,364.8 118.2,364.8 118.0,364.8 117.9,364.7"/>
<polygon fill="#e8582e" points="117.0,365.5 116.9,365.5 116.8,365.4 116.7,365.4 116.7,365.4 116.6,365.3 116.5,365.3 116.4,365.3 116.3,365.2 116.2,365.2 116.1,365.2 116.0,365.1 115.9,365.1 115.8,365.1 115.7,365.0 115.6,365.0 115.5,364.9 115.3,364.8 115.1,364.8 115.0,364.7 114.8,364.6 114.5,364.5 114.3,364.4 114.0,364.3 113.6,364.1 113.1,364.2 112.6,364.3 112.1,364.5 111.5,364.8 111.0,365.2 110.4,365.6 109.8,366.1 109.2,366.6 108.6,367.1 107.9,367.6 107.7,368.2 107.9,368.8 108.3,369.2 108.6,369.6 108.8,369.9 109.0,370.1 109.2,370.3 109.3,370.5 109.4,370.6 109.5,370.7 109.6,370.9 109.7,371.0 109.8,371.1 109.9,371.2 110.0,371.2 110.0,371.3 110.1,371.4 110.1,371.5 110.2,371.5 110.2,371.6 110.3,371.6 110.4,371.7 110.4,371.8 110.5,371.8 110.5,371.9 110.6,371.9 110.6,372.0 110.7,372.1 110.7,372.1 110.8,372.2 110.8,372.2 110.9,372.3 110.9,372.4 111.0,372.4 111.1,372.5 111.2,372.5 111.3,372.6 111.3,372.6 111.4,372.7 111.6,372.7 111.7,372.8 111.8,372.9 111.9,372.9 112.1,373.0 112.3,373.1 112.5,373.3 112.7,373.4 113.0,373.6 113.3,373.8 113.7,374.1 114.2,374.4 114.8,374.0 115.3,373.7 116.0,373.3 116.4,372.7 116.9,372.1 117.4,371.6 117.8,371.0 118.3,370.5 118.7,370.0 119.1,369.5 119.6,368.9 120.0,368.4 120.4,367.9 120.3,367.5 120.0,367.2 119.8,366.9 119.5,366.7 119.4,366.5 119.2,366.3 119.0,366.2 118.8,366.1 118.6,366.0 118.4,366.0 118.2,365.9 118.1,365.9 117.9,365.8 117.8,365.8 117.7,365.7 117.6,365.7 117.5,365.7 117.4,365.6 117.3,365.6 117.2,365.6 117.1,365.5"/>
<polygon fill="#c8323a" points="108.4,367.9 113.5,364.5 118.6,367.9 114.1,374.2"/>
<polygon fill="#a83236" points="115.9,366.6 115.9,366.6 115.8,366.5 115.8,366.5 115.7,366.5 115.7,366.4 115.6,366.4 115.6,366.4 115.6,366.4 115.5,366.3 115.5,366.3 115.4,366.3 115.4,366.2 115.3,366.2 115.2,366.1 115.2,366.1 115.1,366.0 115.0,366.0 114.9,365.9 114.8,365.8 114.7,365.7 114.5,365.6 114.3,365.5 114.1,365.4 113.9,365.3 113.5,365.2 113.2,365.4 112.8,365.6 112.5,365.8 112.1,366.1 111.6,366.3 111.2,366.6 110.7,366.9 110.2,367.3 109.6,367.6 109.4,368.1 109.8,368.5 110.1,368.9 110.3,369.1 110.5,369.3 110.6,369.5 110.7,369.6 110.8,369.7 110.9,369.8 111.0,369.9 111.1,370.0 111.2,370.1 111.2,370.1 111.3,370.2 111.3,370.2 111.4,370.3 111.4,370.3 111.5,370.4 111.5,370.4 111.5,370.5 111.6,370.5 111.6,370.6 111.7,370.6 111.7,370.6 111.7,370.7 111.8,370.7 111.8,370.8 111.8,370.8 111.9,370.8 111.9,370.9 111.9,370.9 112.0,371.0 112.0,371.0 112.1,371.1 112.1,371.1 112.2,371.2 112.2,371.2 112.3,371.3 112.3,371.3 112.4,371.4 112.5,371.5 112.5,371.6 112.6,371.7 112.7,371.8 112.8,371.9 113.0,372.0 113.1,372.2 113.3,372.4 113.6,372.7 114.0,373.1 114.4,372.9 114.7,372.4 115.1,371.9 115.4,371.5 115.7,371.1 116.0,370.7 116.3,370.3 116.6,370.0 116.9,369.6 117.1,369.3 117.4,369.0 117.6,368.6 117.8,368.3 117.9,368.0 117.6,367.8 117.4,367.7 117.2,367.5 117.1,367.4 116.9,367.3 116.8,367.2 116.7,367.2 116.6,367.1 116.6,367.1 116.5,367.0 116.4,367.0 116.4,366.9 116.3,366.9 116.3,366.8 116.2,366.8 116.2,366.8 116.1,366.7 116.1,366.7 116.0,366.7 116.0,366.7 115.9,366.6"/>
<polygon fill="#803c3c" points="115.6,366.9 115.6,366.9 115.5,366.8 115.5,366.8 115.5,366.8 115.4,366.8 115.4,366.7 115.4,366.7 115.3,366.7 115.3,366.6 115.2,366.6 115.2,366.6 115.1,366.5 115.1,366.5 115.0,366.5 115.0,366.4 114.9,366.4 114.8,366.3 114.8,366.3 114.7,366.2 114.6,366.1 114.4,366.0 114.3,365.9 114.1,365.8 113.9,365.8 113.6,365.8 113.3,365.9 113.0,366.1 112.7,366.3 112.4,366.5 112.0,366.7 111.6,366.9 111.2,367.2 110.7,367.5 110.1,367.8 110.2,368.2 110.5,368.5 110.8,368.8 111.0,369.0 111.1,369.2 111.3,369.3 111.4,369.4 111.4,369.5 111.5,369.6 111.6,369.7 111.6,369.7 111.7,369.8 111.7,369.8 111.8,369.9 111.8,369.9 111.9,370.0 111.9,370.0 111.9,370.0 112.0,370.1 112.0,370.1 112.0,370.1 112.1,370.2 112.1,370.2 112.1,370.2 112.2,370.3 112.2,370.3 112.2,370.3 112.2,370.4 112.3,370.4 112.3,370.4 112.3,370.5 112.4,370.5 112.4,370.5 112.4,370.6 112.5,370.6 112.5,370.6 112.6,370.7 112.6,370.7 112.6,370.8 112.7,370.8 112.7,370.9 112.8,371.0 112.9,371.0 113.0,371.1 113.1,371.2 113.2,371.3 113.3,371.5 113.5,371.7 113.7,371.9 113.9,372.2 114.3,372.1 114.6,371.7 114.9,371.4 115.2,371.0 115.4,370.7 115.7,370.4 116.0,370.1 116.2,369.8 116.5,369.5 116.7,369.2 117.0,368.9 117.2,368.6 117.3,368.4 117.2,368.1 117.0,367.9 116.8,367.8 116.7,367.7 116.6,367.6 116.5,367.5 116.4,367.5 116.3,367.4 116.2,367.3 116.1,367.3 116.1,367.3 116.0,367.2 116.0,367.2 115.9,367.1 115.9,367.1 115.9,367.1 115.8,367.1 115.8,367.0 115.7,367.0 115.7,367.0 115.7,366.9 115.6,366.9"/>
<polygon fill="#4a3c38" points="110.7,367.9 114.1,366.2 116.9,368.5 114.1,371.4"/>
<polygon fill="#1080c4" points="131.0,340.8 146.5,339.2 150.8,342.5 149.5,349.9 143.1,358.5 134.5,357.0 129.0,349.5"/>
<polygon fill="#00b4f4" points="143.8,340.6 146.5,339.8 150.3,342.7 149.2,348.5 146.2,353.0"/>
<polygon fill="#0a5ca0" points="131.5,341.5 141.0,341.0 144.3,355.5 142.8,357.5"/>
<line x1="34.4" y1="461.4" x2="220.7" y2="257.8" stroke="#a56be8" stroke-width="0.7" stroke-opacity="0.85"/>
<circle cx="102.6" cy="372.7" r="0.78" fill="#f03c58"/>
<circle cx="82.2" cy="394.4" r="0.78" fill="#f03c58"/>
<circle cx="99.4" cy="384.0" r="0.78" fill="#f03c58"/>
<circle cx="142.5" cy="338.6" r="0.78" fill="#f03c58"/>
<circle cx="101.2" cy="376.9" r="0.78" fill="#f03c58"/>
<circle cx="127.2" cy="355.0" r="0.78" fill="#f03c58"/>
<circle cx="118.7" cy="368.6" r="0.78" fill="#f03c58"/>
<circle cx="97.7" cy="386.7" r="0.78" fill="#f03c58"/>
<circle cx="80.7" cy="409.4" r="0.78" fill="#f03c58"/>
<circle cx="71.3" cy="412.0" r="0.78" fill="#f03c58"/>
<circle cx="101.3" cy="382.4" r="0.78" fill="#f03c58"/>
<circle cx="109.0" cy="380.2" r="0.78" fill="#f03c58"/>
<circle cx="101.7" cy="379.0" r="0.78" fill="#f03c58"/>
<circle cx="121.7" cy="364.9" r="0.78" fill="#f03c58"/>
<circle cx="101.2" cy="391.6" r="0.78" fill="#f03c58"/>
<circle cx="99.6" cy="394.2" r="0.78" fill="#f03c58"/>
<circle cx="71.9" cy="404.1" r="0.78" fill="#f03c58"/>
<circle cx="56.7" cy="421.0" r="0.78" fill="#f03c58"/>
<circle cx="111.6" cy="372.1" r="0.78" fill="#f03c58"/>
<circle cx="112.0" cy="367.2" r="0.78" fill="#f03c58"/>
<circle cx="126.1" cy="357.2" r="0.78" fill="#f03c58"/>
<circle cx="93.5" cy="391.8" r="0.78" fill="#f03c58"/>
<circle cx="83.9" cy="398.3" r="0.78" fill="#f03c58"/>
<circle cx="85.0" cy="391.2" r="0.78" fill="#f03c58"/>
<circle cx="68.6" cy="419.3" r="0.78" fill="#f03c58"/>
<circle cx="90.1" cy="403.2" r="0.78" fill="#f03c58"/>
<circle cx="149.5" cy="345.5" r="0.78" fill="#f03c58"/>
<circle cx="99.6" cy="385.2" r="0.78" fill="#f03c58"/>
<circle cx="143.3" cy="349.4" r="0.78" fill="#f03c58"/>
<circle cx="127.9" cy="358.0" r="0.78" fill="#f03c58"/>
<circle cx="102.6" cy="383.0" r="0.78" fill="#f03c58"/>
<circle cx="120.2" cy="367.9" r="0.78" fill="#f03c58"/>
<circle cx="101.4" cy="378.7" r="0.78" fill="#f03c58"/>
<circle cx="148.2" cy="346.7" r="0.78" fill="#f03c58"/>
<circle cx="132.7" cy="344.2" r="0.78" fill="#f03c58"/>
<circle cx="93.3" cy="387.1" r="0.78" fill="#f03c58"/>
<circle cx="90.0" cy="383.1" r="0.78" fill="#f03c58"/>
<circle cx="108.9" cy="374.3" r="0.78" fill="#f03c58"/>
<circle cx="99.9" cy="383.2" r="0.78" fill="#f03c58"/>
<circle cx="102.7" cy="384.0" r="0.78" fill="#f03c58"/>
<circle cx="151.3" cy="340.9" r="0.78" fill="#f03c58"/>
<circle cx="100.0" cy="380.0" r="0.78" fill="#f03c58"/>
<circle cx="100.2" cy="382.6" r="0.78" fill="#f03c58"/>
<circle cx="108.2" cy="368.6" r="0.78" fill="#f03c58"/>
<circle cx="95.8" cy="388.2" r="0.78" fill="#f03c58"/>
<circle cx="142.4" cy="336.8" r="0.78" fill="#f03c58"/>
<circle cx="77.5" cy="392.0" r="0.78" fill="#f03c58"/>
<circle cx="121.5" cy="363.7" r="0.78" fill="#f03c58"/>
<circle cx="79.1" cy="401.3" r="0.78" fill="#f03c58"/>
<circle cx="89.8" cy="397.9" r="0.78" fill="#f03c58"/>
<circle cx="78.8" cy="405.9" r="0.78" fill="#f03c58"/>
<circle cx="127.9" cy="356.5" r="0.78" fill="#f03c58"/>
<circle cx="72.5" cy="405.9" r="0.78" fill="#f03c58"/>
<circle cx="103.1" cy="374.4" r="0.78" fill="#f03c58"/>
<circle cx="129.1" cy="353.8" r="0.78" fill="#f03c58"/>
<circle cx="101.2" cy="381.1" r="0.78" fill="#f03c58"/>
<circle cx="78.9" cy="399.5" r="0.78" fill="#f03c58"/>
<circle cx="131.7" cy="349.4" r="0.78" fill="#f03c58"/>
<circle cx="99.8" cy="383.6" r="0.78" fill="#f03c58"/>
<circle cx="90.2" cy="396.2" r="0.78" fill="#f03c58"/>
<circle cx="98.0" cy="388.5" r="0.78" fill="#f03c58"/>
<circle cx="99.3" cy="391.2" r="0.78" fill="#f03c58"/>
<circle cx="111.0" cy="370.7" r="0.78" fill="#f03c58"/>
<circle cx="86.5" cy="407.8" r="0.78" fill="#f03c58"/>
<circle cx="100.9" cy="375.2" r="0.78" fill="#f03c58"/>
<circle cx="90.3" cy="394.3" r="0.78" fill="#f03c58"/>
<circle cx="90.6" cy="387.9" r="0.78" fill="#f03c58"/>
<circle cx="82.6" cy="394.1" r="0.78" fill="#f03c58"/>
<circle cx="95.3" cy="381.7" r="0.78" fill="#f03c58"/>
<circle cx="105.3" cy="378.0" r="0.78" fill="#f03c58"/>
<circle cx="75.5" cy="410.2" r="0.78" fill="#f03c58"/>
<circle cx="96.9" cy="381.6" r="0.78" fill="#f03c58"/>
<circle cx="110.9" cy="374.8" r="0.78" fill="#f03c58"/>
<circle cx="109.7" cy="366.9" r="0.78" fill="#f03c58"/>
<circle cx="102.1" cy="382.2" r="0.78" fill="#f03c58"/>
<circle cx="93.7" cy="383.9" r="0.78" fill="#f03c58"/>
<circle cx="117.5" cy="369.5" r="0.78" fill="#f03c58"/>
<circle cx="113.0" cy="371.6" r="0.78" fill="#f03c58"/>
<circle cx="85.3" cy="390.1" r="0.78" fill="#f03c58"/>
<circle cx="122.8" cy="363.1" r="0.78" fill="#f03c58"/>
<circle cx="104.3" cy="375.0" r="0.78" fill="#f03c58"/>
<circle cx="91.2" cy="391.4" r="0.78" fill="#f03c58"/>
<circle cx="122.5" cy="369.1" r="0.78" fill="#f03c58"/>
<circle cx="108.7" cy="369.3" r="0.78" fill="#f03c58"/>
<circle cx="117.9" cy="371.3" r="0.78" fill="#f03c58"/>
<circle cx="112.9" cy="373.8" r="0.78" fill="#f03c58"/>
<circle cx="114.1" cy="364.7" r="0.78" fill="#f03c58"/>
<circle cx="110.5" cy="375.6" r="0.78" fill="#f03c58"/>
<circle cx="89.6" cy="387.8" r="0.78" fill="#f03c58"/>
<circle cx="84.2" cy="395.1" r="0.78" fill="#f03c58"/>
<circle cx="115.2" cy="368.3" r="0.78" fill="#f03c58"/>
<circle cx="153.4" cy="339.4" r="0.78" fill="#f03c58"/>
<circle cx="55.4" cy="421.4" r="0.78" fill="#f03c58"/>
<circle cx="117.9" cy="365.8" r="0.78" fill="#f03c58"/>
<circle cx="108.0" cy="384.2" r="0.78" fill="#f03c58"/>
<circle cx="39.6" cy="413.5" r="0.78" fill="#f03c58"/>
<circle cx="159.0" cy="290.8" r="0.78" fill="#f03c58"/>
<circle cx="167.2" cy="308.7" r="0.78" fill="#f03c58"/>
<circle cx="143.9" cy="316.6" r="0.78" fill="#f03c58"/>
<circle cx="140.4" cy="320.0" r="0.78" fill="#f03c58"/>
<circle cx="203.0" cy="329.5" r="0.78" fill="#f03c58"/>
<circle cx="169.0" cy="344.5" r="0.78" fill="#f03c58"/>
<circle cx="175.6" cy="351.0" r="0.78" fill="#f03c58"/>
<circle cx="163.3" cy="346.4" r="0.78" fill="#f03c58"/>
<circle cx="152.6" cy="380.7" r="0.78" fill="#f03c58"/>
<circle cx="51.0" cy="424.0" r="0.78" fill="#f03c58"/>
<circle cx="52.5" cy="430.0" r="0.78" fill="#f03c58"/>
<circle cx="57.0" cy="428.0" r="0.78" fill="#f03c58"/>
</g>
<rect x="34.4" y="257.8" width="186.29999999999998" height="203.59999999999997" fill="none" stroke="#86949a" stroke-width="0.75"/>
<text x="209.6" y="287.2" font-size="7.6" font-style="italic" text-anchor="middle" transform="rotate(-47.8 209.6 287.2)">y = x</text>
<text x="47.0" y="470.3" text-anchor="middle">−20</text>
<text x="31.9" y="451.4" text-anchor="end">−20</text>
<line x1="47.0" y1="462.0" x2="47.0" y2="460.2" stroke="#7d8a90" stroke-width="0.5"/>
<line x1="33.8" y1="448.6" x2="35.6" y2="448.6" stroke="#7d8a90" stroke-width="0.5"/>
<text x="88.2" y="470.3" text-anchor="middle">−10</text>
<text x="31.9" y="406.0" text-anchor="end">−10</text>
<line x1="88.2" y1="462.0" x2="88.2" y2="460.2" stroke="#7d8a90" stroke-width="0.5"/>
<line x1="33.8" y1="403.2" x2="35.6" y2="403.2" stroke="#7d8a90" stroke-width="0.5"/>
<text x="129.5" y="470.3" text-anchor="middle">0</text>
<text x="31.9" y="360.6" text-anchor="end">0</text>
<line x1="129.5" y1="462.0" x2="129.5" y2="460.2" stroke="#7d8a90" stroke-width="0.5"/>
<line x1="33.8" y1="357.8" x2="35.6" y2="357.8" stroke="#7d8a90" stroke-width="0.5"/>
<text x="170.8" y="470.3" text-anchor="middle">10</text>
<text x="31.9" y="315.1" text-anchor="end">10</text>
<line x1="170.8" y1="462.0" x2="170.8" y2="460.2" stroke="#7d8a90" stroke-width="0.5"/>
<line x1="33.8" y1="312.3" x2="35.6" y2="312.3" stroke="#7d8a90" stroke-width="0.5"/>
<text x="212.0" y="470.3" text-anchor="middle">20</text>
<text x="31.9" y="269.7" text-anchor="end">20</text>
<line x1="212.0" y1="462.0" x2="212.0" y2="460.2" stroke="#7d8a90" stroke-width="0.5"/>
<line x1="33.8" y1="266.9" x2="35.6" y2="266.9" stroke="#7d8a90" stroke-width="0.5"/>
<line x1="67.6" y1="461.4" x2="67.6" y2="460.5" stroke="#7d8a90" stroke-width="0.4"/>
<line x1="34.4" y1="425.9" x2="35.3" y2="425.9" stroke="#7d8a90" stroke-width="0.4"/>
<line x1="108.9" y1="461.4" x2="108.9" y2="460.5" stroke="#7d8a90" stroke-width="0.4"/>
<line x1="34.4" y1="380.5" x2="35.3" y2="380.5" stroke="#7d8a90" stroke-width="0.4"/>
<line x1="150.1" y1="461.4" x2="150.1" y2="460.5" stroke="#7d8a90" stroke-width="0.4"/>
<line x1="34.4" y1="335.0" x2="35.3" y2="335.0" stroke="#7d8a90" stroke-width="0.4"/>
<line x1="191.4" y1="461.4" x2="191.4" y2="460.5" stroke="#7d8a90" stroke-width="0.4"/>
<line x1="34.4" y1="289.6" x2="35.3" y2="289.6" stroke="#7d8a90" stroke-width="0.4"/>
<text x="127.5" y="476.6" text-anchor="middle">true / mm</text>
<text x="15.4" y="360.6" text-anchor="middle" font-size="8.5" transform="rotate(-90 15.4 360.6)">interpolation (RF) / mm</text>
<rect x="229" y="453.28" width="21" height="5.22" fill="#eef6fb"/>
<rect x="229" y="448.35" width="21" height="5.22" fill="#d3e0dc"/>
<rect x="229" y="443.43" width="21" height="5.22" fill="#cde0f1"/>
<rect x="229" y="438.51" width="21" height="5.22" fill="#eed5eb"/>
<rect x="229" y="433.59" width="21" height="5.22" fill="#f6c6e0"/>
<rect x="229" y="428.66" width="21" height="5.22" fill="#f8a8d0"/>
<rect x="229" y="423.74" width="21" height="5.22" fill="#fa6cb8"/>
<rect x="229" y="418.82" width="21" height="5.22" fill="#b878b0"/>
<rect x="229" y="413.90" width="21" height="5.22" fill="#9c8cdc"/>
<rect x="229" y="408.97" width="21" height="5.22" fill="#7484bc"/>
<rect x="229" y="404.05" width="21" height="5.22" fill="#7a70b0"/>
<rect x="229" y="399.13" width="21" height="5.22" fill="#5c4c94"/>
<rect x="229" y="394.21" width="21" height="5.22" fill="#3c44a4"/>
<rect x="229" y="389.28" width="21" height="5.22" fill="#1038c8"/>
<rect x="229" y="384.36" width="21" height="5.22" fill="#0a5c9c"/>
<rect x="229" y="379.44" width="21" height="5.22" fill="#00f080"/>
<rect x="229" y="374.52" width="21" height="5.22" fill="#00b4f4"/>
<rect x="229" y="369.59" width="21" height="5.22" fill="#1080c4"/>
<rect x="229" y="364.67" width="21" height="5.22" fill="#0a5ca0"/>
<rect x="229" y="359.75" width="21" height="5.22" fill="#0a4c7c"/>
<rect x="229" y="354.83" width="21" height="5.22" fill="#0a5868"/>
<rect x="229" y="349.90" width="21" height="5.22" fill="#006058"/>
<rect x="229" y="344.98" width="21" height="5.22" fill="#00604c"/>
<rect x="229" y="340.06" width="21" height="5.22" fill="#a8e8b8"/>
<rect x="229" y="335.14" width="21" height="5.22" fill="#8fd8a4"/>
<rect x="229" y="330.21" width="21" height="5.22" fill="#7ab47c"/>
<rect x="229" y="325.29" width="21" height="5.22" fill="#c0d820"/>
<rect x="229" y="320.37" width="21" height="5.22" fill="#ffee00"/>
<rect x="229" y="315.45" width="21" height="5.22" fill="#ffdc00"/>
<rect x="229" y="310.52" width="21" height="5.22" fill="#ffc800"/>
<rect x="229" y="305.60" width="21" height="5.22" fill="#ffb400"/>
<rect x="229" y="300.68" width="21" height="5.22" fill="#ffa000"/>
<rect x="229" y="295.76" width="21" height="5.22" fill="#ff9500"/>
<rect x="229" y="290.83" width="21" height="5.22" fill="#e8582e"/>
<rect x="229" y="285.91" width="21" height="5.22" fill="#c8323a"/>
<rect x="229" y="280.99" width="21" height="5.22" fill="#a83236"/>
<rect x="229" y="276.07" width="21" height="5.22" fill="#803c3c"/>
<rect x="229" y="271.14" width="21" height="5.22" fill="#4a3c38"/>
<rect x="229" y="266.22" width="21" height="5.22" fill="#52281e"/>
<rect x="229" y="261.30" width="21" height="5.22" fill="#5c2a1c"/>
<rect x="229" y="261.3" width="21" height="196.89999999999998" fill="none" stroke="#6a6a6a" stroke-width="0.8"/>
<text x="239.5" y="257.0" text-anchor="middle">density</text>
<line x1="250" y1="457.9" x2="251.5" y2="457.9" stroke="#6a6a6a" stroke-width="0.5"/>
<text x="255.0" y="460.7">0</text>
<line x1="250" y1="429.3" x2="251.5" y2="429.3" stroke="#6a6a6a" stroke-width="0.5"/>
<text x="255.0" y="432.1">0.001</text>
<line x1="250" y1="400.7" x2="251.5" y2="400.7" stroke="#6a6a6a" stroke-width="0.5"/>
<text x="255.0" y="403.5">0.002</text>
<line x1="250" y1="372.1" x2="251.5" y2="372.1" stroke="#6a6a6a" stroke-width="0.5"/>
<text x="255.0" y="374.9">0.003</text>
<line x1="250" y1="343.5" x2="251.5" y2="343.5" stroke="#6a6a6a" stroke-width="0.5"/>
<text x="255.0" y="346.3">0.004</text>
<line x1="250" y1="314.9" x2="251.5" y2="314.9" stroke="#6a6a6a" stroke-width="0.5"/>
<text x="255.0" y="317.7">0.005</text>
<line x1="250" y1="286.3" x2="251.5" y2="286.3" stroke="#6a6a6a" stroke-width="0.5"/>
<text x="255.0" y="289.1">0.006</text>
<clipPath id="c3"><rect x="306" y="257.8" width="186.7" height="203.59999999999997"/></clipPath>
<rect x="306" y="257.8" width="186.7" height="203.59999999999997" fill="#e6f2fa"/>
<g clip-path="url(#c3)">
<polygon fill="#d3e0dc" points="300.0,352.0 307.8,350.5 313.3,334.0 324.2,317.6 328.8,301.2 336.1,291.2 352.5,288.4 369.0,302.1 386.3,299.4 395.0,287.0 402.1,274.6 413.1,260.0 418.0,257.0 424.0,261.0 430.5,267.3 435.5,272.0 441.3,279.0 444.4,287.0 446.2,296.5 460.5,316.6 462.3,333.0 461.4,340.0 462.3,363.7 473.3,372.8 487.0,382.9 482.4,389.3 467.8,392.9 447.7,394.7 442.3,403.9 440.0,412.0 434.5,420.5 425.5,429.5 409.1,438.6 394.5,449.5 384.5,461.4 384.0,470.0 300.0,470.0"/>
<polygon fill="#cde0f1" points="300.0,372.0 308.0,371.0 311.5,360.0 320.6,335.9 331.5,323.1 337.0,311.2 342.5,302.1 353.4,299.4 362.6,307.6 369.0,313.1 386.3,308.5 393.0,301.1 407.6,293.8 416.7,292.8 431.3,302.0 444.1,309.3 453.2,323.9 455.0,336.6 453.2,348.0 451.4,358.2 445.9,376.5 440.0,387.0 435.6,393.7 428.4,409.7 416.4,425.9 400.0,438.6 385.5,449.5 363.6,455.9 340.0,457.7 326.4,452.0 313.6,444.0 307.5,436.0 300.0,434.0"/>
<polygon fill="#eed5eb" points="313.3,405.6 316.9,381.9 328.0,360.0 337.5,343.5 344.5,327.0 350.8,316.5 355.3,315.8 366.2,324.9 379.0,323.1 389.9,317.6 393.0,311.1 407.6,304.7 420.4,303.8 435.0,309.3 445.9,318.4 448.7,333.0 446.5,345.0 445.0,358.2 438.6,378.3 432.7,385.0 429.8,389.4 422.5,402.5 410.5,416.5 400.0,427.7 383.6,438.6 363.6,445.0 340.0,446.8 324.2,441.0 313.3,424.0"/>
<polygon fill="#f6c6e0" points="438.8,321.9 436.6,320.1 434.3,318.3 432.0,316.6 429.6,315.0 426.9,313.8 424.0,312.8 420.9,312.2 417.8,311.6 414.5,311.5 411.1,311.7 407.5,312.3 403.9,313.3 400.1,315.0 396.5,316.7 393.0,318.4 389.2,323.2 386.0,325.3 383.0,327.2 380.0,329.0 377.1,330.1 374.1,330.8 371.1,331.6 367.8,332.1 363.5,329.9 358.7,328.5 355.3,330.8 352.5,334.2 349.9,337.6 347.5,341.1 345.2,344.5 343.1,347.9 340.8,351.0 338.5,354.0 336.2,357.0 334.1,360.1 332.1,363.3 330.1,366.4 328.1,369.6 326.2,372.7 324.3,376.0 322.3,379.3 320.5,382.6 319.8,385.9 319.5,389.2 319.1,392.3 318.8,395.5 318.5,398.6 318.2,401.8 317.9,404.9 317.9,407.9 317.8,411.0 317.8,414.1 318.3,417.0 318.7,419.9 319.9,422.4 321.2,424.7 322.5,427.1 323.9,429.4 325.2,431.8 326.5,434.2 328.5,436.0 331.1,437.1 333.8,438.0 336.4,439.0 339.0,439.9 341.5,440.9 344.3,441.6 347.2,441.8 350.3,441.8 353.4,441.6 356.5,441.3 359.5,441.1 362.5,440.8 365.6,440.4 368.8,439.7 371.9,439.0 375.1,438.1 378.3,437.0 381.4,435.9 384.6,434.5 387.8,432.8 390.8,430.8 393.8,428.6 396.7,426.4 399.5,424.1 402.1,421.4 404.7,418.9 407.2,416.4 409.5,413.7 411.7,411.0 413.9,408.4 416.1,405.8 418.2,403.1 420.3,400.5 421.8,397.6 423.3,394.7 424.8,391.9 426.3,389.1 428.0,386.3 430.0,383.6 432.4,380.7 434.7,377.7 435.7,374.7 436.7,371.7 437.8,368.6 438.8,365.5 439.9,362.3 440.9,359.1 441.6,355.9 442.3,352.7 442.6,349.5 442.8,346.3 443.3,343.0 443.7,339.5 444.1,335.9 443.4,332.9 442.5,330.1 441.5,327.2 440.6,324.2"/>
<polygon fill="#f8a8d0" points="436.2,324.5 434.1,322.8 431.8,321.2 429.6,319.6 427.2,318.1 424.8,316.8 422.0,315.9 418.9,315.6 415.8,315.3 412.6,315.3 409.4,315.5 406.0,316.3 402.4,317.6 398.9,319.2 395.5,320.8 392.2,322.5 388.7,326.3 385.7,328.4 382.8,330.4 380.1,332.3 377.4,333.5 374.6,334.4 371.8,335.3 368.9,336.0 365.3,335.2 361.5,334.9 358.4,336.8 355.7,339.4 353.1,342.0 350.5,344.7 348.1,347.5 345.9,350.3 343.5,353.0 341.2,355.7 338.8,358.4 336.7,361.2 334.6,364.1 332.5,367.1 330.4,370.0 328.4,373.0 326.5,376.1 324.4,379.3 322.4,382.5 321.6,385.8 321.4,388.9 321.1,391.9 320.9,395.0 320.7,398.0 320.5,401.0 320.3,403.9 320.2,406.9 320.2,409.9 320.1,412.9 320.8,415.5 321.5,418.2 322.6,420.5 323.8,422.8 325.0,425.1 326.2,427.4 327.4,429.8 328.6,432.1 330.8,433.6 333.3,434.6 335.9,435.5 338.3,436.4 340.8,437.3 343.3,438.2 345.8,438.9 348.5,439.4 351.4,439.6 354.4,439.4 357.3,439.1 360.3,438.9 363.2,438.6 366.2,438.3 369.2,437.7 372.2,437.2 375.2,436.4 378.3,435.3 381.4,434.1 384.5,432.8 387.6,431.3 390.6,429.5 393.4,427.2 396.2,424.9 398.9,422.6 401.4,420.1 403.9,417.7 406.4,415.3 408.6,412.7 410.7,410.0 412.8,407.5 414.9,404.9 417.0,402.4 418.9,399.8 420.4,397.0 421.8,394.2 423.2,391.5 424.7,388.8 426.1,386.1 428.1,383.4 430.4,380.7 432.6,377.8 433.6,374.9 434.6,372.0 435.6,369.0 436.7,366.0 437.7,363.0 438.8,359.8 439.7,356.7 440.5,353.5 440.7,350.5 440.9,347.4 441.2,344.2 441.5,340.9 441.8,337.5 441.1,334.7 440.0,332.1 438.9,329.5 437.8,326.8"/>
<polygon fill="#fa6cb8" points="434.4,326.3 432.4,324.6 430.1,323.2 427.9,321.7 425.6,320.3 423.3,318.9 420.6,318.1 417.5,318.0 414.4,317.9 411.3,318.0 408.2,318.1 404.9,319.0 401.4,320.5 398.0,322.1 394.8,323.6 391.6,325.4 388.4,328.4 385.5,330.6 382.8,332.6 380.1,334.5 377.5,335.9 374.9,336.8 372.3,337.8 369.6,338.7 366.5,338.9 363.3,339.3 360.6,341.0 357.9,343.0 355.3,345.1 352.7,347.2 350.2,349.5 347.9,352.0 345.5,354.4 343.0,356.8 340.5,359.3 338.4,362.0 336.3,364.7 334.2,367.5 332.0,370.3 330.0,373.3 328.0,376.2 325.9,379.3 323.8,382.5 322.9,385.6 322.7,388.7 322.5,391.7 322.4,394.6 322.2,397.5 322.1,400.4 321.9,403.3 321.9,406.2 321.8,409.1 321.7,412.0 322.6,414.5 323.4,416.9 324.5,419.2 325.6,421.5 326.7,423.7 327.8,426.0 328.9,428.3 330.0,430.7 332.4,431.9 334.8,432.8 337.3,433.7 339.7,434.6 342.1,435.4 344.5,436.3 346.9,437.1 349.4,437.8 352.1,438.0 355.1,437.8 357.9,437.6 360.8,437.3 363.7,437.0 366.5,436.7 369.5,436.3 372.4,435.9 375.4,435.3 378.4,434.1 381.4,432.9 384.4,431.7 387.4,430.3 390.4,428.5 393.1,426.2 395.8,423.9 398.4,421.6 401.0,419.2 403.4,416.9 405.8,414.6 408.0,412.0 410.1,409.4 412.1,406.8 414.1,404.3 416.1,401.8 418.0,399.3 419.4,396.5 420.8,393.8 422.1,391.2 423.5,388.5 424.9,385.9 426.8,383.3 429.0,380.7 431.1,377.9 432.1,375.0 433.1,372.2 434.1,369.3 435.2,366.4 436.3,363.4 437.3,360.4 438.3,357.2 439.3,354.0 439.4,351.1 439.6,348.1 439.8,345.0 440.0,341.9 440.2,338.6 439.4,335.9 438.2,333.5 437.0,331.1 435.8,328.6"/>
<polygon fill="#b878b0" points="324.2,383.7 333.4,370.9 342.5,360.0 353.4,350.5 366.2,343.2 379.0,337.7 392.0,327.5 405.8,320.8 420.4,320.2 432.2,327.5 438.6,338.5 438.0,355.0 429.5,378.3 424.0,385.0 416.7,399.5 405.1,414.1 389.1,428.6 374.5,434.5 360.0,435.9 351.6,436.6 331.5,429.3 323.3,411.1"/>
<polygon fill="#9c8cdc" points="430.9,329.1 428.8,327.7 426.6,326.3 424.5,325.0 422.3,323.8 420.0,322.7 417.2,322.3 414.1,322.4 411.2,322.5 408.3,322.6 405.4,322.8 402.1,324.1 398.9,325.5 395.8,326.9 392.9,328.4 389.8,330.6 387.0,332.8 384.4,334.7 381.8,336.6 379.4,338.4 377.1,339.6 374.7,340.7 372.3,341.7 369.9,342.8 367.5,343.9 365.1,345.1 362.6,346.5 360.1,347.9 357.6,349.3 355.0,350.8 352.6,352.7 350.2,354.7 347.8,356.7 345.4,358.8 343.0,361.0 340.9,363.4 338.8,365.9 336.6,368.4 334.4,371.0 332.4,373.7 330.4,376.5 328.3,379.4 326.1,382.4 325.2,385.4 325.1,388.2 325.0,391.0 324.9,393.8 324.9,396.5 324.8,399.2 324.7,401.9 324.6,404.7 324.5,407.4 324.6,410.1 325.4,412.3 326.4,414.5 327.4,416.7 328.4,418.8 329.3,421.0 330.3,423.2 331.4,425.3 332.7,427.4 334.8,428.5 337.1,429.4 339.3,430.3 341.5,431.1 343.8,432.0 346.0,432.9 348.2,433.7 350.5,434.3 353.0,434.7 355.8,434.4 358.5,434.2 361.2,434.0 363.9,433.8 366.6,433.5 369.3,433.3 372.1,433.0 374.9,432.6 377.7,431.5 380.6,430.4 383.5,429.4 386.4,428.3 389.3,426.8 391.9,424.4 394.4,422.1 396.9,419.8 399.4,417.6 401.8,415.4 404.1,413.3 406.2,410.8 408.2,408.3 410.1,405.8 412.1,403.4 414.0,401.0 415.8,398.6 417.2,395.9 418.5,393.4 419.9,390.8 421.2,388.3 422.5,385.7 424.2,383.2 426.3,380.7 428.3,378.0 429.4,375.3 430.4,372.5 431.5,369.8 432.6,366.9 433.7,364.0 434.8,361.0 435.9,357.9 436.6,354.9 436.7,352.1 436.7,349.3 436.8,346.4 436.8,343.5 436.9,340.4 436.0,337.9 434.9,335.6 433.7,333.4 432.3,331.2"/>
<polygon fill="#7484bc" points="429.5,330.6 427.4,329.2 425.3,327.8 423.3,326.5 421.1,325.4 418.6,324.6 415.9,324.3 413.0,324.4 410.1,324.4 407.3,324.5 404.5,324.8 401.4,325.9 398.3,327.2 395.4,328.3 392.5,330.0 389.5,332.3 386.8,334.3 384.2,336.1 381.8,337.8 379.4,339.5 377.1,340.7 374.8,341.8 372.5,342.8 370.2,343.9 367.9,344.9 365.5,346.2 363.1,347.5 360.7,348.8 358.2,350.2 355.7,351.7 353.4,353.5 351.0,355.3 348.6,357.3 346.3,359.3 344.0,361.5 341.9,363.8 339.7,366.2 337.6,368.6 335.4,371.2 333.4,373.8 331.4,376.6 329.3,379.4 327.1,382.3 326.3,385.3 326.2,388.1 326.1,390.8 326.0,393.5 325.9,396.2 325.9,398.9 325.8,401.5 325.7,404.2 325.6,406.9 325.8,409.4 326.7,411.6 327.7,413.7 328.6,415.8 329.5,418.0 330.5,420.1 331.4,422.2 332.7,424.2 334.1,425.9 336.1,427.1 338.3,428.0 340.5,428.9 342.6,429.7 344.7,430.6 346.8,431.5 349.0,432.4 351.4,432.7 353.9,432.8 356.7,432.5 359.3,432.3 361.9,432.1 364.5,431.9 367.0,431.8 369.7,431.6 372.3,431.2 375.0,430.8 377.8,429.8 380.6,428.9 383.4,427.9 386.2,426.9 389.0,425.3 391.5,423.0 394.0,420.8 396.4,418.6 398.8,416.5 401.1,414.4 403.4,412.3 405.4,409.9 407.4,407.5 409.2,405.1 411.1,402.7 412.9,400.4 414.7,398.0 416.2,395.5 417.5,393.0 418.8,390.5 420.1,388.0 421.4,385.6 423.1,383.2 425.0,380.6 426.9,378.0 428.1,375.4 429.2,372.7 430.3,370.0 431.3,367.2 432.5,364.4 433.6,361.4 434.8,358.4 435.2,355.5 435.2,352.8 435.2,350.1 435.2,347.3 435.2,344.5 435.1,341.6 434.4,339.1 433.6,336.7 432.3,334.5 431.0,332.5"/>
<polygon fill="#7a70b0" points="428.0,332.0 426.0,330.6 424.0,329.3 422.0,328.0 419.8,327.0 417.3,326.5 414.6,326.3 411.8,326.3 409.1,326.4 406.4,326.4 403.6,326.8 400.6,327.8 397.8,328.8 395.0,329.8 392.1,331.5 389.2,334.0 386.6,335.8 384.1,337.4 381.7,339.0 379.4,340.5 377.2,341.7 375.0,342.9 372.8,343.9 370.5,345.0 368.2,346.0 365.9,347.2 363.6,348.4 361.2,349.7 358.8,351.0 356.5,352.6 354.2,354.2 351.8,356.0 349.5,357.9 347.1,359.8 344.9,362.0 342.8,364.2 340.7,366.5 338.5,368.9 336.3,371.4 334.3,374.0 332.4,376.6 330.3,379.4 328.1,382.3 327.4,385.1 327.3,387.9 327.2,390.6 327.1,393.3 327.0,395.9 326.9,398.5 326.8,401.1 326.7,403.7 326.6,406.3 327.1,408.7 328.0,410.9 328.9,412.9 329.8,415.0 330.7,417.1 331.6,419.2 332.6,421.2 333.9,423.0 335.5,424.5 337.5,425.6 339.6,426.5 341.6,427.4 343.7,428.3 345.7,429.2 347.7,430.1 349.8,431.0 352.3,431.1 354.9,431.0 357.5,430.5 360.1,430.3 362.5,430.2 365.0,430.1 367.5,430.0 370.0,429.8 372.6,429.4 375.2,428.9 377.9,428.1 380.6,427.3 383.3,426.4 386.0,425.6 388.7,423.9 391.2,421.7 393.6,419.5 395.9,417.4 398.2,415.3 400.4,413.3 402.7,411.3 404.7,409.0 406.5,406.6 408.3,404.3 410.1,402.0 411.9,399.7 413.7,397.5 415.1,395.0 416.4,392.6 417.7,390.2 419.0,387.8 420.3,385.4 421.9,383.1 423.7,380.6 425.6,378.1 426.9,375.5 427.9,372.9 429.0,370.2 430.1,367.5 431.3,364.7 432.5,361.8 433.6,358.8 433.8,356.1 433.8,353.5 433.7,350.9 433.6,348.3 433.5,345.6 433.4,342.8 432.9,340.3 432.2,337.8 431.0,335.7 429.7,333.7"/>
<polygon fill="#5c4c94" points="426.6,333.4 424.7,332.1 422.7,330.8 420.8,329.5 418.6,328.7 416.0,328.4 413.3,328.3 410.6,328.3 408.0,328.3 405.4,328.4 402.7,328.8 399.9,329.6 397.2,330.5 394.5,331.3 391.7,333.1 388.8,335.6 386.3,337.3 384.0,338.8 381.7,340.2 379.5,341.6 377.3,342.8 375.1,343.9 373.0,345.0 370.8,346.0 368.6,347.1 366.4,348.2 364.1,349.4 361.8,350.6 359.5,351.9 357.2,353.4 354.9,355.0 352.7,356.7 350.3,358.5 348.0,360.4 345.9,362.5 343.8,364.6 341.6,366.8 339.4,369.1 337.2,371.5 335.3,374.1 333.3,376.7 331.3,379.4 329.2,382.2 328.5,385.0 328.4,387.7 328.3,390.4 328.2,393.0 328.1,395.5 328.0,398.1 327.9,400.6 327.8,403.2 327.7,405.8 328.3,408.1 329.2,410.1 330.1,412.2 331.0,414.2 331.9,416.2 332.8,418.2 333.7,420.3 335.1,421.9 336.9,423.1 338.8,424.2 340.8,425.1 342.8,426.0 344.7,426.9 346.7,427.8 348.6,428.7 350.6,429.6 353.2,429.5 355.8,429.1 358.4,428.6 360.8,428.4 363.2,428.4 365.5,428.3 367.9,428.3 370.3,428.1 372.9,427.6 375.4,427.1 378.0,426.4 380.6,425.7 383.2,425.0 385.9,424.3 388.4,422.5 390.8,420.3 393.1,418.2 395.4,416.2 397.6,414.2 399.8,412.2 401.9,410.2 403.9,408.1 405.7,405.8 407.4,403.5 409.2,401.3 410.9,399.1 412.6,396.9 414.1,394.6 415.4,392.3 416.6,389.9 417.9,387.6 419.2,385.3 420.8,383.0 422.5,380.6 424.2,378.2 425.6,375.6 426.7,373.1 427.8,370.5 428.9,367.8 430.1,365.1 431.3,362.2 432.4,359.3 432.4,356.7 432.3,354.3 432.1,351.8 432.0,349.2 431.8,346.6 431.7,344.0 431.3,341.5 430.8,338.9 429.7,336.8 428.4,334.9"/>
<polygon fill="#3c44a4" points="329.7,382.8 338.8,370.9 349.8,360.0 360.7,352.3 375.3,345.0 388.1,337.7 393.0,333.0 404.0,330.3 418.5,330.3 427.7,336.6 429.5,340.0 431.3,360.1 424.0,376.5 418.2,385.0 412.4,395.2 402.2,408.3 386.2,422.8 370.2,426.5 360.0,426.5 351.6,428.4 335.2,420.2 328.8,405.6"/>
<polygon fill="#1038c8" points="424.0,337.1 422.5,335.7 420.9,334.3 418.9,333.4 416.9,332.6 414.4,332.5 411.9,332.5 409.5,332.4 407.1,332.4 404.8,332.4 402.4,332.6 399.8,333.4 397.3,334.2 394.9,334.9 392.5,335.7 389.9,337.7 387.5,339.6 385.3,340.8 383.2,342.0 381.1,343.1 379.0,344.2 377.0,345.4 375.0,346.5 373.0,347.6 370.9,348.7 368.9,349.8 366.8,350.9 364.6,352.0 362.4,353.2 360.3,354.6 358.2,356.2 356.1,357.8 353.9,359.4 351.6,361.1 349.6,363.0 347.5,365.0 345.4,367.1 343.4,369.3 341.4,371.5 339.6,373.9 337.8,376.4 335.9,379.0 333.9,381.6 332.6,384.3 332.5,386.9 332.3,389.4 332.2,391.9 332.1,394.3 332.0,396.8 331.9,399.2 331.8,401.6 331.7,404.1 332.5,406.1 333.5,408.0 334.4,409.9 335.4,411.7 336.3,413.6 337.2,415.4 338.2,417.3 339.8,418.5 341.5,419.6 343.2,420.8 344.8,421.9 346.4,423.0 348.1,424.1 349.9,425.0 351.9,425.6 354.2,425.8 356.8,425.3 359.2,424.9 361.5,424.7 363.7,424.8 365.9,424.8 368.0,424.8 370.3,424.7 372.6,424.2 375.0,423.6 377.4,423.1 379.7,422.6 382.1,422.0 384.6,421.4 387.0,420.0 389.2,417.9 391.4,416.0 393.5,414.1 395.5,412.2 397.5,410.4 399.4,408.6 401.4,406.8 403.0,404.7 404.6,402.6 406.2,400.6 407.7,398.6 409.3,396.6 410.8,394.7 412.1,392.6 413.4,390.5 414.6,388.4 415.7,386.4 417.0,384.3 418.3,382.2 419.7,380.1 421.2,377.9 422.4,375.6 423.6,373.3 424.7,370.9 425.9,368.5 427.1,366.0 428.4,363.3 429.7,360.5 429.5,358.3 429.2,356.1 428.9,353.9 428.7,351.7 428.4,349.4 428.1,347.1 427.8,344.8 427.5,342.4 426.7,340.3 425.6,338.5"/>
<polygon fill="#0a5c9c" points="421.3,339.8 420.1,338.3 418.8,336.7 416.5,336.3 414.3,336.0 412.0,335.9 409.7,335.8 407.5,335.8 405.4,335.7 403.2,335.6 400.9,336.0 398.4,337.0 396.0,338.0 393.7,339.0 391.5,339.9 389.3,341.2 387.1,342.4 385.1,343.3 383.1,344.3 381.1,345.3 379.2,346.3 377.3,347.4 375.4,348.5 373.5,349.6 371.6,350.7 369.7,351.8 367.8,352.9 365.8,354.0 363.8,355.2 361.9,356.5 360.1,358.1 358.2,359.6 356.3,361.2 354.4,362.8 352.5,364.5 350.5,366.3 348.6,368.2 347.1,370.3 345.5,372.4 344.0,374.5 342.5,376.8 341.0,379.0 339.3,381.4 337.1,383.9 337.0,386.2 336.9,388.5 336.8,390.7 336.7,393.0 336.6,395.2 336.5,397.4 336.4,399.6 336.3,401.9 337.0,403.8 338.0,405.4 339.0,406.9 340.0,408.5 341.0,410.0 342.0,411.5 343.0,413.1 344.2,414.4 345.4,415.8 346.6,417.1 347.8,418.5 349.0,419.9 350.2,421.3 351.9,422.1 354.1,422.1 356.4,422.1 358.6,421.9 360.7,421.8 362.8,421.9 364.8,422.0 366.8,422.2 368.8,422.2 371.0,421.8 373.2,421.3 375.4,420.8 377.6,420.3 379.8,419.8 382.1,419.3 384.4,418.8 386.6,417.1 388.7,415.2 390.7,413.3 392.6,411.5 394.4,409.7 396.3,408.0 398.1,406.3 399.8,404.7 401.4,402.7 402.8,400.8 404.3,399.0 405.7,397.1 407.1,395.3 408.5,393.5 409.9,391.6 411.1,389.7 412.3,387.8 413.4,385.9 414.5,384.0 415.7,382.0 416.9,380.0 418.1,378.0 419.2,375.9 420.4,373.8 421.6,371.5 422.9,369.2 424.2,366.8 425.7,364.2 427.1,361.5 426.9,359.4 426.6,357.4 426.2,355.4 425.8,353.3 425.5,351.3 425.1,349.2 424.7,347.1 424.3,345.0 423.5,343.1 422.5,341.4"/>
<polygon fill="#00f080" points="338.8,383.7 340.0,383.2 350.0,368.2 363.2,356.6 379.9,346.6 401.4,336.7 418.1,337.5 423.0,345.0 426.4,361.6 419.7,373.2 413.1,384.8 409.5,390.8 399.3,403.9 384.7,417.7 368.7,421.4 360.0,420.6 351.6,421.1 337.9,402.0"/>
<polygon fill="#00b4f4" points="419.6,341.6 418.5,339.9 417.3,338.5 414.9,338.3 412.6,338.2 410.4,338.1 408.3,338.0 406.2,337.9 404.2,337.8 402.1,337.8 399.7,338.6 397.3,339.7 395.0,340.7 392.8,341.7 390.7,342.7 388.7,343.6 386.7,344.5 384.8,345.4 382.9,346.3 381.1,347.2 379.3,348.2 377.5,349.2 375.7,350.3 373.9,351.4 372.1,352.4 370.4,353.5 368.6,354.6 366.7,355.6 364.9,356.8 363.1,358.0 361.4,359.5 359.7,361.0 358.0,362.5 356.2,364.0 354.4,365.6 352.6,367.3 350.7,369.0 349.4,371.0 348.0,372.9 346.7,375.0 345.3,377.0 343.9,379.1 342.5,381.3 340.5,383.6 339.7,385.9 339.6,388.0 339.5,390.1 339.4,392.2 339.3,394.3 339.2,396.4 339.1,398.5 339.0,400.6 339.4,402.4 340.5,403.9 341.5,405.4 342.6,406.8 343.5,408.2 344.5,409.5 345.5,410.9 346.5,412.3 347.5,413.6 348.5,415.0 349.5,416.5 350.5,417.9 351.6,419.4 353.4,420.0 355.6,419.9 357.7,419.7 359.8,419.6 361.7,419.8 363.6,419.9 365.5,420.1 367.4,420.3 369.4,420.2 371.5,419.7 373.6,419.2 375.7,418.8 377.8,418.3 379.9,417.8 382.0,417.3 384.2,416.7 386.2,414.9 388.2,413.0 390.0,411.3 391.8,409.6 393.6,407.9 395.3,406.3 397.0,404.7 398.6,403.1 400.0,401.3 401.4,399.5 402.8,397.8 404.1,396.1 405.5,394.4 406.8,392.7 408.1,391.0 409.3,389.2 410.4,387.4 411.5,385.6 412.5,383.8 413.6,381.9 414.7,380.1 415.7,378.1 416.8,376.2 418.0,374.2 419.2,372.1 420.5,369.9 421.8,367.6 423.2,365.1 424.7,362.5 425.1,360.3 424.7,358.3 424.3,356.4 423.9,354.5 423.5,352.6 423.1,350.6 422.7,348.6 422.3,346.6 421.6,344.7 420.6,343.2"/>
<polygon fill="#1080c4" points="340.7,385.1 339.9,401.4 352.6,419.0 360.0,418.6 368.6,419.4 383.7,415.9 397.8,402.6 407.8,389.7 411.4,383.8 418.0,372.2 424.3,361.3 421.1,345.8 417.0,339.4 401.8,338.7 380.8,348.4 364.4,358.2 351.5,369.5 341.3,384.8"/>
<polygon fill="#0a5ca0" points="417.8,344.9 416.7,343.4 415.6,341.8 413.8,341.2 411.7,341.0 409.6,340.8 407.6,340.5 405.7,340.3 403.7,340.3 401.6,340.3 399.2,341.2 396.9,342.3 394.7,343.3 392.5,344.3 390.5,345.2 388.5,346.1 386.6,347.0 384.7,347.8 382.9,348.7 381.1,349.6 379.3,350.7 377.6,351.8 375.9,352.8 374.2,353.9 372.5,354.9 370.8,356.0 369.1,357.0 367.4,358.1 365.6,359.2 364.0,360.5 362.3,361.9 360.7,363.3 359.0,364.7 357.2,366.1 355.4,367.6 353.5,369.1 351.8,370.8 350.5,372.7 349.2,374.6 347.8,376.6 346.5,378.6 345.1,380.6 343.6,382.7 341.9,384.9 341.8,387.0 341.7,389.0 341.7,391.0 341.6,393.0 341.6,395.0 341.5,396.9 341.4,398.9 341.5,400.8 342.4,402.3 343.2,403.8 344.1,405.2 344.9,406.6 345.8,407.9 346.7,409.3 347.7,410.5 348.8,411.6 349.8,412.8 350.8,414.0 351.9,415.2 352.9,416.4 354.2,417.5 356.2,417.4 358.1,417.4 360.0,417.4 361.8,417.5 363.5,417.7 365.2,417.9 366.9,418.1 368.7,418.1 370.6,417.8 372.5,417.3 374.4,416.9 376.2,416.4 378.1,416.0 380.0,415.5 382.0,415.1 383.9,414.4 385.8,412.8 387.5,411.2 389.2,409.6 390.8,408.1 392.4,406.6 394.0,405.2 395.5,403.8 397.0,402.4 398.4,400.8 399.6,399.2 400.8,397.6 402.1,396.0 403.3,394.5 404.5,392.9 405.7,391.4 406.9,389.8 407.9,388.2 409.0,386.6 410.0,384.9 411.0,383.2 412.0,381.5 413.0,379.7 414.0,377.9 415.0,376.1 416.1,374.2 417.3,372.2 418.4,370.1 419.7,367.8 421.0,365.5 422.4,362.9 422.9,360.7 422.7,358.8 422.3,356.9 421.8,355.2 421.2,353.4 420.7,351.6 420.2,349.8 419.7,347.9 418.8,346.3"/>
<polygon fill="#0a4c7c" points="416.1,346.5 415.0,345.2 414.0,343.8 412.2,343.1 410.4,342.7 408.5,342.4 406.7,342.0 404.9,341.6 402.9,341.7 400.8,341.9 398.5,342.8 396.3,343.8 394.1,344.8 392.1,345.7 390.1,346.6 388.2,347.5 386.4,348.4 384.6,349.2 382.9,350.0 381.1,351.0 379.4,352.1 377.8,353.1 376.2,354.2 374.6,355.2 373.0,356.2 371.4,357.3 369.8,358.3 368.1,359.4 366.5,360.4 364.9,361.7 363.4,362.9 361.7,364.2 360.0,365.5 358.3,366.8 356.5,368.1 354.5,369.6 352.7,371.2 351.4,373.0 350.1,374.8 348.8,376.7 347.4,378.6 346.0,380.6 344.5,382.7 343.1,384.8 343.0,386.8 343.0,388.8 342.9,390.7 342.9,392.6 342.9,394.5 342.9,396.4 342.8,398.3 342.9,400.1 343.6,401.6 344.3,403.1 345.0,404.6 345.8,406.0 346.6,407.4 347.4,408.7 348.5,409.8 349.7,410.8 350.8,411.8 351.9,412.9 353.0,413.9 354.1,415.0 355.3,415.9 357.2,416.0 359.0,416.0 360.8,416.1 362.4,416.3 364.1,416.5 365.7,416.8 367.3,417.0 369.1,416.9 370.9,416.5 372.8,416.1 374.6,415.6 376.4,415.2 378.3,414.8 380.1,414.3 381.9,413.9 383.8,413.3 385.6,411.9 387.3,410.3 389.0,408.8 390.6,407.3 392.1,405.9 393.6,404.5 395.1,403.1 396.6,401.8 397.9,400.3 399.2,398.7 400.3,397.2 401.5,395.6 402.7,394.1 403.9,392.6 405.0,391.1 406.2,389.6 407.3,388.0 408.3,386.4 409.3,384.8 410.3,383.2 411.2,381.5 412.2,379.8 413.2,378.0 414.2,376.2 415.3,374.3 416.4,372.4 417.5,370.3 418.6,368.2 419.8,365.9 421.1,363.5 421.7,361.3 421.7,359.3 421.3,357.5 420.6,355.9 420.0,354.3 419.3,352.7 418.7,351.0 418.0,349.4 417.1,347.9"/>
<polygon fill="#0a5868" points="414.4,348.2 413.4,347.0 412.3,345.7 410.7,345.0 409.0,344.5 407.4,344.0 405.8,343.5 404.1,342.9 402.1,343.1 400.0,343.5 397.8,344.4 395.6,345.4 393.6,346.3 391.6,347.2 389.8,348.1 388.0,348.9 386.2,349.7 384.5,350.5 382.8,351.4 381.1,352.4 379.5,353.4 378.0,354.5 376.4,355.5 374.9,356.5 373.4,357.6 371.9,358.6 370.4,359.6 368.9,360.6 367.3,361.6 365.9,362.8 364.4,363.9 362.8,365.1 361.1,366.2 359.4,367.4 357.5,368.7 355.6,370.0 353.7,371.5 352.4,373.2 351.1,375.0 349.7,376.8 348.3,378.7 346.9,380.6 345.4,382.6 344.2,384.7 344.2,386.7 344.2,388.6 344.2,390.4 344.2,392.2 344.2,394.0 344.2,395.8 344.2,397.7 344.3,399.4 344.9,401.0 345.4,402.5 346.0,404.0 346.7,405.4 347.3,406.8 348.1,408.1 349.3,409.1 350.6,410.0 351.7,410.9 352.9,411.8 354.1,412.7 355.2,413.6 356.5,414.4 358.2,414.5 359.9,414.7 361.5,414.8 363.1,415.0 364.6,415.3 366.2,415.6 367.8,415.8 369.5,415.7 371.3,415.3 373.1,414.9 374.9,414.4 376.6,414.0 378.4,413.5 380.1,413.1 381.9,412.7 383.7,412.1 385.5,410.9 387.2,409.4 388.7,407.9 390.3,406.5 391.8,405.2 393.3,403.8 394.7,402.5 396.1,401.2 397.5,399.8 398.7,398.3 399.9,396.8 401.0,395.3 402.1,393.8 403.3,392.3 404.4,390.8 405.5,389.4 406.6,387.8 407.6,386.3 408.6,384.7 409.6,383.1 410.5,381.5 411.5,379.8 412.4,378.1 413.5,376.3 414.5,374.5 415.6,372.6 416.6,370.6 417.6,368.6 418.7,366.4 419.9,364.1 420.5,361.9 420.8,359.8 420.3,358.1 419.5,356.6 418.7,355.2 417.9,353.7 417.2,352.2 416.4,350.8 415.5,349.4"/>
<polygon fill="#006058" points="412.7,349.9 411.7,348.7 410.6,347.6 409.2,346.8 407.7,346.2 406.3,345.6 404.8,344.9 403.3,344.3 401.4,344.5 399.3,345.1 397.1,346.0 395.0,346.9 393.1,347.8 391.2,348.7 389.4,349.5 387.7,350.3 386.0,351.1 384.4,351.8 382.7,352.7 381.2,353.7 379.6,354.8 378.1,355.8 376.7,356.9 375.3,357.9 373.9,358.9 372.5,359.9 371.1,360.8 369.6,361.8 368.2,362.8 366.8,363.9 365.4,365.0 363.8,366.0 362.2,367.0 360.4,368.1 358.6,369.2 356.6,370.5 354.6,371.8 353.3,373.5 352.0,375.2 350.7,377.0 349.3,378.8 347.8,380.6 346.3,382.6 345.3,384.6 345.4,386.5 345.4,388.3 345.5,390.1 345.5,391.9 345.5,393.6 345.6,395.3 345.6,397.0 345.7,398.7 346.1,400.3 346.6,401.8 347.0,403.3 347.6,404.8 348.1,406.2 348.8,407.6 350.1,408.4 351.4,409.1 352.7,409.9 354.0,410.6 355.2,411.4 356.4,412.1 357.7,412.8 359.2,413.0 360.8,413.3 362.3,413.5 363.8,413.8 365.2,414.2 366.7,414.5 368.2,414.7 369.9,414.5 371.7,414.1 373.4,413.6 375.1,413.2 376.8,412.8 378.5,412.3 380.2,411.9 381.9,411.5 383.7,411.0 385.4,409.9 387.0,408.5 388.5,407.1 390.0,405.7 391.5,404.4 392.9,403.1 394.3,401.9 395.7,400.6 397.1,399.3 398.2,397.8 399.4,396.3 400.5,394.9 401.6,393.4 402.7,392.0 403.7,390.6 404.8,389.1 405.9,387.7 406.9,386.2 408.0,384.6 408.9,383.1 409.8,381.5 410.7,379.8 411.7,378.2 412.7,376.4 413.7,374.7 414.8,372.8 415.7,370.9 416.6,368.9 417.6,366.8 418.6,364.6 419.3,362.5 419.8,360.3 419.4,358.7 418.4,357.3 417.5,356.0 416.6,354.8 415.7,353.5 414.8,352.2 413.8,351.0"/>
<polygon fill="#00604c" points="411.1,351.5 410.0,350.5 408.9,349.5 407.7,348.7 406.4,347.9 405.2,347.2 403.9,346.4 402.6,345.6 400.6,345.9 398.5,346.7 396.4,347.6 394.4,348.5 392.5,349.4 390.8,350.2 389.0,351.0 387.4,351.7 385.8,352.4 384.2,353.2 382.7,354.0 381.2,355.1 379.7,356.2 378.3,357.2 377.0,358.2 375.6,359.2 374.3,360.2 373.0,361.1 371.7,362.1 370.4,363.1 369.1,364.0 367.8,365.0 366.4,366.0 364.9,366.9 363.2,367.8 361.5,368.8 359.6,369.8 357.7,370.9 355.6,372.2 354.3,373.8 353.0,375.4 351.6,377.1 350.2,378.8 348.7,380.7 347.2,382.6 346.5,384.5 346.5,386.3 346.6,388.1 346.7,389.8 346.8,391.5 346.9,393.1 347.0,394.8 347.0,396.4 347.1,398.0 347.4,399.6 347.7,401.1 348.0,402.7 348.4,404.2 348.9,405.6 349.5,407.0 350.9,407.7 352.3,408.3 353.7,408.9 355.0,409.5 356.3,410.1 357.6,410.7 358.8,411.3 360.3,411.6 361.7,411.9 363.1,412.2 364.4,412.6 365.8,413.0 367.2,413.4 368.6,413.6 370.3,413.3 372.0,412.8 373.7,412.4 375.3,412.0 377.0,411.5 378.6,411.1 380.2,410.7 381.9,410.3 383.6,409.8 385.2,408.9 386.8,407.6 388.3,406.2 389.7,404.9 391.2,403.7 392.5,402.4 393.9,401.2 395.3,400.0 396.6,398.8 397.8,397.3 398.9,395.9 399.9,394.5 401.0,393.1 402.1,391.7 403.1,390.3 404.2,388.9 405.2,387.5 406.3,386.0 407.3,384.5 408.2,383.0 409.1,381.5 410.0,379.9 410.9,378.2 411.9,376.6 412.9,374.8 413.9,373.0 414.7,371.2 415.6,369.3 416.4,367.3 417.4,365.2 418.1,363.0 418.8,360.9 418.4,359.3 417.3,358.1 416.2,356.9 415.2,355.8 414.2,354.7 413.2,353.6 412.1,352.5"/>
<polygon fill="#a8e8b8" points="347.5,383.2 356.6,372.4 368.2,366.6 383.2,354.9 401.4,346.6 418.2,360.5 413.1,373.2 406.4,384.8 396.4,398.1 384.7,408.3 368.7,412.6 360.0,409.7 350.0,406.4 348.9,402.0"/>
<polygon fill="#8fd8a4" points="408.6,353.6 407.6,352.8 406.6,351.9 405.5,351.1 404.5,350.2 403.4,349.4 402.4,348.5 400.9,348.2 399.0,348.8 396.9,349.7 395.1,350.5 393.3,351.3 391.6,352.1 390.0,352.8 388.5,353.5 387.0,354.1 385.6,354.8 384.2,355.4 382.8,356.2 381.4,357.2 380.1,358.1 378.9,359.1 377.7,360.0 376.5,360.8 375.3,361.7 374.1,362.6 372.9,363.4 371.7,364.3 370.6,365.1 369.4,366.0 368.1,366.9 366.7,367.7 365.2,368.5 363.6,369.4 361.9,370.3 360.1,371.3 358.1,372.4 356.5,373.7 355.3,375.2 354.0,376.8 352.7,378.4 351.3,380.1 349.9,381.9 348.8,383.7 348.8,385.4 348.9,387.1 349.0,388.7 349.1,390.3 349.3,391.8 349.4,393.3 349.5,394.8 349.6,396.3 349.8,397.9 349.9,399.4 350.0,400.9 350.3,402.4 350.8,403.8 351.4,405.1 352.7,405.7 354.1,406.3 355.4,406.9 356.7,407.4 357.9,408.0 359.2,408.4 360.5,408.8 361.7,409.2 363.0,409.6 364.3,410.0 365.5,410.4 366.8,410.8 368.1,411.1 369.6,411.2 371.2,410.7 372.8,410.3 374.4,409.9 375.9,409.5 377.5,409.1 379.0,408.7 380.6,408.3 382.1,407.9 383.7,407.4 385.2,406.5 386.7,405.2 388.1,404.0 389.4,402.8 390.8,401.7 392.1,400.5 393.4,399.4 394.7,398.3 395.9,397.1 396.9,395.7 398.0,394.4 399.0,393.0 400.0,391.7 401.0,390.5 402.0,389.2 403.0,387.8 404.0,386.5 405.1,385.2 406.0,383.8 406.9,382.3 407.7,380.9 408.6,379.4 409.5,377.8 410.5,376.2 411.4,374.6 412.4,372.9 413.1,371.2 413.8,369.4 414.5,367.6 415.3,365.6 416.1,363.6 416.9,361.4 416.4,360.0 415.2,359.0 414.0,358.0 412.9,357.1 411.8,356.2 410.7,355.3 409.7,354.5"/>
<polygon fill="#7ab47c" points="408.1,354.2 407.1,353.4 406.0,352.6 405.0,351.7 404.0,350.9 403.0,350.1 401.9,349.2 400.1,349.5 398.2,350.2 396.3,351.0 394.5,351.8 392.8,352.6 391.2,353.3 389.7,353.9 388.2,354.6 386.8,355.2 385.4,355.8 384.1,356.4 382.7,357.2 381.5,358.1 380.2,359.0 379.0,359.8 377.8,360.6 376.6,361.4 375.4,362.2 374.3,363.0 373.1,363.8 371.9,364.6 370.7,365.4 369.5,366.2 368.3,367.1 366.9,367.9 365.5,368.7 364.0,369.6 362.5,370.6 360.8,371.6 359.0,372.7 357.3,373.9 356.2,375.4 355.0,376.9 353.8,378.5 352.5,380.1 351.2,381.8 350.0,383.6 349.8,385.3 350.0,386.9 350.1,388.4 350.2,389.9 350.4,391.4 350.5,392.9 350.6,394.3 350.8,395.8 350.9,397.2 351.0,398.7 351.2,400.2 351.4,401.7 352.0,402.9 352.8,403.9 354.0,404.6 355.2,405.3 356.4,405.9 357.5,406.5 358.6,407.1 359.8,407.7 361.1,408.0 362.3,408.4 363.6,408.7 364.8,409.1 366.1,409.4 367.3,409.8 368.6,410.0 370.1,409.8 371.7,409.4 373.2,409.1 374.7,408.7 376.2,408.3 377.7,407.9 379.1,407.6 380.6,407.2 382.1,406.8 383.6,406.3 385.1,405.3 386.4,404.1 387.8,402.9 389.1,401.8 390.3,400.7 391.6,399.6 392.8,398.5 394.1,397.4 395.2,396.2 396.2,395.0 397.2,393.7 398.2,392.5 399.2,391.2 400.1,390.0 401.1,388.8 402.1,387.5 403.1,386.3 404.2,385.0 405.1,383.6 405.9,382.3 406.8,380.8 407.7,379.4 408.6,377.9 409.5,376.4 410.5,374.8 411.5,373.1 412.1,371.4 412.8,369.7 413.5,368.0 414.2,366.1 415.0,364.1 415.8,362.1 415.7,360.4 414.5,359.4 413.4,358.5 412.3,357.6 411.2,356.7 410.1,355.9 409.1,355.0"/>
<polygon fill="#c0d820" points="350.8,384.0 358.3,374.0 368.0,367.5 384.0,357.4 401.4,349.9 415.3,361.0 410.6,373.2 403.9,384.0 393.5,396.6 383.3,405.4 368.7,409.0 360.0,406.8 352.5,401.5"/>
<polygon fill="#ffee00" points="407.3,355.2 406.4,354.5 405.4,353.7 404.5,353.0 403.3,352.5 402.1,352.1 400.9,351.7 399.3,352.0 397.5,352.8 395.8,353.6 394.2,354.3 392.7,354.9 391.3,355.6 389.9,356.2 388.6,356.8 387.4,357.3 386.1,357.9 384.9,358.5 383.8,359.0 382.6,359.8 381.5,360.5 380.4,361.2 379.3,361.8 378.3,362.5 377.2,363.2 376.1,363.9 375.1,364.6 374.0,365.2 372.9,365.9 371.8,366.7 370.6,367.4 369.4,368.2 368.2,369.0 366.9,369.8 365.5,370.7 364.1,371.7 362.6,372.7 361.0,373.8 359.5,375.0 358.3,376.4 357.2,377.8 356.0,379.3 354.7,380.9 353.4,382.5 352.3,384.2 352.1,385.8 352.3,387.3 352.4,388.8 352.5,390.2 352.7,391.6 352.8,393.0 353.0,394.4 353.1,395.8 353.4,397.2 353.6,398.5 353.9,399.9 354.6,400.9 355.6,401.7 356.6,402.5 357.6,403.3 358.6,404.0 359.5,404.7 360.6,405.3 361.8,405.8 363.1,406.0 364.3,406.3 365.6,406.6 366.8,406.8 368.0,407.1 369.2,407.4 370.7,407.2 372.1,406.9 373.5,406.6 374.9,406.3 376.3,405.9 377.7,405.4 379.1,405.0 380.5,404.5 381.8,404.1 383.2,403.7 384.5,402.6 385.8,401.5 387.0,400.5 388.2,399.5 389.4,398.5 390.5,397.6 391.6,396.6 392.7,395.6 393.7,394.5 394.6,393.4 395.5,392.3 396.4,391.3 397.3,390.2 398.2,389.1 399.1,388.1 400.1,387.0 401.0,385.9 401.9,384.8 402.9,383.7 403.6,382.5 404.4,381.2 405.2,380.0 406.0,378.7 406.8,377.4 407.7,376.0 408.6,374.5 409.4,373.1 410.1,371.6 410.7,370.0 411.4,368.4 412.0,366.7 412.7,365.0 413.4,363.2 413.6,361.5 412.8,360.4 412.0,359.4 411.2,358.4 410.2,357.6 409.2,356.8 408.3,356.0"/>
<polygon fill="#ffdc00" points="407.0,355.6 406.1,354.8 405.1,354.1 404.2,353.3 402.9,353.1 401.4,353.1 400.0,353.1 398.4,353.5 396.6,354.4 395.0,355.1 393.5,355.8 392.1,356.5 390.7,357.1 389.4,357.7 388.2,358.3 387.1,358.9 385.9,359.4 384.8,360.0 383.7,360.6 382.6,361.2 381.6,361.9 380.6,362.5 379.6,363.2 378.6,363.8 377.6,364.4 376.7,365.1 375.7,365.7 374.7,366.3 373.6,367.0 372.6,367.6 371.5,368.3 370.4,369.0 369.3,369.8 368.1,370.6 366.9,371.4 365.5,372.3 364.1,373.2 362.6,374.2 361.2,375.4 360.0,376.6 358.8,378.0 357.6,379.4 356.3,380.8 355.0,382.4 353.8,384.0 353.2,385.6 353.4,387.1 353.5,388.5 353.7,389.8 353.8,391.2 353.9,392.6 354.0,393.9 354.3,395.2 354.6,396.4 355.0,397.7 355.3,398.9 356.0,399.9 356.9,400.7 357.8,401.5 358.7,402.2 359.6,403.0 360.5,403.7 361.6,404.2 362.8,404.5 364.1,404.7 365.3,405.0 366.5,405.2 367.7,405.4 368.8,405.6 370.0,405.8 371.3,405.7 372.7,405.5 374.0,405.3 375.3,405.1 376.7,404.5 378.0,404.0 379.3,403.5 380.6,402.9 381.9,402.4 383.2,401.9 384.4,401.0 385.6,400.0 386.7,399.1 387.9,398.2 388.9,397.3 390.0,396.4 391.0,395.4 392.0,394.5 393.0,393.5 393.8,392.5 394.7,391.5 395.6,390.5 396.4,389.5 397.3,388.6 398.2,387.6 399.0,386.6 399.9,385.6 400.9,384.5 401.7,383.4 402.5,382.3 403.2,381.1 403.9,380.0 404.7,378.7 405.5,377.5 406.3,376.2 407.2,374.8 408.0,373.4 408.7,372.0 409.5,370.4 410.2,368.9 410.8,367.3 411.3,365.7 412.0,363.9 412.3,362.3 411.8,361.1 411.3,359.9 410.8,358.7 409.8,357.9 408.8,357.1 407.9,356.4"/>
<polygon fill="#ffc800" points="406.6,355.9 405.7,355.2 404.8,354.4 403.9,353.7 402.4,353.7 400.7,354.1 399.1,354.5 397.5,355.1 395.8,355.9 394.2,356.7 392.8,357.4 391.4,358.1 390.2,358.7 389.0,359.3 387.8,359.8 386.7,360.4 385.7,361.0 384.6,361.5 383.6,362.1 382.7,362.7 381.7,363.3 380.8,363.9 379.9,364.5 379.0,365.1 378.1,365.7 377.2,366.3 376.3,366.8 375.3,367.4 374.4,368.0 373.4,368.6 372.5,369.3 371.5,369.9 370.4,370.6 369.3,371.3 368.2,372.1 367.0,372.9 365.7,373.7 364.3,374.7 362.9,375.7 361.6,376.8 360.5,378.1 359.3,379.4 358.0,380.8 356.6,382.2 355.2,383.8 354.4,385.4 354.5,386.8 354.6,388.1 354.8,389.5 354.9,390.8 355.0,392.1 355.1,393.4 355.4,394.6 355.8,395.7 356.3,396.8 356.7,397.9 357.4,398.8 358.2,399.6 359.0,400.4 359.8,401.2 360.6,402.0 361.4,402.7 362.6,403.0 363.8,403.3 365.0,403.4 366.2,403.6 367.4,403.8 368.5,403.9 369.6,404.1 370.8,404.3 372.0,404.2 373.2,404.1 374.5,404.0 375.7,403.9 377.0,403.2 378.3,402.6 379.6,401.9 380.8,401.3 382.0,400.8 383.2,400.2 384.3,399.3 385.4,398.5 386.5,397.6 387.5,396.8 388.5,396.0 389.5,395.2 390.4,394.3 391.4,393.4 392.2,392.5 393.1,391.6 393.9,390.7 394.7,389.8 395.5,388.9 396.4,388.0 397.2,387.1 398.0,386.1 398.9,385.2 399.8,384.2 400.6,383.2 401.3,382.1 402.0,381.1 402.7,379.9 403.5,378.8 404.2,377.6 405.0,376.4 405.8,375.1 406.7,373.7 407.4,372.4 408.2,370.9 409.0,369.4 409.5,367.9 410.0,366.3 410.6,364.7 410.9,363.1 410.8,361.7 410.6,360.3 410.3,359.0 409.4,358.2 408.5,357.5 407.5,356.7"/>
<polygon fill="#ffb400" points="406.3,356.3 405.4,355.5 404.5,354.8 403.7,354.0 401.9,354.4 400.0,355.2 398.2,355.9 396.5,356.6 394.9,357.5 393.5,358.2 392.1,359.0 390.8,359.6 389.6,360.2 388.5,360.8 387.5,361.4 386.4,361.9 385.5,362.5 384.5,363.1 383.6,363.6 382.7,364.2 381.8,364.8 381.0,365.3 380.1,365.8 379.3,366.4 378.5,366.9 377.7,367.4 376.8,368.0 376.0,368.5 375.2,369.1 374.3,369.6 373.4,370.2 372.5,370.8 371.5,371.4 370.5,372.1 369.5,372.8 368.4,373.5 367.2,374.3 365.9,375.1 364.6,376.0 363.3,377.1 362.1,378.2 360.9,379.4 359.6,380.7 358.2,382.1 356.7,383.6 355.5,385.2 355.6,386.5 355.7,387.8 355.9,389.1 356.0,390.3 356.1,391.6 356.2,392.8 356.5,394.0 357.1,395.0 357.6,396.0 358.2,396.9 358.8,397.8 359.5,398.6 360.2,399.4 360.9,400.2 361.6,400.9 362.4,401.6 363.6,401.8 364.8,402.0 366.0,402.1 367.2,402.2 368.3,402.4 369.4,402.5 370.5,402.6 371.5,402.7 372.7,402.7 373.8,402.7 374.9,402.6 376.0,402.6 377.3,401.9 378.6,401.1 379.8,400.4 380.9,399.7 382.1,399.1 383.1,398.5 384.2,397.7 385.2,396.9 386.2,396.2 387.1,395.5 388.1,394.7 389.0,394.0 389.9,393.2 390.7,392.4 391.5,391.5 392.3,390.7 393.1,389.9 393.9,389.0 394.6,388.2 395.4,387.4 396.2,386.6 397.0,385.7 397.9,384.8 398.7,383.9 399.5,383.0 400.2,382.0 400.8,381.0 401.5,379.9 402.2,378.9 402.9,377.7 403.7,376.6 404.5,375.4 405.3,374.1 406.1,372.7 407.0,371.3 407.7,369.8 408.2,368.4 408.7,367.0 409.2,365.4 409.6,363.9 409.8,362.4 410.0,360.8 409.9,359.4 409.0,358.6 408.1,357.8 407.2,357.0"/>
<polygon fill="#ffa000" points="356.6,384.8 364.9,377.3 386.5,363.2 403.1,354.1 409.7,359.9 406.4,370.7 398.1,383.2 388.2,393.1 376.5,401.4 363.2,400.6 357.4,393.1"/>
<polygon fill="#ff9500" points="405.0,357.2 403.9,356.8 402.4,356.9 401.0,356.9 398.9,358.0 397.0,359.1 395.3,360.0 393.8,360.9 392.5,361.7 391.3,362.3 390.2,362.9 389.2,363.4 388.3,364.0 387.4,364.4 386.5,364.9 385.7,365.4 385.0,365.9 384.2,366.3 383.5,366.8 382.8,367.2 382.1,367.6 381.5,368.0 380.8,368.4 380.2,368.8 379.5,369.2 378.9,369.6 378.2,370.0 377.6,370.5 376.9,370.9 376.2,371.3 375.5,371.7 374.8,372.2 374.0,372.7 373.2,373.2 372.3,373.7 371.4,374.3 370.4,374.9 369.3,375.6 368.2,376.3 366.9,377.1 365.6,378.0 364.4,379.0 363.2,380.1 361.8,381.3 360.2,382.6 358.5,384.1 358.2,385.4 358.4,386.6 358.6,387.7 358.8,388.8 359.0,389.9 359.2,390.9 359.4,392.0 360.0,392.8 360.5,393.7 361.1,394.5 361.6,395.3 362.2,396.0 362.8,396.7 363.4,397.5 364.0,398.2 364.6,398.9 365.6,399.2 366.6,399.5 367.6,399.7 368.5,399.9 369.7,399.8 370.9,399.6 372.0,399.4 373.1,399.3 374.1,399.2 375.1,399.0 376.1,398.9 377.1,398.8 378.2,398.2 379.3,397.5 380.3,396.8 381.3,396.1 382.3,395.4 383.2,394.7 384.0,394.1 384.9,393.4 385.7,392.8 386.5,392.2 387.2,391.6 388.0,391.0 388.7,390.3 389.4,389.6 390.1,389.0 390.7,388.3 391.4,387.7 392.1,387.0 392.7,386.3 393.4,385.7 394.1,385.0 394.8,384.3 395.5,383.5 396.3,382.8 396.9,382.0 397.5,381.2 398.1,380.3 398.8,379.4 399.5,378.5 400.2,377.6 401.0,376.5 401.8,375.5 402.7,374.3 403.7,373.0 404.6,371.7 405.1,370.4 405.6,369.2 406.1,367.8 406.6,366.4 407.1,364.9 407.7,363.3 408.3,361.6 408.2,360.3 407.3,359.5 406.6,358.7 405.8,358.0"/>
<polygon fill="#e8582e" points="404.2,357.9 402.8,357.9 400.7,358.9 398.9,359.6 396.9,360.7 395.1,361.7 393.6,362.6 392.3,363.4 391.2,364.1 390.1,364.7 389.2,365.2 388.3,365.6 387.5,366.1 386.8,366.5 386.0,366.9 385.4,367.3 384.7,367.7 384.0,368.0 383.4,368.4 382.8,368.8 382.2,369.1 381.7,369.4 381.1,369.8 380.5,370.1 379.9,370.5 379.4,370.8 378.8,371.1 378.2,371.5 377.6,371.8 377.0,372.2 376.3,372.6 375.6,373.0 374.9,373.4 374.2,373.8 373.4,374.3 372.5,374.8 371.6,375.3 370.6,375.9 369.5,376.5 368.3,377.3 366.9,378.1 365.8,379.0 364.6,380.0 363.2,381.1 361.7,382.4 359.9,383.8 359.6,385.0 360.0,386.1 360.3,387.1 360.6,388.1 360.9,389.0 361.1,390.0 361.4,390.9 361.9,391.7 362.3,392.5 362.8,393.3 363.2,394.1 363.7,394.8 364.3,395.4 364.9,396.1 365.5,396.7 366.1,397.3 366.9,397.8 367.6,398.2 368.4,398.6 369.2,399.0 370.5,398.6 371.7,398.2 372.9,397.8 374.0,397.5 375.0,397.1 376.0,396.8 376.9,396.6 377.9,396.3 378.8,395.8 379.8,395.2 380.7,394.7 381.5,394.1 382.4,393.4 383.1,392.8 383.9,392.2 384.6,391.6 385.3,391.0 386.0,390.4 386.6,389.9 387.3,389.3 387.9,388.8 388.5,388.2 389.1,387.6 389.7,387.1 390.3,386.5 390.9,386.0 391.4,385.4 392.0,384.8 392.6,384.2 393.2,383.6 393.9,383.0 394.5,382.3 395.1,381.6 395.7,380.9 396.3,380.2 397.0,379.4 397.7,378.6 398.5,377.7 399.3,376.8 400.1,375.8 401.1,374.7 402.2,373.5 403.1,372.2 403.6,371.0 404.1,369.8 404.7,368.5 405.2,367.2 405.8,365.7 406.5,364.1 407.2,362.3 407.1,361.1 406.4,360.3 405.7,359.5 404.9,358.7"/>
<polygon fill="#c8323a" points="360.8,384.0 368.2,378.2 389.8,366.6 403.1,358.2 406.4,362.4 401.4,373.2 389.8,384.8 381.5,392.3 369.9,398.1 364.9,393.1"/>
<polygon fill="#a83236" points="399.2,362.9 396.4,364.6 394.4,365.8 392.8,366.8 391.4,367.6 390.3,368.2 389.3,368.8 388.4,369.3 387.6,369.8 387.0,370.1 386.3,370.4 385.7,370.7 385.2,371.0 384.7,371.3 384.2,371.5 383.7,371.8 383.3,372.0 382.8,372.3 382.4,372.5 382.0,372.7 381.6,372.9 381.2,373.1 380.8,373.3 380.4,373.5 380.0,373.8 379.5,374.0 379.1,374.2 378.7,374.4 378.2,374.7 377.8,374.9 377.3,375.1 376.8,375.4 376.2,375.7 375.7,376.0 375.1,376.3 374.4,376.7 373.7,377.0 372.8,377.5 371.9,377.9 370.9,378.5 369.9,379.1 368.8,379.8 367.6,380.6 366.1,381.5 364.3,382.6 362.3,383.9 362.4,384.9 362.8,385.7 363.2,386.5 363.6,387.3 364.0,388.0 364.4,388.7 364.7,389.4 365.1,390.1 365.4,390.7 365.7,391.4 366.2,391.9 366.6,392.5 367.1,393.0 367.6,393.4 368.1,393.9 368.6,394.4 369.1,394.9 369.6,395.4 370.1,395.9 370.8,396.1 372.0,395.6 373.3,394.9 374.4,394.2 375.4,393.6 376.3,393.1 377.1,392.6 377.9,392.2 378.6,391.8 379.3,391.4 379.9,391.0 380.5,390.6 381.1,390.3 381.7,389.9 382.2,389.5 382.8,389.1 383.3,388.6 383.8,388.2 384.2,387.9 384.7,387.5 385.1,387.1 385.6,386.7 386.0,386.4 386.5,386.0 387.0,385.6 387.4,385.3 387.9,384.9 388.3,384.5 388.8,384.1 389.3,383.7 389.8,383.2 390.2,382.7 390.7,382.3 391.1,381.8 391.6,381.2 392.2,380.7 392.7,380.1 393.3,379.5 393.9,378.8 394.6,378.1 395.4,377.3 396.2,376.4 397.1,375.5 398.2,374.4 398.9,373.3 399.6,372.2 400.5,370.9 401.5,369.5 402.6,367.8 403.4,366.2 404.0,364.7 404.3,363.3 404.2,362.1 404.1,360.8 402.9,360.5"/>
<polygon fill="#803c3c" points="363.0,384.0 371.5,379.8 391.5,369.9 403.9,359.9 401.4,368.2 388.2,383.2 371.5,394.8 367.0,390.5"/>
<polygon fill="#4a3c38" points="364.9,383.2 373.2,381.5 384.8,381.5 384.0,384.8 369.9,389.8 366.6,387.3"/>
<line x1="306.0" y1="461.4" x2="492.7" y2="257.8" stroke="#a56be8" stroke-width="0.7" stroke-opacity="0.85"/>
<circle cx="377.2" cy="377.6" r="0.78" fill="#f03c58"/>
<circle cx="368.1" cy="388.4" r="0.78" fill="#f03c58"/>
<circle cx="395.1" cy="360.5" r="0.78" fill="#f03c58"/>
<circle cx="417.8" cy="358.0" r="0.78" fill="#f03c58"/>
<circle cx="386.8" cy="386.2" r="0.78" fill="#f03c58"/>
<circle cx="365.9" cy="398.9" r="0.78" fill="#f03c58"/>
<circle cx="381.1" cy="374.4" r="0.78" fill="#f03c58"/>
<circle cx="372.7" cy="354.6" r="0.78" fill="#f03c58"/>
<circle cx="409.5" cy="377.3" r="0.78" fill="#f03c58"/>
<circle cx="388.9" cy="382.8" r="0.78" fill="#f03c58"/>
<circle cx="359.6" cy="382.1" r="0.78" fill="#f03c58"/>
<circle cx="390.8" cy="401.6" r="0.78" fill="#f03c58"/>
<circle cx="388.4" cy="378.1" r="0.78" fill="#f03c58"/>
<circle cx="363.9" cy="412.4" r="0.78" fill="#f03c58"/>
<circle cx="367.8" cy="394.6" r="0.78" fill="#f03c58"/>
<circle cx="371.0" cy="389.9" r="0.78" fill="#f03c58"/>
<circle cx="422.6" cy="351.9" r="0.78" fill="#f03c58"/>
<circle cx="366.0" cy="399.9" r="0.78" fill="#f03c58"/>
<circle cx="407.2" cy="365.8" r="0.78" fill="#f03c58"/>
<circle cx="418.6" cy="363.8" r="0.78" fill="#f03c58"/>
<circle cx="360.0" cy="402.9" r="0.78" fill="#f03c58"/>
<circle cx="367.7" cy="403.9" r="0.78" fill="#f03c58"/>
<circle cx="383.3" cy="367.4" r="0.78" fill="#f03c58"/>
<circle cx="384.4" cy="381.9" r="0.78" fill="#f03c58"/>
<circle cx="403.5" cy="352.3" r="0.78" fill="#f03c58"/>
<circle cx="365.9" cy="377.2" r="0.78" fill="#f03c58"/>
<circle cx="360.9" cy="398.6" r="0.78" fill="#f03c58"/>
<circle cx="393.1" cy="369.0" r="0.78" fill="#f03c58"/>
<circle cx="365.9" cy="390.6" r="0.78" fill="#f03c58"/>
<circle cx="373.9" cy="397.3" r="0.78" fill="#f03c58"/>
<circle cx="349.6" cy="392.1" r="0.78" fill="#f03c58"/>
<circle cx="360.1" cy="383.9" r="0.78" fill="#f03c58"/>
<circle cx="389.6" cy="376.5" r="0.78" fill="#f03c58"/>
<circle cx="391.1" cy="366.7" r="0.78" fill="#f03c58"/>
<circle cx="393.3" cy="390.1" r="0.78" fill="#f03c58"/>
<circle cx="374.4" cy="373.6" r="0.78" fill="#f03c58"/>
<circle cx="381.9" cy="364.6" r="0.78" fill="#f03c58"/>
<circle cx="406.3" cy="349.3" r="0.78" fill="#f03c58"/>
<circle cx="430.9" cy="354.7" r="0.78" fill="#f03c58"/>
<circle cx="394.9" cy="406.4" r="0.78" fill="#f03c58"/>
<circle cx="395.5" cy="365.0" r="0.78" fill="#f03c58"/>
<circle cx="416.3" cy="351.4" r="0.78" fill="#f03c58"/>
<circle cx="329.9" cy="412.2" r="0.78" fill="#f03c58"/>
<circle cx="363.3" cy="418.4" r="0.78" fill="#f03c58"/>
<circle cx="371.6" cy="380.6" r="0.78" fill="#f03c58"/>
<circle cx="368.5" cy="390.6" r="0.78" fill="#f03c58"/>
<circle cx="329.3" cy="405.8" r="0.78" fill="#f03c58"/>
<circle cx="377.7" cy="382.4" r="0.78" fill="#f03c58"/>
<circle cx="390.3" cy="369.1" r="0.78" fill="#f03c58"/>
<circle cx="391.2" cy="385.3" r="0.78" fill="#f03c58"/>
<circle cx="374.4" cy="380.8" r="0.78" fill="#f03c58"/>
<circle cx="401.6" cy="362.3" r="0.78" fill="#f03c58"/>
<circle cx="379.2" cy="377.6" r="0.78" fill="#f03c58"/>
<circle cx="389.7" cy="369.1" r="0.78" fill="#f03c58"/>
<circle cx="379.0" cy="391.0" r="0.78" fill="#f03c58"/>
<circle cx="399.9" cy="357.5" r="0.78" fill="#f03c58"/>
<circle cx="353.4" cy="354.5" r="0.78" fill="#f03c58"/>
<circle cx="390.8" cy="357.9" r="0.78" fill="#f03c58"/>
<circle cx="390.9" cy="386.9" r="0.78" fill="#f03c58"/>
<circle cx="403.2" cy="360.2" r="0.78" fill="#f03c58"/>
<circle cx="373.1" cy="373.0" r="0.78" fill="#f03c58"/>
<circle cx="398.3" cy="360.0" r="0.78" fill="#f03c58"/>
<circle cx="364.1" cy="365.3" r="0.78" fill="#f03c58"/>
<circle cx="399.3" cy="378.6" r="0.78" fill="#f03c58"/>
<circle cx="393.7" cy="366.0" r="0.78" fill="#f03c58"/>
<circle cx="375.3" cy="376.0" r="0.78" fill="#f03c58"/>
<circle cx="369.0" cy="361.8" r="0.78" fill="#f03c58"/>
<circle cx="382.1" cy="376.0" r="0.78" fill="#f03c58"/>
<circle cx="407.4" cy="363.4" r="0.78" fill="#f03c58"/>
<circle cx="400.5" cy="362.4" r="0.78" fill="#f03c58"/>
<circle cx="410.0" cy="365.2" r="0.78" fill="#f03c58"/>
<circle cx="400.7" cy="386.1" r="0.78" fill="#f03c58"/>
<circle cx="371.1" cy="390.6" r="0.78" fill="#f03c58"/>
<circle cx="374.4" cy="356.9" r="0.78" fill="#f03c58"/>
<circle cx="426.8" cy="356.0" r="0.78" fill="#f03c58"/>
<circle cx="355.3" cy="387.3" r="0.78" fill="#f03c58"/>
<circle cx="399.3" cy="383.9" r="0.78" fill="#f03c58"/>
<circle cx="398.4" cy="381.1" r="0.78" fill="#f03c58"/>
<circle cx="372.8" cy="408.8" r="0.78" fill="#f03c58"/>
<circle cx="357.4" cy="369.7" r="0.78" fill="#f03c58"/>
<circle cx="388.3" cy="375.3" r="0.78" fill="#f03c58"/>
<circle cx="433.3" cy="335.8" r="0.78" fill="#f03c58"/>
<circle cx="379.1" cy="387.0" r="0.78" fill="#f03c58"/>
<circle cx="390.7" cy="376.1" r="0.78" fill="#f03c58"/>
<circle cx="411.1" cy="355.5" r="0.78" fill="#f03c58"/>
<circle cx="389.4" cy="369.1" r="0.78" fill="#f03c58"/>
<circle cx="370.6" cy="406.5" r="0.78" fill="#f03c58"/>
<circle cx="396.8" cy="400.8" r="0.78" fill="#f03c58"/>
<circle cx="379.7" cy="381.1" r="0.78" fill="#f03c58"/>
<circle cx="383.4" cy="379.8" r="0.78" fill="#f03c58"/>
<circle cx="389.7" cy="377.7" r="0.78" fill="#f03c58"/>
<circle cx="405.4" cy="381.9" r="0.78" fill="#f03c58"/>
<circle cx="404.9" cy="370.8" r="0.78" fill="#f03c58"/>
<circle cx="393.2" cy="376.0" r="0.78" fill="#f03c58"/>
<circle cx="377.7" cy="396.5" r="0.78" fill="#f03c58"/>
<circle cx="415.0" cy="363.9" r="0.78" fill="#f03c58"/>
<circle cx="354.5" cy="404.1" r="0.78" fill="#f03c58"/>
<circle cx="384.8" cy="376.5" r="0.78" fill="#f03c58"/>
<circle cx="366.0" cy="406.1" r="0.78" fill="#f03c58"/>
<circle cx="405.9" cy="372.1" r="0.78" fill="#f03c58"/>
<circle cx="386.4" cy="364.3" r="0.78" fill="#f03c58"/>
<circle cx="392.1" cy="388.8" r="0.78" fill="#f03c58"/>
<circle cx="416.7" cy="343.3" r="0.78" fill="#f03c58"/>
<circle cx="386.8" cy="381.0" r="0.78" fill="#f03c58"/>
<circle cx="363.4" cy="402.7" r="0.78" fill="#f03c58"/>
<circle cx="390.5" cy="384.6" r="0.78" fill="#f03c58"/>
<circle cx="373.4" cy="370.7" r="0.78" fill="#f03c58"/>
<circle cx="389.4" cy="374.1" r="0.78" fill="#f03c58"/>
<circle cx="393.6" cy="354.1" r="0.78" fill="#f03c58"/>
<circle cx="404.0" cy="370.3" r="0.78" fill="#f03c58"/>
<circle cx="338.0" cy="411.6" r="0.78" fill="#f03c58"/>
<circle cx="384.1" cy="383.6" r="0.78" fill="#f03c58"/>
<circle cx="393.1" cy="375.9" r="0.78" fill="#f03c58"/>
<circle cx="353.8" cy="380.2" r="0.78" fill="#f03c58"/>
<circle cx="342.2" cy="406.8" r="0.78" fill="#f03c58"/>
<circle cx="386.3" cy="348.2" r="0.78" fill="#f03c58"/>
<circle cx="381.1" cy="373.0" r="0.78" fill="#f03c58"/>
<circle cx="361.8" cy="399.7" r="0.78" fill="#f03c58"/>
<circle cx="343.0" cy="427.8" r="0.78" fill="#f03c58"/>
<circle cx="380.3" cy="383.3" r="0.78" fill="#f03c58"/>
<circle cx="361.6" cy="382.4" r="0.78" fill="#f03c58"/>
<circle cx="347.7" cy="412.2" r="0.78" fill="#f03c58"/>
<circle cx="371.9" cy="389.5" r="0.78" fill="#f03c58"/>
<circle cx="366.0" cy="365.8" r="0.78" fill="#f03c58"/>
<circle cx="348.6" cy="392.6" r="0.78" fill="#f03c58"/>
<circle cx="408.7" cy="355.3" r="0.78" fill="#f03c58"/>
<circle cx="377.5" cy="403.6" r="0.78" fill="#f03c58"/>
<circle cx="347.2" cy="383.1" r="0.78" fill="#f03c58"/>
<circle cx="333.8" cy="421.1" r="0.78" fill="#f03c58"/>
<circle cx="351.7" cy="380.9" r="0.78" fill="#f03c58"/>
<circle cx="396.7" cy="386.2" r="0.78" fill="#f03c58"/>
<circle cx="368.3" cy="390.7" r="0.78" fill="#f03c58"/>
<circle cx="389.8" cy="386.8" r="0.78" fill="#f03c58"/>
<circle cx="378.0" cy="391.1" r="0.78" fill="#f03c58"/>
<circle cx="387.4" cy="370.3" r="0.78" fill="#f03c58"/>
<circle cx="389.0" cy="382.0" r="0.78" fill="#f03c58"/>
<circle cx="399.9" cy="370.8" r="0.78" fill="#f03c58"/>
<circle cx="367.0" cy="401.7" r="0.78" fill="#f03c58"/>
<circle cx="376.0" cy="390.7" r="0.78" fill="#f03c58"/>
<circle cx="331.5" cy="409.5" r="0.78" fill="#f03c58"/>
<circle cx="382.1" cy="359.4" r="0.78" fill="#f03c58"/>
<circle cx="366.4" cy="383.9" r="0.78" fill="#f03c58"/>
<circle cx="383.7" cy="377.8" r="0.78" fill="#f03c58"/>
<circle cx="420.0" cy="351.2" r="0.78" fill="#f03c58"/>
<circle cx="404.7" cy="384.1" r="0.78" fill="#f03c58"/>
<circle cx="392.5" cy="372.2" r="0.78" fill="#f03c58"/>
<circle cx="364.6" cy="406.6" r="0.78" fill="#f03c58"/>
<circle cx="346.5" cy="431.9" r="0.78" fill="#f03c58"/>
<circle cx="403.8" cy="399.1" r="0.78" fill="#f03c58"/>
<circle cx="393.8" cy="353.1" r="0.78" fill="#f03c58"/>
<circle cx="344.0" cy="306.0" r="0.78" fill="#f03c58"/>
<circle cx="352.0" cy="312.5" r="0.78" fill="#f03c58"/>
<circle cx="357.5" cy="323.5" r="0.78" fill="#f03c58"/>
<circle cx="325.5" cy="337.0" r="0.78" fill="#f03c58"/>
<circle cx="413.4" cy="269.4" r="0.78" fill="#f03c58"/>
<circle cx="430.2" cy="287.2" r="0.78" fill="#f03c58"/>
<circle cx="399.8" cy="301.2" r="0.78" fill="#f03c58"/>
<circle cx="441.0" cy="317.0" r="0.78" fill="#f03c58"/>
<circle cx="447.2" cy="375.5" r="0.78" fill="#f03c58"/>
<circle cx="475.0" cy="385.7" r="0.78" fill="#f03c58"/>
<circle cx="424.5" cy="413.5" r="0.78" fill="#f03c58"/>
<circle cx="320.5" cy="365.0" r="0.78" fill="#f03c58"/>
<circle cx="320.0" cy="379.0" r="0.78" fill="#f03c58"/>
<circle cx="311.5" cy="415.5" r="0.78" fill="#f03c58"/>
<circle cx="319.0" cy="433.0" r="0.78" fill="#f03c58"/>
<circle cx="354.5" cy="447.5" r="0.78" fill="#f03c58"/>
<circle cx="440.5" cy="420.5" r="0.78" fill="#f03c58"/>
<circle cx="405.0" cy="331.0" r="0.78" fill="#f03c58"/>
<circle cx="391.0" cy="336.0" r="0.78" fill="#f03c58"/>
<circle cx="376.0" cy="344.0" r="0.78" fill="#f03c58"/>
<circle cx="355.0" cy="349.5" r="0.78" fill="#f03c58"/>
<circle cx="347.0" cy="354.0" r="0.78" fill="#f03c58"/>
</g>
<rect x="306" y="257.8" width="186.7" height="203.59999999999997" fill="none" stroke="#86949a" stroke-width="0.75"/>
<text x="481.8" y="287.2" font-size="7.6" font-style="italic" text-anchor="middle" transform="rotate(-47.7 481.8 287.2)">y = x</text>
<text x="319.0" y="470.3" text-anchor="middle">−20</text>
<text x="303.5" y="451.4" text-anchor="end">−20</text>
<line x1="319.0" y1="462.0" x2="319.0" y2="460.2" stroke="#7d8a90" stroke-width="0.5"/>
<line x1="305.4" y1="448.6" x2="307.2" y2="448.6" stroke="#7d8a90" stroke-width="0.5"/>
<text x="360.3" y="470.3" text-anchor="middle">−10</text>
<text x="303.5" y="406.0" text-anchor="end">−10</text>
<line x1="360.3" y1="462.0" x2="360.3" y2="460.2" stroke="#7d8a90" stroke-width="0.5"/>
<line x1="305.4" y1="403.2" x2="307.2" y2="403.2" stroke="#7d8a90" stroke-width="0.5"/>
<text x="401.6" y="470.3" text-anchor="middle">0</text>
<text x="303.5" y="360.6" text-anchor="end">0</text>
<line x1="401.6" y1="462.0" x2="401.6" y2="460.2" stroke="#7d8a90" stroke-width="0.5"/>
<line x1="305.4" y1="357.8" x2="307.2" y2="357.8" stroke="#7d8a90" stroke-width="0.5"/>
<text x="442.9" y="470.3" text-anchor="middle">10</text>
<text x="303.5" y="315.1" text-anchor="end">10</text>
<line x1="442.9" y1="462.0" x2="442.9" y2="460.2" stroke="#7d8a90" stroke-width="0.5"/>
<line x1="305.4" y1="312.3" x2="307.2" y2="312.3" stroke="#7d8a90" stroke-width="0.5"/>
<text x="484.2" y="470.3" text-anchor="middle">20</text>
<text x="303.5" y="269.7" text-anchor="end">20</text>
<line x1="484.2" y1="462.0" x2="484.2" y2="460.2" stroke="#7d8a90" stroke-width="0.5"/>
<line x1="305.4" y1="266.9" x2="307.2" y2="266.9" stroke="#7d8a90" stroke-width="0.5"/>
<line x1="339.6" y1="461.4" x2="339.6" y2="460.5" stroke="#7d8a90" stroke-width="0.4"/>
<line x1="306" y1="425.9" x2="306.9" y2="425.9" stroke="#7d8a90" stroke-width="0.4"/>
<line x1="380.9" y1="461.4" x2="380.9" y2="460.5" stroke="#7d8a90" stroke-width="0.4"/>
<line x1="306" y1="380.5" x2="306.9" y2="380.5" stroke="#7d8a90" stroke-width="0.4"/>
<line x1="422.2" y1="461.4" x2="422.2" y2="460.5" stroke="#7d8a90" stroke-width="0.4"/>
<line x1="306" y1="335.0" x2="306.9" y2="335.0" stroke="#7d8a90" stroke-width="0.4"/>
<line x1="463.5" y1="461.4" x2="463.5" y2="460.5" stroke="#7d8a90" stroke-width="0.4"/>
<line x1="306" y1="289.6" x2="306.9" y2="289.6" stroke="#7d8a90" stroke-width="0.4"/>
<text x="399.4" y="476.6" text-anchor="middle">true / mm</text>
<text x="287.0" y="360.6" text-anchor="middle" font-size="8.5" transform="rotate(-90 287.0 360.6)">interpolation (Cubic spline) / mm</text>
<rect x="500.4" y="453.47" width="21.399999999999977" height="5.23" fill="#eef6fb"/>
<rect x="500.4" y="448.54" width="21.399999999999977" height="5.23" fill="#d3e0dc"/>
<rect x="500.4" y="443.62" width="21.399999999999977" height="5.23" fill="#cde0f1"/>
<rect x="500.4" y="438.69" width="21.399999999999977" height="5.23" fill="#eed5eb"/>
<rect x="500.4" y="433.76" width="21.399999999999977" height="5.23" fill="#f6c6e0"/>
<rect x="500.4" y="428.83" width="21.399999999999977" height="5.23" fill="#f8a8d0"/>
<rect x="500.4" y="423.91" width="21.399999999999977" height="5.23" fill="#fa6cb8"/>
<rect x="500.4" y="418.98" width="21.399999999999977" height="5.23" fill="#b878b0"/>
<rect x="500.4" y="414.05" width="21.399999999999977" height="5.23" fill="#9c8cdc"/>
<rect x="500.4" y="409.12" width="21.399999999999977" height="5.23" fill="#7484bc"/>
<rect x="500.4" y="404.20" width="21.399999999999977" height="5.23" fill="#7a70b0"/>
<rect x="500.4" y="399.27" width="21.399999999999977" height="5.23" fill="#5c4c94"/>
<rect x="500.4" y="394.34" width="21.399999999999977" height="5.23" fill="#3c44a4"/>
<rect x="500.4" y="389.41" width="21.399999999999977" height="5.23" fill="#1038c8"/>
<rect x="500.4" y="384.49" width="21.399999999999977" height="5.23" fill="#0a5c9c"/>
<rect x="500.4" y="379.56" width="21.399999999999977" height="5.23" fill="#00f080"/>
<rect x="500.4" y="374.63" width="21.399999999999977" height="5.23" fill="#00b4f4"/>
<rect x="500.4" y="369.70" width="21.399999999999977" height="5.23" fill="#1080c4"/>
<rect x="500.4" y="364.78" width="21.399999999999977" height="5.23" fill="#0a5ca0"/>
<rect x="500.4" y="359.85" width="21.399999999999977" height="5.23" fill="#0a4c7c"/>
<rect x="500.4" y="354.92" width="21.399999999999977" height="5.23" fill="#0a5868"/>
<rect x="500.4" y="350.00" width="21.399999999999977" height="5.23" fill="#006058"/>
<rect x="500.4" y="345.07" width="21.399999999999977" height="5.23" fill="#00604c"/>
<rect x="500.4" y="340.14" width="21.399999999999977" height="5.23" fill="#a8e8b8"/>
<rect x="500.4" y="335.21" width="21.399999999999977" height="5.23" fill="#8fd8a4"/>
<rect x="500.4" y="330.28" width="21.399999999999977" height="5.23" fill="#7ab47c"/>
<rect x="500.4" y="325.36" width="21.399999999999977" height="5.23" fill="#c0d820"/>
<rect x="500.4" y="320.43" width="21.399999999999977" height="5.23" fill="#ffee00"/>
<rect x="500.4" y="315.50" width="21.399999999999977" height="5.23" fill="#ffdc00"/>
<rect x="500.4" y="310.57" width="21.399999999999977" height="5.23" fill="#ffc800"/>
<rect x="500.4" y="305.65" width="21.399999999999977" height="5.23" fill="#ffb400"/>
<rect x="500.4" y="300.72" width="21.399999999999977" height="5.23" fill="#ffa000"/>
<rect x="500.4" y="295.79" width="21.399999999999977" height="5.23" fill="#ff9500"/>
<rect x="500.4" y="290.87" width="21.399999999999977" height="5.23" fill="#e8582e"/>
<rect x="500.4" y="285.94" width="21.399999999999977" height="5.23" fill="#c8323a"/>
<rect x="500.4" y="281.01" width="21.399999999999977" height="5.23" fill="#a83236"/>
<rect x="500.4" y="276.08" width="21.399999999999977" height="5.23" fill="#803c3c"/>
<rect x="500.4" y="271.15" width="21.399999999999977" height="5.23" fill="#4a3c38"/>
<rect x="500.4" y="266.23" width="21.399999999999977" height="5.23" fill="#52281e"/>
<rect x="500.4" y="261.30" width="21.399999999999977" height="5.23" fill="#5c2a1c"/>
<rect x="500.4" y="261.3" width="21.399999999999977" height="197.09999999999997" fill="none" stroke="#6a6a6a" stroke-width="0.8"/>
<text x="511.1" y="257.0" text-anchor="middle">density</text>
<line x1="521.8" y1="458.3" x2="523.3" y2="458.3" stroke="#6a6a6a" stroke-width="0.5"/>
<text x="526.8" y="461.1">0</text>
<line x1="521.8" y1="400.2" x2="523.3" y2="400.2" stroke="#6a6a6a" stroke-width="0.5"/>
<text x="526.8" y="403.0">0.001</text>
<line x1="521.8" y1="342.1" x2="523.3" y2="342.1" stroke="#6a6a6a" stroke-width="0.5"/>
<text x="526.8" y="344.9">0.002</text>
<line x1="521.8" y1="284.0" x2="523.3" y2="284.0" stroke="#6a6a6a" stroke-width="0.5"/>
<text x="526.8" y="286.8">0.003</text>
</svg></body></html>
